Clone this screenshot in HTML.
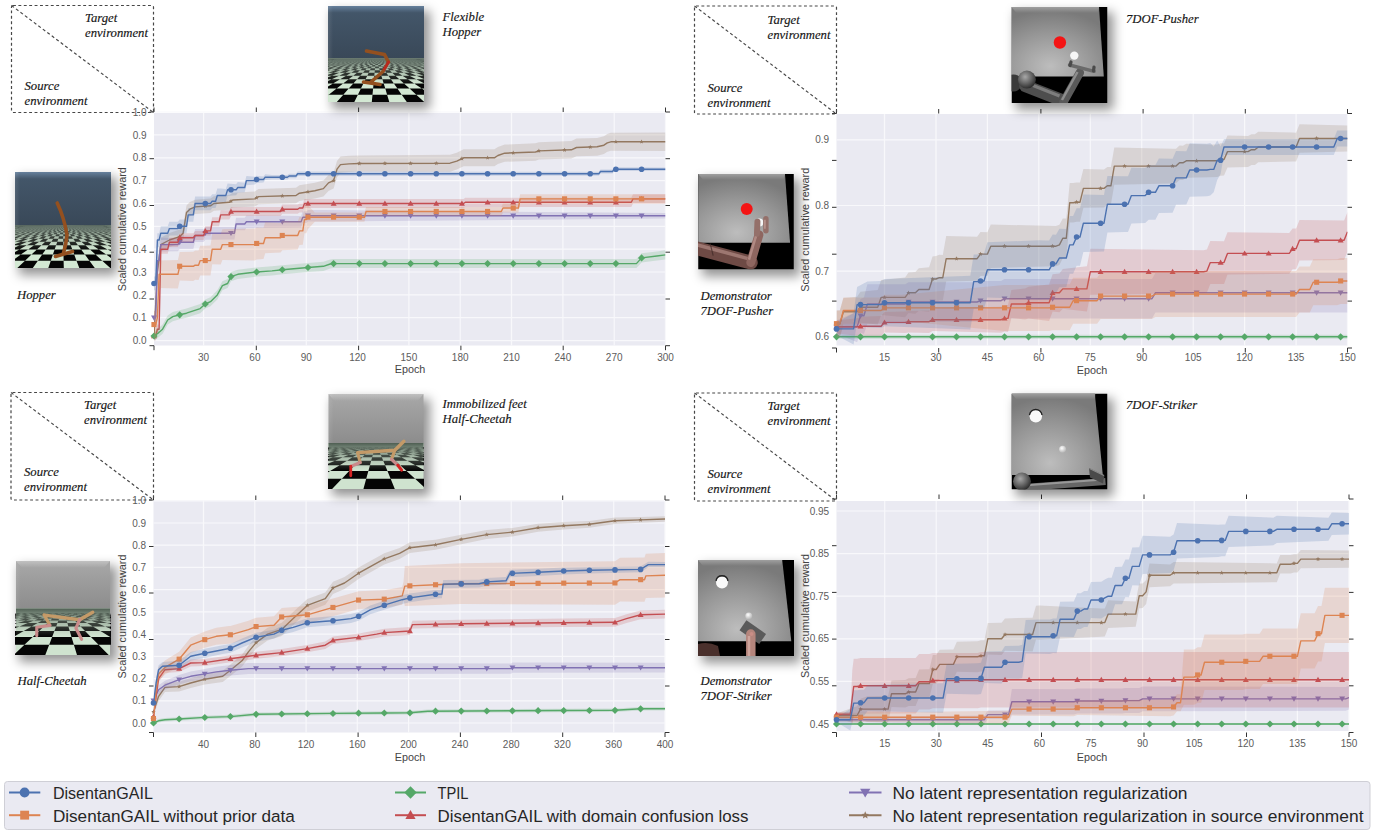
<!DOCTYPE html>
<html><head><meta charset="utf-8"><title>figure</title>
<style>
html,body{margin:0;padding:0;background:#fff;overflow:hidden}
svg{display:block}
.tk{font-family:"Liberation Sans", sans-serif;font-size:10px;fill:#5c5c5c}
.al{font-family:"Liberation Sans", sans-serif;font-size:10.8px;fill:#444}
.it{font-family:"Liberation Serif", serif;font-style:italic;font-size:12.7px;fill:#151515;stroke:#151515;stroke-width:0.15px}
.lg{font-family:"Liberation Sans", sans-serif;font-size:16.3px;fill:#262626}
</style></head><body>
<svg width="1380" height="839" viewBox="0 0 1380 839">
<defs>
<linearGradient id="skyH" x1="0" y1="0" x2="0" y2="1"><stop offset="0" stop-color="#66809c"/><stop offset="0.13" stop-color="#435669"/><stop offset="1" stop-color="#394858"/></linearGradient>
<linearGradient id="hazeH" x1="0" y1="0" x2="0" y2="1"><stop offset="0" stop-color="#5f6f66" stop-opacity="0.95"/><stop offset="0.3" stop-color="#6f7f74" stop-opacity="0.6"/><stop offset="1" stop-color="#8a9a8a" stop-opacity="0"/></linearGradient>
<linearGradient id="bevL" x1="0" y1="0" x2="1" y2="0"><stop offset="0" stop-color="#fff" stop-opacity="0.10"/><stop offset="1" stop-color="#fff" stop-opacity="0"/></linearGradient>
<linearGradient id="skyC" x1="0" y1="0" x2="0" y2="1"><stop offset="0" stop-color="#a8a8a8"/><stop offset="1" stop-color="#8c8c8c"/></linearGradient>
<linearGradient id="hazeC" x1="0" y1="0" x2="0" y2="1"><stop offset="0" stop-color="#4e5e52" stop-opacity="1"/><stop offset="0.3" stop-color="#6d7d70" stop-opacity="0.7"/><stop offset="1" stop-color="#9aaa9a" stop-opacity="0"/></linearGradient>
<linearGradient id="bevT" x1="0" y1="0" x2="0" y2="1"><stop offset="0" stop-color="#fff" stop-opacity="0.28"/><stop offset="1" stop-color="#fff" stop-opacity="0"/></linearGradient>
<radialGradient id="sphG" cx="0.4" cy="0.35" r="0.65"><stop offset="0" stop-color="#a8a8a8"/><stop offset="0.6" stop-color="#606060"/><stop offset="1" stop-color="#2e2e2e"/></radialGradient>
<radialGradient id="ballG" cx="0.4" cy="0.35" r="0.7"><stop offset="0" stop-color="#ffffff"/><stop offset="1" stop-color="#b0b0b0"/></radialGradient>
<radialGradient id="tableG" cx="0.42" cy="0.85" r="0.8"><stop offset="0" stop-color="#bdbdbd"/><stop offset="0.6" stop-color="#969696"/><stop offset="1" stop-color="#7a7a7a"/></radialGradient>
<filter id="shd" x="-30%" y="-30%" width="170%" height="170%"><feGaussianBlur stdDeviation="5.5"/></filter>
<symbol id="hop1" viewBox="0 0 96 96">
<rect width="96" height="52.5" fill="url(#skyH)"/>
<rect y="52" width="96" height="44" fill="#d3e8d3"/>
<path d="M-26.2 96.0L-8.7 96.0L0.7 88.7L-13.9 88.7ZM8.8 96.0L26.3 96.0L29.9 88.7L15.3 88.7ZM43.8 96.0L61.3 96.0L59.1 88.7L44.5 88.7ZM78.8 96.0L96.3 96.0L88.3 88.7L73.7 88.7ZM0.7 88.7L15.3 88.7L20.7 82.6L8.6 82.6ZM29.9 88.7L44.5 88.7L45.1 82.6L32.9 82.6ZM59.1 88.7L73.7 88.7L69.4 82.6L57.3 82.6ZM88.3 88.7L102.9 88.7L93.8 82.6L81.6 82.6ZM-3.6 82.6L8.6 82.6L15.1 77.5L5.0 77.5ZM20.7 82.6L32.9 82.6L35.4 77.5L25.3 77.5ZM45.1 82.6L57.3 82.6L55.7 77.5L45.6 77.5ZM69.4 82.6L81.6 82.6L76.0 77.5L65.9 77.5ZM93.8 82.6L105.9 82.6L96.3 77.5L86.2 77.5ZM-5.2 77.5L5.0 77.5L12.1 73.3L3.7 73.3ZM15.1 77.5L25.3 77.5L29.1 73.3L20.6 73.3ZM35.4 77.5L45.6 77.5L46.0 73.3L37.5 73.3ZM55.7 77.5L65.9 77.5L62.9 73.3L54.4 73.3ZM76.0 77.5L86.2 77.5L79.8 73.3L71.3 73.3ZM96.3 77.5L106.5 77.5L96.7 73.3L88.3 73.3ZM-4.8 73.3L3.7 73.3L11.1 69.7L4.0 69.7ZM12.1 73.3L20.6 73.3L25.2 69.7L18.1 69.7ZM29.1 73.3L37.5 73.3L39.3 69.7L32.2 69.7ZM46.0 73.3L54.4 73.3L53.4 69.7L46.3 69.7ZM62.9 73.3L71.3 73.3L67.4 69.7L60.4 69.7ZM79.8 73.3L88.3 73.3L81.5 69.7L74.5 69.7ZM96.7 73.3L105.2 73.3L95.6 69.7L88.6 69.7ZM-3.0 69.7L4.0 69.7L11.4 66.8L5.5 66.8ZM11.1 69.7L18.1 69.7L23.1 66.8L17.3 66.8ZM25.2 69.7L32.2 69.7L34.9 66.8L29.0 66.8ZM39.3 69.7L46.3 69.7L46.6 66.8L40.7 66.8ZM53.4 69.7L60.4 69.7L58.3 66.8L52.5 66.8ZM67.4 69.7L74.5 69.7L70.1 66.8L64.2 66.8ZM81.5 69.7L88.6 69.7L81.8 66.8L75.9 66.8ZM95.6 69.7L102.7 69.7L93.5 66.8L87.7 66.8ZM-12.1 66.8L-6.2 66.8L2.9 64.3L-2.0 64.3ZM-0.3 66.8L5.5 66.8L12.6 64.3L7.8 64.3ZM11.4 66.8L17.3 66.8L22.4 64.3L17.5 64.3ZM23.1 66.8L29.0 66.8L32.2 64.3L27.3 64.3ZM34.9 66.8L40.7 66.8L41.9 64.3L37.1 64.3ZM46.6 66.8L52.5 66.8L51.7 64.3L46.8 64.3ZM58.3 66.8L64.2 66.8L61.5 64.3L56.6 64.3ZM70.1 66.8L75.9 66.8L71.2 64.3L66.4 64.3ZM81.8 66.8L87.7 66.8L81.0 64.3L76.1 64.3ZM93.5 66.8L99.4 66.8L90.8 64.3L85.9 64.3ZM105.3 66.8L111.1 66.8L100.5 64.3L95.7 64.3ZM-6.9 64.3L-2.0 64.3L6.4 62.2L2.3 62.2ZM2.9 64.3L7.8 64.3L14.5 62.2L10.5 62.2ZM12.6 64.3L17.5 64.3L22.7 62.2L18.6 62.2ZM22.4 64.3L27.3 64.3L30.8 62.2L26.7 62.2ZM32.2 64.3L37.1 64.3L38.9 62.2L34.8 62.2ZM41.9 64.3L46.8 64.3L47.0 62.2L43.0 62.2ZM51.7 64.3L56.6 64.3L55.1 62.2L51.1 62.2ZM61.5 64.3L66.4 64.3L63.3 62.2L59.2 62.2ZM71.2 64.3L76.1 64.3L71.4 62.2L67.3 62.2ZM81.0 64.3L85.9 64.3L79.5 62.2L75.5 62.2ZM90.8 64.3L95.7 64.3L87.6 62.2L83.6 62.2ZM100.5 64.3L105.4 64.3L95.8 62.2L91.7 62.2ZM-9.8 62.2L-5.8 62.2L3.3 60.5L-0.1 60.5ZM-1.7 62.2L2.3 62.2L10.1 60.5L6.7 60.5ZM6.4 62.2L10.5 62.2L16.8 60.5L13.4 60.5ZM14.5 62.2L18.6 62.2L23.6 60.5L20.2 60.5ZM22.7 62.2L26.7 62.2L30.3 60.5L26.9 60.5ZM30.8 62.2L34.8 62.2L37.1 60.5L33.7 60.5ZM38.9 62.2L43.0 62.2L43.8 60.5L40.4 60.5ZM47.0 62.2L51.1 62.2L50.6 60.5L47.2 60.5ZM55.1 62.2L59.2 62.2L57.3 60.5L53.9 60.5ZM63.3 62.2L67.3 62.2L64.1 60.5L60.7 60.5ZM71.4 62.2L75.5 62.2L70.8 60.5L67.4 60.5ZM79.5 62.2L83.6 62.2L77.6 60.5L74.2 60.5ZM87.6 62.2L91.7 62.2L84.3 60.5L80.9 60.5ZM95.8 62.2L99.8 62.2L91.1 60.5L87.7 60.5ZM103.9 62.2L108.0 62.2L97.8 60.5L94.5 60.5ZM-10.2 60.5L-6.8 60.5L2.5 59.0L-0.3 59.0ZM-3.4 60.5L-0.1 60.5L8.1 59.0L5.3 59.0ZM3.3 60.5L6.7 60.5L13.7 59.0L10.9 59.0ZM10.1 60.5L13.4 60.5L19.3 59.0L16.5 59.0ZM16.8 60.5L20.2 60.5L24.9 59.0L22.1 59.0ZM23.6 60.5L26.9 60.5L30.5 59.0L27.7 59.0ZM30.3 60.5L33.7 60.5L36.1 59.0L33.3 59.0ZM37.1 60.5L40.4 60.5L41.7 59.0L38.9 59.0ZM43.8 60.5L47.2 60.5L47.3 59.0L44.5 59.0ZM50.6 60.5L53.9 60.5L52.9 59.0L50.1 59.0ZM57.3 60.5L60.7 60.5L58.5 59.0L55.7 59.0ZM64.1 60.5L67.4 60.5L64.1 59.0L61.3 59.0ZM70.8 60.5L74.2 60.5L69.8 59.0L66.9 59.0ZM77.6 60.5L80.9 60.5L75.4 59.0L72.6 59.0ZM84.3 60.5L87.7 60.5L81.0 59.0L78.2 59.0ZM91.1 60.5L94.5 60.5L86.6 59.0L83.8 59.0ZM97.8 60.5L101.2 60.5L92.2 59.0L89.4 59.0ZM104.6 60.5L108.0 60.5L97.8 59.0L95.0 59.0ZM-8.7 59.0L-5.9 59.0L3.3 57.8L1.0 57.8ZM-3.1 59.0L-0.3 59.0L7.9 57.8L5.6 57.8ZM2.5 59.0L5.3 59.0L12.6 57.8L10.3 57.8ZM8.1 59.0L10.9 59.0L17.2 57.8L14.9 57.8ZM13.7 59.0L16.5 59.0L21.9 57.8L19.5 57.8ZM19.3 59.0L22.1 59.0L26.5 57.8L24.2 57.8ZM24.9 59.0L27.7 59.0L31.2 57.8L28.8 57.8ZM30.5 59.0L33.3 59.0L35.8 57.8L33.5 57.8ZM36.1 59.0L38.9 59.0L40.5 57.8L38.1 57.8ZM41.7 59.0L44.5 59.0L45.1 57.8L42.8 57.8ZM47.3 59.0L50.1 59.0L49.8 57.8L47.4 57.8ZM52.9 59.0L55.7 59.0L54.4 57.8L52.1 57.8ZM58.5 59.0L61.3 59.0L59.1 57.8L56.7 57.8ZM64.1 59.0L66.9 59.0L63.7 57.8L61.4 57.8ZM69.8 59.0L72.6 59.0L68.4 57.8L66.0 57.8ZM75.4 59.0L78.2 59.0L73.0 57.8L70.7 57.8ZM81.0 59.0L83.8 59.0L77.7 57.8L75.3 57.8ZM86.6 59.0L89.4 59.0L82.3 57.8L80.0 57.8ZM92.2 59.0L95.0 59.0L87.0 57.8L84.6 57.8ZM97.8 59.0L100.6 59.0L91.6 57.8L89.3 57.8ZM103.4 59.0L106.2 59.0L96.3 57.8L93.9 57.8ZM-10.7 57.8L-8.3 57.8L1.3 56.8L-0.6 56.8ZM-6.0 57.8L-3.7 57.8L5.2 56.8L3.3 56.8ZM-1.4 57.8L1.0 57.8L9.0 56.8L7.1 56.8ZM3.3 57.8L5.6 57.8L12.9 56.8L11.0 56.8ZM7.9 57.8L10.3 57.8L16.7 56.8L14.8 56.8ZM12.6 57.8L14.9 57.8L20.6 56.8L18.7 56.8ZM17.2 57.8L19.5 57.8L24.4 56.8L22.5 56.8ZM21.9 57.8L24.2 57.8L28.3 56.8L26.4 56.8ZM26.5 57.8L28.8 57.8L32.1 56.8L30.2 56.8ZM31.2 57.8L33.5 57.8L36.0 56.8L34.1 56.8ZM35.8 57.8L38.1 57.8L39.8 56.8L37.9 56.8ZM40.5 57.8L42.8 57.8L43.7 56.8L41.8 56.8ZM45.1 57.8L47.4 57.8L47.5 56.8L45.6 56.8ZM49.8 57.8L52.1 57.8L51.4 56.8L49.5 56.8ZM54.4 57.8L56.7 57.8L55.2 56.8L53.3 56.8ZM59.1 57.8L61.4 57.8L59.1 56.8L57.2 56.8ZM63.7 57.8L66.0 57.8L62.9 56.8L61.0 56.8ZM68.4 57.8L70.7 57.8L66.8 56.8L64.9 56.8ZM73.0 57.8L75.3 57.8L70.6 56.8L68.7 56.8ZM77.7 57.8L80.0 57.8L74.5 56.8L72.6 56.8ZM82.3 57.8L84.6 57.8L78.3 56.8L76.4 56.8ZM87.0 57.8L89.3 57.8L82.2 56.8L80.3 56.8ZM91.6 57.8L93.9 57.8L86.0 56.8L84.1 56.8ZM96.3 57.8L98.6 57.8L89.9 56.8L88.0 56.8ZM100.9 57.8L103.2 57.8L93.7 56.8L91.8 56.8ZM105.6 57.8L107.9 57.8L97.6 56.8L95.7 56.8ZM-10.2 56.8L-8.3 56.8L1.5 56.0L-0.1 56.0ZM-6.4 56.8L-4.4 56.8L4.6 56.0L3.1 56.0ZM-2.5 56.8L-0.6 56.8L7.8 56.0L6.2 56.0ZM1.3 56.8L3.3 56.8L11.0 56.0L9.4 56.0ZM5.2 56.8L7.1 56.8L14.2 56.0L12.6 56.0ZM9.0 56.8L11.0 56.8L17.4 56.0L15.8 56.0ZM12.9 56.8L14.8 56.8L20.6 56.0L19.0 56.0ZM16.7 56.8L18.7 56.8L23.7 56.0L22.2 56.0ZM20.6 56.8L22.5 56.8L26.9 56.0L25.3 56.0ZM24.4 56.8L26.4 56.8L30.1 56.0L28.5 56.0ZM28.3 56.8L30.2 56.8L33.3 56.0L31.7 56.0ZM32.1 56.8L34.1 56.8L36.5 56.0L34.9 56.0ZM36.0 56.8L37.9 56.8L39.7 56.0L38.1 56.0ZM39.8 56.8L41.8 56.8L42.8 56.0L41.3 56.0ZM43.7 56.8L45.6 56.8L46.0 56.0L44.4 56.0ZM47.5 56.8L49.5 56.8L49.2 56.0L47.6 56.0ZM51.4 56.8L53.3 56.8L52.4 56.0L50.8 56.0ZM55.2 56.8L57.2 56.8L55.6 56.0L54.0 56.0ZM59.1 56.8L61.0 56.8L58.8 56.0L57.2 56.0ZM62.9 56.8L64.9 56.8L61.9 56.0L60.3 56.0ZM66.8 56.8L68.7 56.8L65.1 56.0L63.5 56.0ZM70.6 56.8L72.6 56.8L68.3 56.0L66.7 56.0ZM74.5 56.8L76.4 56.8L71.5 56.0L69.9 56.0ZM78.3 56.8L80.3 56.8L74.7 56.0L73.1 56.0ZM82.2 56.8L84.1 56.8L77.9 56.0L76.3 56.0ZM86.0 56.8L88.0 56.8L81.0 56.0L79.4 56.0ZM89.9 56.8L91.8 56.8L84.2 56.0L82.6 56.0ZM93.7 56.8L95.7 56.8L87.4 56.0L85.8 56.0ZM97.6 56.8L99.5 56.8L90.6 56.0L89.0 56.0ZM101.4 56.8L103.4 56.8L93.8 56.0L92.2 56.0ZM105.3 56.8L107.2 56.8L97.0 56.0L95.4 56.0ZM-11.3 56.0L-9.7 56.0L0.4 55.3L-0.9 55.3ZM-8.1 56.0L-6.5 56.0L3.0 55.3L1.7 55.3ZM-4.9 56.0L-3.3 56.0L5.7 55.3L4.4 55.3ZM-1.7 56.0L-0.1 56.0L8.3 55.3L7.0 55.3ZM1.5 56.0L3.1 56.0L10.9 55.3L9.6 55.3ZM4.6 56.0L6.2 56.0L13.5 55.3L12.2 55.3ZM7.8 56.0L9.4 56.0L16.2 55.3L14.9 55.3ZM11.0 56.0L12.6 56.0L18.8 55.3L17.5 55.3ZM14.2 56.0L15.8 56.0L21.4 55.3L20.1 55.3ZM17.4 56.0L19.0 56.0L24.1 55.3L22.7 55.3ZM20.6 56.0L22.2 56.0L26.7 55.3L25.4 55.3ZM23.7 56.0L25.3 56.0L29.3 55.3L28.0 55.3ZM26.9 56.0L28.5 56.0L31.9 55.3L30.6 55.3ZM30.1 56.0L31.7 56.0L34.6 55.3L33.2 55.3ZM33.3 56.0L34.9 56.0L37.2 55.3L35.9 55.3ZM36.5 56.0L38.1 56.0L39.8 55.3L38.5 55.3ZM39.7 56.0L41.3 56.0L42.4 55.3L41.1 55.3ZM42.8 56.0L44.4 56.0L45.1 55.3L43.7 55.3ZM46.0 56.0L47.6 56.0L47.7 55.3L46.4 55.3ZM49.2 56.0L50.8 56.0L50.3 55.3L49.0 55.3ZM52.4 56.0L54.0 56.0L52.9 55.3L51.6 55.3ZM55.6 56.0L57.2 56.0L55.6 55.3L54.2 55.3ZM58.8 56.0L60.3 56.0L58.2 55.3L56.9 55.3ZM61.9 56.0L63.5 56.0L60.8 55.3L59.5 55.3ZM65.1 56.0L66.7 56.0L63.4 55.3L62.1 55.3ZM68.3 56.0L69.9 56.0L66.1 55.3L64.8 55.3ZM71.5 56.0L73.1 56.0L68.7 55.3L67.4 55.3ZM74.7 56.0L76.3 56.0L71.3 55.3L70.0 55.3ZM77.9 56.0L79.4 56.0L73.9 55.3L72.6 55.3ZM81.0 56.0L82.6 56.0L76.6 55.3L75.3 55.3ZM84.2 56.0L85.8 56.0L79.2 55.3L77.9 55.3ZM87.4 56.0L89.0 56.0L81.8 55.3L80.5 55.3ZM90.6 56.0L92.2 56.0L84.4 55.3L83.1 55.3ZM93.8 56.0L95.4 56.0L87.1 55.3L85.8 55.3ZM97.0 56.0L98.5 56.0L89.7 55.3L88.4 55.3ZM100.1 56.0L101.7 56.0L92.3 55.3L91.0 55.3ZM103.3 56.0L104.9 56.0L95.0 55.3L93.6 55.3ZM-10.1 55.3L-8.8 55.3L1.3 54.7L0.2 54.7ZM-7.5 55.3L-6.1 55.3L3.4 54.7L2.4 54.7ZM-4.8 55.3L-3.5 55.3L5.6 54.7L4.5 54.7ZM-2.2 55.3L-0.9 55.3L7.8 54.7L6.7 54.7ZM0.4 55.3L1.7 55.3L9.9 54.7L8.8 54.7ZM3.0 55.3L4.4 55.3L12.1 54.7L11.0 54.7ZM5.7 55.3L7.0 55.3L14.2 54.7L13.2 54.7ZM8.3 55.3L9.6 55.3L16.4 54.7L15.3 54.7ZM10.9 55.3L12.2 55.3L18.6 54.7L17.5 54.7ZM13.5 55.3L14.9 55.3L20.7 54.7L19.6 54.7ZM16.2 55.3L17.5 55.3L22.9 54.7L21.8 54.7ZM18.8 55.3L20.1 55.3L25.1 54.7L24.0 54.7ZM21.4 55.3L22.7 55.3L27.2 54.7L26.1 54.7ZM24.1 55.3L25.4 55.3L29.4 54.7L28.3 54.7ZM26.7 55.3L28.0 55.3L31.5 54.7L30.5 54.7ZM29.3 55.3L30.6 55.3L33.7 54.7L32.6 54.7ZM31.9 55.3L33.2 55.3L35.9 54.7L34.8 54.7ZM34.6 55.3L35.9 55.3L38.0 54.7L36.9 54.7ZM37.2 55.3L38.5 55.3L40.2 54.7L39.1 54.7ZM39.8 55.3L41.1 55.3L42.3 54.7L41.3 54.7ZM42.4 55.3L43.7 55.3L44.5 54.7L43.4 54.7ZM45.1 55.3L46.4 55.3L46.7 54.7L45.6 54.7ZM47.7 55.3L49.0 55.3L48.8 54.7L47.7 54.7ZM50.3 55.3L51.6 55.3L51.0 54.7L49.9 54.7ZM52.9 55.3L54.2 55.3L53.1 54.7L52.1 54.7ZM55.6 55.3L56.9 55.3L55.3 54.7L54.2 54.7ZM58.2 55.3L59.5 55.3L57.5 54.7L56.4 54.7ZM60.8 55.3L62.1 55.3L59.6 54.7L58.5 54.7ZM63.4 55.3L64.8 55.3L61.8 54.7L60.7 54.7ZM66.1 55.3L67.4 55.3L63.9 54.7L62.9 54.7ZM68.7 55.3L70.0 55.3L66.1 54.7L65.0 54.7ZM71.3 55.3L72.6 55.3L68.3 54.7L67.2 54.7ZM73.9 55.3L75.3 55.3L70.4 54.7L69.3 54.7ZM76.6 55.3L77.9 55.3L72.6 54.7L71.5 54.7ZM79.2 55.3L80.5 55.3L74.8 54.7L73.7 54.7ZM81.8 55.3L83.1 55.3L76.9 54.7L75.8 54.7ZM84.4 55.3L85.8 55.3L79.1 54.7L78.0 54.7ZM87.1 55.3L88.4 55.3L81.2 54.7L80.2 54.7ZM89.7 55.3L91.0 55.3L83.4 54.7L82.3 54.7ZM92.3 55.3L93.6 55.3L85.6 54.7L84.5 54.7ZM95.0 55.3L96.3 55.3L87.7 54.7L86.6 54.7ZM97.6 55.3L98.9 55.3L89.9 54.7L88.8 54.7ZM100.2 55.3L101.5 55.3L92.0 54.7L91.0 54.7ZM102.8 55.3L104.1 55.3L94.2 54.7L93.1 54.7ZM105.5 55.3L106.8 55.3L96.4 54.7L95.3 54.7ZM-9.5 54.7L-8.4 54.7L1.7 54.2L0.8 54.2ZM-7.4 54.7L-6.3 54.7L3.5 54.2L2.6 54.2ZM-5.2 54.7L-4.1 54.7L5.2 54.2L4.4 54.2ZM-3.0 54.7L-2.0 54.7L7.0 54.2L6.1 54.2ZM-0.9 54.7L0.2 54.7L8.8 54.2L7.9 54.2ZM1.3 54.7L2.4 54.7L10.6 54.2L9.7 54.2ZM3.4 54.7L4.5 54.7L12.3 54.2L11.5 54.2ZM5.6 54.7L6.7 54.7L14.1 54.2L13.2 54.2ZM7.8 54.7L8.8 54.7L15.9 54.2L15.0 54.2ZM9.9 54.7L11.0 54.7L17.7 54.2L16.8 54.2ZM12.1 54.7L13.2 54.7L19.4 54.2L18.5 54.2ZM14.2 54.7L15.3 54.7L21.2 54.2L20.3 54.2ZM16.4 54.7L17.5 54.7L23.0 54.2L22.1 54.2ZM18.6 54.7L19.6 54.7L24.7 54.2L23.9 54.2ZM20.7 54.7L21.8 54.7L26.5 54.2L25.6 54.2ZM22.9 54.7L24.0 54.7L28.3 54.2L27.4 54.2ZM25.1 54.7L26.1 54.7L30.1 54.2L29.2 54.2ZM27.2 54.7L28.3 54.7L31.8 54.2L30.9 54.2ZM29.4 54.7L30.5 54.7L33.6 54.2L32.7 54.2ZM31.5 54.7L32.6 54.7L35.4 54.2L34.5 54.2ZM33.7 54.7L34.8 54.7L37.2 54.2L36.3 54.2ZM35.9 54.7L36.9 54.7L38.9 54.2L38.0 54.2ZM38.0 54.7L39.1 54.7L40.7 54.2L39.8 54.2ZM40.2 54.7L41.3 54.7L42.5 54.2L41.6 54.2ZM42.3 54.7L43.4 54.7L44.2 54.2L43.4 54.2ZM44.5 54.7L45.6 54.7L46.0 54.2L45.1 54.2ZM46.7 54.7L47.7 54.7L47.8 54.2L46.9 54.2ZM48.8 54.7L49.9 54.7L49.6 54.2L48.7 54.2ZM51.0 54.7L52.1 54.7L51.3 54.2L50.4 54.2ZM53.1 54.7L54.2 54.7L53.1 54.2L52.2 54.2ZM55.3 54.7L56.4 54.7L54.9 54.2L54.0 54.2ZM57.5 54.7L58.5 54.7L56.6 54.2L55.8 54.2ZM59.6 54.7L60.7 54.7L58.4 54.2L57.5 54.2ZM61.8 54.7L62.9 54.7L60.2 54.2L59.3 54.2ZM63.9 54.7L65.0 54.7L62.0 54.2L61.1 54.2ZM66.1 54.7L67.2 54.7L63.7 54.2L62.9 54.2ZM68.3 54.7L69.3 54.7L65.5 54.2L64.6 54.2ZM70.4 54.7L71.5 54.7L67.3 54.2L66.4 54.2ZM72.6 54.7L73.7 54.7L69.1 54.2L68.2 54.2ZM74.8 54.7L75.8 54.7L70.8 54.2L69.9 54.2ZM76.9 54.7L78.0 54.7L72.6 54.2L71.7 54.2ZM79.1 54.7L80.2 54.7L74.4 54.2L73.5 54.2ZM81.2 54.7L82.3 54.7L76.1 54.2L75.3 54.2ZM83.4 54.7L84.5 54.7L77.9 54.2L77.0 54.2ZM85.6 54.7L86.6 54.7L79.7 54.2L78.8 54.2ZM87.7 54.7L88.8 54.7L81.5 54.2L80.6 54.2ZM89.9 54.7L91.0 54.7L83.2 54.2L82.4 54.2ZM92.0 54.7L93.1 54.7L85.0 54.2L84.1 54.2ZM94.2 54.7L95.3 54.7L86.8 54.2L85.9 54.2ZM96.4 54.7L97.4 54.7L88.6 54.2L87.7 54.2ZM98.5 54.7L99.6 54.7L90.3 54.2L89.4 54.2ZM100.7 54.7L101.8 54.7L92.1 54.2L91.2 54.2ZM102.8 54.7L103.9 54.7L93.9 54.2L93.0 54.2ZM105.0 54.7L106.1 54.7L95.6 54.2L94.8 54.2ZM-10.7 54.2L-9.8 54.2L0.8 53.8L0.0 53.8ZM-8.9 54.2L-8.0 54.2L2.2 53.8L1.5 53.8ZM-7.2 54.2L-6.3 54.2L3.7 53.8L2.9 53.8ZM-5.4 54.2L-4.5 54.2L5.1 53.8L4.4 53.8ZM-3.6 54.2L-2.7 54.2L6.6 53.8L5.8 53.8ZM-1.8 54.2L-1.0 54.2L8.0 53.8L7.3 53.8ZM-0.1 54.2L0.8 54.2L9.4 53.8L8.7 53.8ZM1.7 54.2L2.6 54.2L10.9 53.8L10.2 53.8ZM3.5 54.2L4.4 54.2L12.3 53.8L11.6 53.8ZM5.2 54.2L6.1 54.2L13.8 53.8L13.1 53.8ZM7.0 54.2L7.9 54.2L15.2 53.8L14.5 53.8ZM8.8 54.2L9.7 54.2L16.7 53.8L16.0 53.8ZM10.6 54.2L11.5 54.2L18.1 53.8L17.4 53.8ZM12.3 54.2L13.2 54.2L19.6 53.8L18.9 53.8ZM14.1 54.2L15.0 54.2L21.0 53.8L20.3 53.8ZM15.9 54.2L16.8 54.2L22.5 53.8L21.8 53.8ZM17.7 54.2L18.5 54.2L23.9 53.8L23.2 53.8ZM19.4 54.2L20.3 54.2L25.4 53.8L24.7 53.8ZM21.2 54.2L22.1 54.2L26.8 53.8L26.1 53.8ZM23.0 54.2L23.9 54.2L28.3 53.8L27.6 53.8ZM24.7 54.2L25.6 54.2L29.7 53.8L29.0 53.8ZM26.5 54.2L27.4 54.2L31.2 53.8L30.4 53.8ZM28.3 54.2L29.2 54.2L32.6 53.8L31.9 53.8ZM30.1 54.2L30.9 54.2L34.1 53.8L33.3 53.8ZM31.8 54.2L32.7 54.2L35.5 53.8L34.8 53.8ZM33.6 54.2L34.5 54.2L37.0 53.8L36.2 53.8ZM35.4 54.2L36.3 54.2L38.4 53.8L37.7 53.8ZM37.2 54.2L38.0 54.2L39.9 53.8L39.1 53.8ZM38.9 54.2L39.8 54.2L41.3 53.8L40.6 53.8ZM40.7 54.2L41.6 54.2L42.8 53.8L42.0 53.8ZM42.5 54.2L43.4 54.2L44.2 53.8L43.5 53.8ZM44.2 54.2L45.1 54.2L45.7 53.8L44.9 53.8ZM46.0 54.2L46.9 54.2L47.1 53.8L46.4 53.8ZM47.8 54.2L48.7 54.2L48.6 53.8L47.8 53.8ZM49.6 54.2L50.4 54.2L50.0 53.8L49.3 53.8ZM51.3 54.2L52.2 54.2L51.4 53.8L50.7 53.8ZM53.1 54.2L54.0 54.2L52.9 53.8L52.2 53.8ZM54.9 54.2L55.8 54.2L54.3 53.8L53.6 53.8ZM56.6 54.2L57.5 54.2L55.8 53.8L55.1 53.8ZM58.4 54.2L59.3 54.2L57.2 53.8L56.5 53.8ZM60.2 54.2L61.1 54.2L58.7 53.8L58.0 53.8ZM62.0 54.2L62.9 54.2L60.1 53.8L59.4 53.8ZM63.7 54.2L64.6 54.2L61.6 53.8L60.9 53.8ZM65.5 54.2L66.4 54.2L63.0 53.8L62.3 53.8ZM67.3 54.2L68.2 54.2L64.5 53.8L63.8 53.8ZM69.1 54.2L69.9 54.2L65.9 53.8L65.2 53.8ZM70.8 54.2L71.7 54.2L67.4 53.8L66.7 53.8ZM72.6 54.2L73.5 54.2L68.8 53.8L68.1 53.8ZM74.4 54.2L75.3 54.2L70.3 53.8L69.5 53.8ZM76.1 54.2L77.0 54.2L71.7 53.8L71.0 53.8ZM77.9 54.2L78.8 54.2L73.2 53.8L72.4 53.8ZM79.7 54.2L80.6 54.2L74.6 53.8L73.9 53.8ZM81.5 54.2L82.4 54.2L76.1 53.8L75.3 53.8ZM83.2 54.2L84.1 54.2L77.5 53.8L76.8 53.8ZM85.0 54.2L85.9 54.2L79.0 53.8L78.2 53.8ZM86.8 54.2L87.7 54.2L80.4 53.8L79.7 53.8ZM88.6 54.2L89.4 54.2L81.9 53.8L81.1 53.8ZM90.3 54.2L91.2 54.2L83.3 53.8L82.6 53.8ZM92.1 54.2L93.0 54.2L84.8 53.8L84.0 53.8ZM93.9 54.2L94.8 54.2L86.2 53.8L85.5 53.8ZM95.6 54.2L96.5 54.2L87.7 53.8L86.9 53.8ZM97.4 54.2L98.3 54.2L89.1 53.8L88.4 53.8ZM99.2 54.2L100.1 54.2L90.5 53.8L89.8 53.8ZM101.0 54.2L101.8 54.2L92.0 53.8L91.3 53.8ZM102.7 54.2L103.6 54.2L93.4 53.8L92.7 53.8ZM104.5 54.2L105.4 54.2L94.9 53.8L94.2 53.8ZM106.3 54.2L107.2 54.2L96.3 53.8L95.6 53.8ZM-10.8 53.8L-10.1 53.8L0.8 53.5L0.2 53.5ZM-9.4 53.8L-8.7 53.8L1.9 53.5L1.3 53.5ZM-7.9 53.8L-7.2 53.8L3.1 53.5L2.5 53.5ZM-6.5 53.8L-5.8 53.8L4.3 53.5L3.7 53.5ZM-5.0 53.8L-4.3 53.8L5.5 53.5L4.9 53.5ZM-3.6 53.8L-2.9 53.8L6.6 53.5L6.1 53.5ZM-2.1 53.8L-1.4 53.8L7.8 53.5L7.2 53.5ZM-0.7 53.8L0.0 53.8L9.0 53.5L8.4 53.5ZM0.8 53.8L1.5 53.8L10.2 53.5L9.6 53.5ZM2.2 53.8L2.9 53.8L11.4 53.5L10.8 53.5ZM3.7 53.8L4.4 53.8L12.5 53.5L11.9 53.5ZM5.1 53.8L5.8 53.8L13.7 53.5L13.1 53.5ZM6.6 53.8L7.3 53.8L14.9 53.5L14.3 53.5ZM8.0 53.8L8.7 53.8L16.1 53.5L15.5 53.5ZM9.4 53.8L10.2 53.8L17.2 53.5L16.7 53.5ZM10.9 53.8L11.6 53.8L18.4 53.5L17.8 53.5ZM12.3 53.8L13.1 53.8L19.6 53.5L19.0 53.5ZM13.8 53.8L14.5 53.8L20.8 53.5L20.2 53.5ZM15.2 53.8L16.0 53.8L22.0 53.5L21.4 53.5ZM16.7 53.8L17.4 53.8L23.1 53.5L22.5 53.5ZM18.1 53.8L18.9 53.8L24.3 53.5L23.7 53.5ZM19.6 53.8L20.3 53.8L25.5 53.5L24.9 53.5ZM21.0 53.8L21.8 53.8L26.7 53.5L26.1 53.5ZM22.5 53.8L23.2 53.8L27.8 53.5L27.3 53.5ZM23.9 53.8L24.7 53.8L29.0 53.5L28.4 53.5ZM25.4 53.8L26.1 53.8L30.2 53.5L29.6 53.5ZM26.8 53.8L27.6 53.8L31.4 53.5L30.8 53.5ZM28.3 53.8L29.0 53.8L32.6 53.5L32.0 53.5ZM29.7 53.8L30.4 53.8L33.7 53.5L33.1 53.5ZM31.2 53.8L31.9 53.8L34.9 53.5L34.3 53.5ZM32.6 53.8L33.3 53.8L36.1 53.5L35.5 53.5ZM34.1 53.8L34.8 53.8L37.3 53.5L36.7 53.5ZM35.5 53.8L36.2 53.8L38.4 53.5L37.9 53.5ZM37.0 53.8L37.7 53.8L39.6 53.5L39.0 53.5ZM38.4 53.8L39.1 53.8L40.8 53.5L40.2 53.5ZM39.9 53.8L40.6 53.8L42.0 53.5L41.4 53.5ZM41.3 53.8L42.0 53.8L43.1 53.5L42.6 53.5ZM42.8 53.8L43.5 53.8L44.3 53.5L43.7 53.5ZM44.2 53.8L44.9 53.8L45.5 53.5L44.9 53.5ZM45.7 53.8L46.4 53.8L46.7 53.5L46.1 53.5ZM47.1 53.8L47.8 53.8L47.9 53.5L47.3 53.5ZM48.6 53.8L49.3 53.8L49.0 53.5L48.4 53.5ZM50.0 53.8L50.7 53.8L50.2 53.5L49.6 53.5ZM51.4 53.8L52.2 53.8L51.4 53.5L50.8 53.5ZM52.9 53.8L53.6 53.8L52.6 53.5L52.0 53.5ZM54.3 53.8L55.1 53.8L53.7 53.5L53.2 53.5ZM55.8 53.8L56.5 53.8L54.9 53.5L54.3 53.5ZM57.2 53.8L58.0 53.8L56.1 53.5L55.5 53.5ZM58.7 53.8L59.4 53.8L57.3 53.5L56.7 53.5ZM60.1 53.8L60.9 53.8L58.5 53.5L57.9 53.5ZM61.6 53.8L62.3 53.8L59.6 53.5L59.0 53.5ZM63.0 53.8L63.8 53.8L60.8 53.5L60.2 53.5ZM64.5 53.8L65.2 53.8L62.0 53.5L61.4 53.5ZM65.9 53.8L66.7 53.8L63.2 53.5L62.6 53.5ZM67.4 53.8L68.1 53.8L64.3 53.5L63.8 53.5ZM68.8 53.8L69.5 53.8L65.5 53.5L64.9 53.5ZM70.3 53.8L71.0 53.8L66.7 53.5L66.1 53.5ZM71.7 53.8L72.4 53.8L67.9 53.5L67.3 53.5ZM73.2 53.8L73.9 53.8L69.1 53.5L68.5 53.5ZM74.6 53.8L75.3 53.8L70.2 53.5L69.6 53.5ZM76.1 53.8L76.8 53.8L71.4 53.5L70.8 53.5ZM77.5 53.8L78.2 53.8L72.6 53.5L72.0 53.5ZM79.0 53.8L79.7 53.8L73.8 53.5L73.2 53.5ZM80.4 53.8L81.1 53.8L74.9 53.5L74.4 53.5ZM81.9 53.8L82.6 53.8L76.1 53.5L75.5 53.5ZM83.3 53.8L84.0 53.8L77.3 53.5L76.7 53.5ZM84.8 53.8L85.5 53.8L78.5 53.5L77.9 53.5ZM86.2 53.8L86.9 53.8L79.6 53.5L79.1 53.5ZM87.7 53.8L88.4 53.8L80.8 53.5L80.2 53.5ZM89.1 53.8L89.8 53.8L82.0 53.5L81.4 53.5ZM90.5 53.8L91.3 53.8L83.2 53.5L82.6 53.5ZM92.0 53.8L92.7 53.8L84.4 53.5L83.8 53.5ZM93.4 53.8L94.2 53.8L85.5 53.5L84.9 53.5ZM94.9 53.8L95.6 53.8L86.7 53.5L86.1 53.5ZM96.3 53.8L97.1 53.8L87.9 53.5L87.3 53.5ZM97.8 53.8L98.5 53.8L89.1 53.5L88.5 53.5ZM99.2 53.8L100.0 53.8L90.2 53.5L89.7 53.5ZM100.7 53.8L101.4 53.8L91.4 53.5L90.8 53.5ZM102.1 53.8L102.9 53.8L92.6 53.5L92.0 53.5ZM103.6 53.8L104.3 53.8L93.8 53.5L93.2 53.5ZM105.0 53.8L105.8 53.8L95.0 53.5L94.4 53.5ZM106.5 53.8L107.2 53.8L96.1 53.5L95.5 53.5ZM-11.0 53.5L-10.4 53.5L0.8 53.2L0.3 53.2ZM-9.8 53.5L-9.2 53.5L1.7 53.2L1.3 53.2ZM-8.7 53.5L-8.1 53.5L2.7 53.2L2.2 53.2ZM-7.5 53.5L-6.9 53.5L3.6 53.2L3.2 53.2ZM-6.3 53.5L-5.7 53.5L4.6 53.2L4.1 53.2ZM-5.1 53.5L-4.5 53.5L5.6 53.2L5.1 53.2ZM-3.9 53.5L-3.4 53.5L6.5 53.2L6.0 53.2ZM-2.8 53.5L-2.2 53.5L7.5 53.2L7.0 53.2ZM-1.6 53.5L-1.0 53.5L8.4 53.2L7.9 53.2ZM-0.4 53.5L0.2 53.5L9.4 53.2L8.9 53.2ZM0.8 53.5L1.3 53.5L10.3 53.2L9.8 53.2ZM1.9 53.5L2.5 53.5L11.3 53.2L10.8 53.2ZM3.1 53.5L3.7 53.5L12.2 53.2L11.7 53.2ZM4.3 53.5L4.9 53.5L13.2 53.2L12.7 53.2ZM5.5 53.5L6.1 53.5L14.1 53.2L13.6 53.2ZM6.6 53.5L7.2 53.5L15.1 53.2L14.6 53.2ZM7.8 53.5L8.4 53.5L16.0 53.2L15.5 53.2ZM9.0 53.5L9.6 53.5L17.0 53.2L16.5 53.2ZM10.2 53.5L10.8 53.5L17.9 53.2L17.4 53.2ZM11.4 53.5L11.9 53.5L18.9 53.2L18.4 53.2ZM12.5 53.5L13.1 53.5L19.8 53.2L19.3 53.2ZM13.7 53.5L14.3 53.5L20.8 53.2L20.3 53.2ZM14.9 53.5L15.5 53.5L21.7 53.2L21.2 53.2ZM16.1 53.5L16.7 53.5L22.7 53.2L22.2 53.2ZM17.2 53.5L17.8 53.5L23.6 53.2L23.2 53.2ZM18.4 53.5L19.0 53.5L24.6 53.2L24.1 53.2ZM19.6 53.5L20.2 53.5L25.5 53.2L25.1 53.2ZM20.8 53.5L21.4 53.5L26.5 53.2L26.0 53.2ZM22.0 53.5L22.5 53.5L27.4 53.2L27.0 53.2ZM23.1 53.5L23.7 53.5L28.4 53.2L27.9 53.2ZM24.3 53.5L24.9 53.5L29.3 53.2L28.9 53.2ZM25.5 53.5L26.1 53.5L30.3 53.2L29.8 53.2ZM26.7 53.5L27.3 53.5L31.2 53.2L30.8 53.2ZM27.8 53.5L28.4 53.5L32.2 53.2L31.7 53.2ZM29.0 53.5L29.6 53.5L33.1 53.2L32.7 53.2ZM30.2 53.5L30.8 53.5L34.1 53.2L33.6 53.2ZM31.4 53.5L32.0 53.5L35.0 53.2L34.6 53.2ZM32.6 53.5L33.1 53.5L36.0 53.2L35.5 53.2ZM33.7 53.5L34.3 53.5L36.9 53.2L36.5 53.2ZM34.9 53.5L35.5 53.5L37.9 53.2L37.4 53.2ZM36.1 53.5L36.7 53.5L38.8 53.2L38.4 53.2ZM37.3 53.5L37.9 53.5L39.8 53.2L39.3 53.2ZM38.4 53.5L39.0 53.5L40.8 53.2L40.3 53.2ZM39.6 53.5L40.2 53.5L41.7 53.2L41.2 53.2ZM40.8 53.5L41.4 53.5L42.7 53.2L42.2 53.2ZM42.0 53.5L42.6 53.5L43.6 53.2L43.1 53.2ZM43.1 53.5L43.7 53.5L44.6 53.2L44.1 53.2ZM44.3 53.5L44.9 53.5L45.5 53.2L45.0 53.2ZM45.5 53.5L46.1 53.5L46.5 53.2L46.0 53.2ZM46.7 53.5L47.3 53.5L47.4 53.2L46.9 53.2ZM47.9 53.5L48.4 53.5L48.4 53.2L47.9 53.2ZM49.0 53.5L49.6 53.5L49.3 53.2L48.8 53.2ZM50.2 53.5L50.8 53.5L50.3 53.2L49.8 53.2ZM51.4 53.5L52.0 53.5L51.2 53.2L50.7 53.2ZM52.6 53.5L53.2 53.5L52.2 53.2L51.7 53.2ZM53.7 53.5L54.3 53.5L53.1 53.2L52.6 53.2ZM54.9 53.5L55.5 53.5L54.1 53.2L53.6 53.2ZM56.1 53.5L56.7 53.5L55.0 53.2L54.5 53.2ZM57.3 53.5L57.9 53.5L56.0 53.2L55.5 53.2ZM58.5 53.5L59.0 53.5L56.9 53.2L56.4 53.2ZM59.6 53.5L60.2 53.5L57.9 53.2L57.4 53.2ZM60.8 53.5L61.4 53.5L58.8 53.2L58.4 53.2ZM62.0 53.5L62.6 53.5L59.8 53.2L59.3 53.2ZM63.2 53.5L63.8 53.5L60.7 53.2L60.3 53.2ZM64.3 53.5L64.9 53.5L61.7 53.2L61.2 53.2ZM65.5 53.5L66.1 53.5L62.6 53.2L62.2 53.2ZM66.7 53.5L67.3 53.5L63.6 53.2L63.1 53.2ZM67.9 53.5L68.5 53.5L64.5 53.2L64.1 53.2ZM69.1 53.5L69.6 53.5L65.5 53.2L65.0 53.2ZM70.2 53.5L70.8 53.5L66.4 53.2L66.0 53.2ZM71.4 53.5L72.0 53.5L67.4 53.2L66.9 53.2ZM72.6 53.5L73.2 53.5L68.3 53.2L67.9 53.2ZM73.8 53.5L74.4 53.5L69.3 53.2L68.8 53.2ZM74.9 53.5L75.5 53.5L70.2 53.2L69.8 53.2ZM76.1 53.5L76.7 53.5L71.2 53.2L70.7 53.2ZM77.3 53.5L77.9 53.5L72.1 53.2L71.7 53.2ZM78.5 53.5L79.1 53.5L73.1 53.2L72.6 53.2ZM79.6 53.5L80.2 53.5L74.0 53.2L73.6 53.2ZM80.8 53.5L81.4 53.5L75.0 53.2L74.5 53.2ZM82.0 53.5L82.6 53.5L76.0 53.2L75.5 53.2ZM83.2 53.5L83.8 53.5L76.9 53.2L76.4 53.2ZM84.4 53.5L84.9 53.5L77.9 53.2L77.4 53.2ZM85.5 53.5L86.1 53.5L78.8 53.2L78.3 53.2ZM86.7 53.5L87.3 53.5L79.8 53.2L79.3 53.2ZM87.9 53.5L88.5 53.5L80.7 53.2L80.2 53.2ZM89.1 53.5L89.7 53.5L81.7 53.2L81.2 53.2ZM90.2 53.5L90.8 53.5L82.6 53.2L82.1 53.2ZM91.4 53.5L92.0 53.5L83.6 53.2L83.1 53.2ZM92.6 53.5L93.2 53.5L84.5 53.2L84.0 53.2ZM93.8 53.5L94.4 53.5L85.5 53.2L85.0 53.2ZM95.0 53.5L95.5 53.5L86.4 53.2L85.9 53.2ZM96.1 53.5L96.7 53.5L87.4 53.2L86.9 53.2ZM97.3 53.5L97.9 53.5L88.3 53.2L87.8 53.2ZM98.5 53.5L99.1 53.5L89.3 53.2L88.8 53.2ZM99.7 53.5L100.3 53.5L90.2 53.2L89.7 53.2ZM100.8 53.5L101.4 53.5L91.2 53.2L90.7 53.2ZM102.0 53.5L102.6 53.5L92.1 53.2L91.6 53.2ZM103.2 53.5L103.8 53.5L93.1 53.2L92.6 53.2ZM104.4 53.5L105.0 53.5L94.0 53.2L93.6 53.2ZM105.6 53.5L106.1 53.5L95.0 53.2L94.5 53.2ZM106.7 53.5L107.3 53.5L95.9 53.2L95.5 53.2ZM-11.6 53.2L-11.1 53.2L0.6 53.0L0.2 53.0ZM-10.6 53.2L-10.1 53.2L1.4 53.0L1.0 53.0ZM-9.7 53.2L-9.2 53.2L2.2 53.0L1.8 53.0ZM-8.7 53.2L-8.2 53.2L2.9 53.0L2.5 53.0ZM-7.8 53.2L-7.3 53.2L3.7 53.0L3.3 53.0ZM-6.8 53.2L-6.3 53.2L4.4 53.0L4.1 53.0ZM-5.9 53.2L-5.4 53.2L5.2 53.0L4.8 53.0ZM-4.9 53.2L-4.4 53.2L6.0 53.0L5.6 53.0ZM-4.0 53.2L-3.5 53.2L6.7 53.0L6.3 53.0ZM-3.0 53.2L-2.5 53.2L7.5 53.0L7.1 53.0ZM-2.1 53.2L-1.6 53.2L8.3 53.0L7.9 53.0ZM-1.1 53.2L-0.6 53.2L9.0 53.0L8.6 53.0ZM-0.2 53.2L0.3 53.2L9.8 53.0L9.4 53.0ZM0.8 53.2L1.3 53.2L10.5 53.0L10.2 53.0ZM1.7 53.2L2.2 53.2L11.3 53.0L10.9 53.0ZM2.7 53.2L3.2 53.2L12.1 53.0L11.7 53.0ZM3.6 53.2L4.1 53.2L12.8 53.0L12.4 53.0ZM4.6 53.2L5.1 53.2L13.6 53.0L13.2 53.0ZM5.6 53.2L6.0 53.2L14.4 53.0L14.0 53.0ZM6.5 53.2L7.0 53.2L15.1 53.0L14.7 53.0ZM7.5 53.2L7.9 53.2L15.9 53.0L15.5 53.0ZM8.4 53.2L8.9 53.2L16.6 53.0L16.3 53.0ZM9.4 53.2L9.8 53.2L17.4 53.0L17.0 53.0ZM10.3 53.2L10.8 53.2L18.2 53.0L17.8 53.0ZM11.3 53.2L11.7 53.2L18.9 53.0L18.5 53.0ZM12.2 53.2L12.7 53.2L19.7 53.0L19.3 53.0ZM13.2 53.2L13.6 53.2L20.5 53.0L20.1 53.0ZM14.1 53.2L14.6 53.2L21.2 53.0L20.8 53.0ZM15.1 53.2L15.5 53.2L22.0 53.0L21.6 53.0ZM16.0 53.2L16.5 53.2L22.7 53.0L22.4 53.0ZM17.0 53.2L17.4 53.2L23.5 53.0L23.1 53.0ZM17.9 53.2L18.4 53.2L24.3 53.0L23.9 53.0ZM18.9 53.2L19.3 53.2L25.0 53.0L24.7 53.0ZM19.8 53.2L20.3 53.2L25.8 53.0L25.4 53.0ZM20.8 53.2L21.2 53.2L26.6 53.0L26.2 53.0ZM21.7 53.2L22.2 53.2L27.3 53.0L26.9 53.0ZM22.7 53.2L23.2 53.2L28.1 53.0L27.7 53.0ZM23.6 53.2L24.1 53.2L28.8 53.0L28.5 53.0ZM24.6 53.2L25.1 53.2L29.6 53.0L29.2 53.0ZM25.5 53.2L26.0 53.2L30.4 53.0L30.0 53.0ZM26.5 53.2L27.0 53.2L31.1 53.0L30.8 53.0ZM27.4 53.2L27.9 53.2L31.9 53.0L31.5 53.0ZM28.4 53.2L28.9 53.2L32.7 53.0L32.3 53.0ZM29.3 53.2L29.8 53.2L33.4 53.0L33.0 53.0ZM30.3 53.2L30.8 53.2L34.2 53.0L33.8 53.0ZM31.2 53.2L31.7 53.2L34.9 53.0L34.6 53.0ZM32.2 53.2L32.7 53.2L35.7 53.0L35.3 53.0ZM33.1 53.2L33.6 53.2L36.5 53.0L36.1 53.0ZM34.1 53.2L34.6 53.2L37.2 53.0L36.9 53.0ZM35.0 53.2L35.5 53.2L38.0 53.0L37.6 53.0ZM36.0 53.2L36.5 53.2L38.8 53.0L38.4 53.0ZM36.9 53.2L37.4 53.2L39.5 53.0L39.1 53.0ZM37.9 53.2L38.4 53.2L40.3 53.0L39.9 53.0ZM38.8 53.2L39.3 53.2L41.0 53.0L40.7 53.0ZM39.8 53.2L40.3 53.2L41.8 53.0L41.4 53.0ZM40.8 53.2L41.2 53.2L42.6 53.0L42.2 53.0ZM41.7 53.2L42.2 53.2L43.3 53.0L43.0 53.0ZM42.7 53.2L43.1 53.2L44.1 53.0L43.7 53.0ZM43.6 53.2L44.1 53.2L44.9 53.0L44.5 53.0ZM44.6 53.2L45.0 53.2L45.6 53.0L45.2 53.0ZM45.5 53.2L46.0 53.2L46.4 53.0L46.0 53.0ZM46.5 53.2L46.9 53.2L47.1 53.0L46.8 53.0ZM47.4 53.2L47.9 53.2L47.9 53.0L47.5 53.0ZM48.4 53.2L48.8 53.2L48.7 53.0L48.3 53.0ZM49.3 53.2L49.8 53.2L49.4 53.0L49.1 53.0ZM50.3 53.2L50.7 53.2L50.2 53.0L49.8 53.0ZM51.2 53.2L51.7 53.2L51.0 53.0L50.6 53.0ZM52.2 53.2L52.6 53.2L51.7 53.0L51.3 53.0ZM53.1 53.2L53.6 53.2L52.5 53.0L52.1 53.0ZM54.1 53.2L54.5 53.2L53.2 53.0L52.9 53.0ZM55.0 53.2L55.5 53.2L54.0 53.0L53.6 53.0ZM56.0 53.2L56.4 53.2L54.8 53.0L54.4 53.0ZM56.9 53.2L57.4 53.2L55.5 53.0L55.2 53.0ZM57.9 53.2L58.4 53.2L56.3 53.0L55.9 53.0ZM58.8 53.2L59.3 53.2L57.1 53.0L56.7 53.0ZM59.8 53.2L60.3 53.2L57.8 53.0L57.4 53.0ZM60.7 53.2L61.2 53.2L58.6 53.0L58.2 53.0ZM61.7 53.2L62.2 53.2L59.3 53.0L59.0 53.0ZM62.6 53.2L63.1 53.2L60.1 53.0L59.7 53.0ZM63.6 53.2L64.1 53.2L60.9 53.0L60.5 53.0ZM64.5 53.2L65.0 53.2L61.6 53.0L61.3 53.0ZM65.5 53.2L66.0 53.2L62.4 53.0L62.0 53.0ZM66.4 53.2L66.9 53.2L63.2 53.0L62.8 53.0ZM67.4 53.2L67.9 53.2L63.9 53.0L63.5 53.0ZM68.3 53.2L68.8 53.2L64.7 53.0L64.3 53.0ZM69.3 53.2L69.8 53.2L65.4 53.0L65.1 53.0ZM70.2 53.2L70.7 53.2L66.2 53.0L65.8 53.0ZM71.2 53.2L71.7 53.2L67.0 53.0L66.6 53.0ZM72.1 53.2L72.6 53.2L67.7 53.0L67.4 53.0ZM73.1 53.2L73.6 53.2L68.5 53.0L68.1 53.0ZM74.0 53.2L74.5 53.2L69.3 53.0L68.9 53.0ZM75.0 53.2L75.5 53.2L70.0 53.0L69.6 53.0ZM76.0 53.2L76.4 53.2L70.8 53.0L70.4 53.0ZM76.9 53.2L77.4 53.2L71.5 53.0L71.2 53.0ZM77.9 53.2L78.3 53.2L72.3 53.0L71.9 53.0ZM78.8 53.2L79.3 53.2L73.1 53.0L72.7 53.0ZM79.8 53.2L80.2 53.2L73.8 53.0L73.5 53.0ZM80.7 53.2L81.2 53.2L74.6 53.0L74.2 53.0ZM81.7 53.2L82.1 53.2L75.4 53.0L75.0 53.0ZM82.6 53.2L83.1 53.2L76.1 53.0L75.7 53.0ZM83.6 53.2L84.0 53.2L76.9 53.0L76.5 53.0ZM84.5 53.2L85.0 53.2L77.6 53.0L77.3 53.0ZM85.5 53.2L85.9 53.2L78.4 53.0L78.0 53.0ZM86.4 53.2L86.9 53.2L79.2 53.0L78.8 53.0ZM87.4 53.2L87.8 53.2L79.9 53.0L79.6 53.0ZM88.3 53.2L88.8 53.2L80.7 53.0L80.3 53.0ZM89.3 53.2L89.7 53.2L81.5 53.0L81.1 53.0ZM90.2 53.2L90.7 53.2L82.2 53.0L81.8 53.0ZM91.2 53.2L91.6 53.2L83.0 53.0L82.6 53.0ZM92.1 53.2L92.6 53.2L83.7 53.0L83.4 53.0ZM93.1 53.2L93.6 53.2L84.5 53.0L84.1 53.0ZM94.0 53.2L94.5 53.2L85.3 53.0L84.9 53.0ZM95.0 53.2L95.5 53.2L86.0 53.0L85.7 53.0ZM95.9 53.2L96.4 53.2L86.8 53.0L86.4 53.0ZM96.9 53.2L97.4 53.2L87.6 53.0L87.2 53.0ZM97.8 53.2L98.3 53.2L88.3 53.0L87.9 53.0ZM98.8 53.2L99.3 53.2L89.1 53.0L88.7 53.0ZM99.7 53.2L100.2 53.2L89.8 53.0L89.5 53.0ZM100.7 53.2L101.2 53.2L90.6 53.0L90.2 53.0ZM101.6 53.2L102.1 53.2L91.4 53.0L91.0 53.0ZM102.6 53.2L103.1 53.2L92.1 53.0L91.8 53.0ZM103.5 53.2L104.0 53.2L92.9 53.0L92.5 53.0ZM104.5 53.2L105.0 53.2L93.7 53.0L93.3 53.0ZM105.4 53.2L105.9 53.2L94.4 53.0L94.0 53.0ZM106.4 53.2L106.9 53.2L95.2 53.0L94.8 53.0ZM107.3 53.2L107.8 53.2L95.9 53.0L95.6 53.0Z" fill="#050505"/>
<rect y="52" width="96" height="26.4" fill="url(#hazeH)"/>
<polyline points="38.5,45 56.5,48.5 60.5,56" fill="none" stroke="#94501f" stroke-width="3.6" stroke-linecap="round" stroke-linejoin="round"/>
<line x1="60.5" y1="56" x2="55" y2="65.5" stroke="#b82a1e" stroke-width="3" stroke-linecap="round"/>
<line x1="55" y1="65.5" x2="43" y2="76" stroke="#94501f" stroke-width="3.4" stroke-linecap="round"/>
<line x1="35.5" y1="76" x2="52" y2="78.5" stroke="#94501f" stroke-width="3.6" stroke-linecap="round"/>
<rect width="5" height="52" fill="url(#bevL)"/>
</symbol>
<symbol id="hop2" viewBox="0 0 96 96">
<rect width="96" height="53.5" fill="url(#skyH)"/>
<rect y="53" width="96" height="43" fill="#d3e8d3"/>
<path d="M2.3 96.0L17.8 96.0L22.9 88.7L10.0 88.7ZM33.3 96.0L48.8 96.0L48.6 88.7L35.8 88.7ZM64.3 96.0L79.8 96.0L74.4 88.7L61.5 88.7ZM95.3 96.0L110.8 96.0L100.1 88.7L87.2 88.7ZM-2.8 88.7L10.0 88.7L16.5 82.6L5.8 82.6ZM22.9 88.7L35.8 88.7L37.9 82.6L27.2 82.6ZM48.6 88.7L61.5 88.7L59.2 82.6L48.5 82.6ZM74.4 88.7L87.2 88.7L80.5 82.6L69.9 82.6ZM100.1 88.7L113.0 88.7L101.9 82.6L91.2 82.6ZM-4.8 82.6L5.8 82.6L13.1 77.5L4.3 77.5ZM16.5 82.6L27.2 82.6L30.8 77.5L21.9 77.5ZM37.9 82.6L48.5 82.6L48.4 77.5L39.6 77.5ZM59.2 82.6L69.9 82.6L66.1 77.5L57.3 77.5ZM80.5 82.6L91.2 82.6L83.8 77.5L75.0 77.5ZM101.9 82.6L112.6 82.6L101.5 77.5L92.6 77.5ZM-4.6 77.5L4.3 77.5L11.8 73.3L4.5 73.3ZM13.1 77.5L21.9 77.5L26.5 73.3L19.1 73.3ZM30.8 77.5L39.6 77.5L41.1 73.3L33.8 73.3ZM48.4 77.5L57.3 77.5L55.7 73.3L48.4 73.3ZM66.1 77.5L75.0 77.5L70.3 73.3L63.0 73.3ZM83.8 77.5L92.6 77.5L84.9 73.3L77.6 73.3ZM101.5 77.5L110.3 77.5L99.5 73.3L92.2 73.3ZM-17.4 73.3L-10.1 73.3L0.1 69.7L-5.9 69.7ZM-2.8 73.3L4.5 73.3L12.1 69.7L6.1 69.7ZM11.8 73.3L19.1 73.3L24.2 69.7L18.2 69.7ZM26.5 73.3L33.8 73.3L36.3 69.7L30.2 69.7ZM41.1 73.3L48.4 73.3L48.3 69.7L42.3 69.7ZM55.7 73.3L63.0 73.3L60.4 69.7L54.3 69.7ZM70.3 73.3L77.6 73.3L72.4 69.7L66.4 69.7ZM84.9 73.3L92.2 73.3L84.5 69.7L78.4 69.7ZM99.5 73.3L106.8 73.3L96.5 69.7L90.5 69.7ZM-12.0 69.7L-5.9 69.7L3.6 66.8L-1.3 66.8ZM0.1 69.7L6.1 69.7L13.5 66.8L8.6 66.8ZM12.1 69.7L18.2 69.7L23.5 66.8L18.5 66.8ZM24.2 69.7L30.2 69.7L33.4 66.8L28.4 66.8ZM36.3 69.7L42.3 69.7L43.3 66.8L38.3 66.8ZM48.3 69.7L54.3 69.7L53.2 66.8L48.2 66.8ZM60.4 69.7L66.4 69.7L63.1 66.8L58.2 66.8ZM72.4 69.7L78.4 69.7L73.0 66.8L68.1 66.8ZM84.5 69.7L90.5 69.7L83.0 66.8L78.0 66.8ZM96.5 69.7L102.5 69.7L92.9 66.8L87.9 66.8ZM-6.3 66.8L-1.3 66.8L7.5 64.3L3.5 64.3ZM3.6 66.8L8.6 66.8L15.7 64.3L11.6 64.3ZM13.5 66.8L18.5 66.8L23.8 64.3L19.7 64.3ZM23.5 66.8L28.4 66.8L31.9 64.3L27.9 64.3ZM33.4 66.8L38.3 66.8L40.1 64.3L36.0 64.3ZM43.3 66.8L48.2 66.8L48.2 64.3L44.1 64.3ZM53.2 66.8L58.2 66.8L56.3 64.3L52.3 64.3ZM63.1 66.8L68.1 66.8L64.5 64.3L60.4 64.3ZM73.0 66.8L78.0 66.8L72.6 64.3L68.5 64.3ZM83.0 66.8L87.9 66.8L80.7 64.3L76.7 64.3ZM92.9 66.8L97.8 66.8L88.9 64.3L84.8 64.3ZM102.8 66.8L107.7 66.8L97.0 64.3L92.9 64.3ZM-8.7 64.3L-4.6 64.3L5.0 62.2L1.7 62.2ZM-0.6 64.3L3.5 64.3L11.6 62.2L8.3 62.2ZM7.5 64.3L11.6 64.3L18.3 62.2L15.0 62.2ZM15.7 64.3L19.7 64.3L24.9 62.2L21.6 62.2ZM23.8 64.3L27.9 64.3L31.6 62.2L28.2 62.2ZM31.9 64.3L36.0 64.3L38.2 62.2L34.9 62.2ZM40.1 64.3L44.1 64.3L44.8 62.2L41.5 62.2ZM48.2 64.3L52.3 64.3L51.5 62.2L48.2 62.2ZM56.3 64.3L60.4 64.3L58.1 62.2L54.8 62.2ZM64.5 64.3L68.5 64.3L64.8 62.2L61.4 62.2ZM72.6 64.3L76.7 64.3L71.4 62.2L68.1 62.2ZM80.7 64.3L84.8 64.3L78.1 62.2L74.7 62.2ZM88.9 64.3L92.9 64.3L84.7 62.2L81.4 62.2ZM97.0 64.3L101.1 64.3L91.3 62.2L88.0 62.2ZM105.1 64.3L109.2 64.3L98.0 62.2L94.7 62.2ZM-8.3 62.2L-5.0 62.2L5.0 60.5L2.3 60.5ZM-1.6 62.2L1.7 62.2L10.3 60.5L7.6 60.5ZM5.0 62.2L8.3 62.2L15.7 60.5L13.0 60.5ZM11.6 62.2L15.0 62.2L21.1 60.5L18.4 60.5ZM18.3 62.2L21.6 62.2L26.5 60.5L23.8 60.5ZM24.9 62.2L28.2 62.2L31.9 60.5L29.2 60.5ZM31.6 62.2L34.9 62.2L37.3 60.5L34.6 60.5ZM38.2 62.2L41.5 62.2L42.7 60.5L40.0 60.5ZM44.8 62.2L48.2 62.2L48.1 60.5L45.4 60.5ZM51.5 62.2L54.8 62.2L53.5 60.5L50.8 60.5ZM58.1 62.2L61.4 62.2L58.9 60.5L56.2 60.5ZM64.8 62.2L68.1 62.2L64.3 60.5L61.6 60.5ZM71.4 62.2L74.7 62.2L69.7 60.5L67.0 60.5ZM78.1 62.2L81.4 62.2L75.1 60.5L72.4 60.5ZM84.7 62.2L88.0 62.2L80.5 60.5L77.8 60.5ZM91.3 62.2L94.7 62.2L85.9 60.5L83.2 60.5ZM98.0 62.2L101.3 62.2L91.3 60.5L88.6 60.5ZM104.6 62.2L107.9 62.2L96.7 60.5L94.0 60.5ZM-11.2 60.5L-8.5 60.5L2.3 59.0L0.2 59.0ZM-5.8 60.5L-3.1 60.5L6.7 59.0L4.5 59.0ZM-0.4 60.5L2.3 60.5L11.1 59.0L8.9 59.0ZM5.0 60.5L7.6 60.5L15.4 59.0L13.2 59.0ZM10.3 60.5L13.0 60.5L19.8 59.0L17.6 59.0ZM15.7 60.5L18.4 60.5L24.1 59.0L22.0 59.0ZM21.1 60.5L23.8 60.5L28.5 59.0L26.3 59.0ZM26.5 60.5L29.2 60.5L32.9 59.0L30.7 59.0ZM31.9 60.5L34.6 60.5L37.2 59.0L35.0 59.0ZM37.3 60.5L40.0 60.5L41.6 59.0L39.4 59.0ZM42.7 60.5L45.4 60.5L45.9 59.0L43.7 59.0ZM48.1 60.5L50.8 60.5L50.3 59.0L48.1 59.0ZM53.5 60.5L56.2 60.5L54.6 59.0L52.5 59.0ZM58.9 60.5L61.6 60.5L59.0 59.0L56.8 59.0ZM64.3 60.5L67.0 60.5L63.4 59.0L61.2 59.0ZM69.7 60.5L72.4 60.5L67.7 59.0L65.5 59.0ZM75.1 60.5L77.8 60.5L72.1 59.0L69.9 59.0ZM80.5 60.5L83.2 60.5L76.4 59.0L74.3 59.0ZM85.9 60.5L88.6 60.5L80.8 59.0L78.6 59.0ZM91.3 60.5L94.0 60.5L85.2 59.0L83.0 59.0ZM96.7 60.5L99.4 60.5L89.5 59.0L87.3 59.0ZM102.1 60.5L104.8 60.5L93.9 59.0L91.7 59.0ZM-10.7 59.0L-8.6 59.0L2.7 57.8L0.9 57.8ZM-6.4 59.0L-4.2 59.0L6.2 57.8L4.4 57.8ZM-2.0 59.0L0.2 59.0L9.7 57.8L7.9 57.8ZM2.3 59.0L4.5 59.0L13.2 57.8L11.4 57.8ZM6.7 59.0L8.9 59.0L16.7 57.8L14.9 57.8ZM11.1 59.0L13.2 59.0L20.1 57.8L18.4 57.8ZM15.4 59.0L17.6 59.0L23.6 57.8L21.9 57.8ZM19.8 59.0L22.0 59.0L27.1 57.8L25.4 57.8ZM24.1 59.0L26.3 59.0L30.6 57.8L28.9 57.8ZM28.5 59.0L30.7 59.0L34.1 57.8L32.4 57.8ZM32.9 59.0L35.0 59.0L37.6 57.8L35.9 57.8ZM37.2 59.0L39.4 59.0L41.1 57.8L39.4 57.8ZM41.6 59.0L43.7 59.0L44.6 57.8L42.8 57.8ZM45.9 59.0L48.1 59.0L48.1 57.8L46.3 57.8ZM50.3 59.0L52.5 59.0L51.6 57.8L49.8 57.8ZM54.6 59.0L56.8 59.0L55.1 57.8L53.3 57.8ZM59.0 59.0L61.2 59.0L58.6 57.8L56.8 57.8ZM63.4 59.0L65.5 59.0L62.1 57.8L60.3 57.8ZM67.7 59.0L69.9 59.0L65.5 57.8L63.8 57.8ZM72.1 59.0L74.3 59.0L69.0 57.8L67.3 57.8ZM76.4 59.0L78.6 59.0L72.5 57.8L70.8 57.8ZM80.8 59.0L83.0 59.0L76.0 57.8L74.3 57.8ZM85.2 59.0L87.3 59.0L79.5 57.8L77.8 57.8ZM89.5 59.0L91.7 59.0L83.0 57.8L81.3 57.8ZM93.9 59.0L96.1 59.0L86.5 57.8L84.8 57.8ZM98.2 59.0L100.4 59.0L90.0 57.8L88.3 57.8ZM102.6 59.0L104.8 59.0L93.5 57.8L91.7 57.8ZM107.0 59.0L109.1 59.0L97.0 57.8L95.2 57.8ZM-11.3 57.8L-9.5 57.8L2.4 56.8L1.0 56.8ZM-7.8 57.8L-6.0 57.8L5.2 56.8L3.8 56.8ZM-4.3 57.8L-2.6 57.8L7.9 56.8L6.5 56.8ZM-0.8 57.8L0.9 57.8L10.7 56.8L9.3 56.8ZM2.7 57.8L4.4 57.8L13.5 56.8L12.1 56.8ZM6.2 57.8L7.9 57.8L16.2 56.8L14.8 56.8ZM9.7 57.8L11.4 57.8L19.0 56.8L17.6 56.8ZM13.2 57.8L14.9 57.8L21.8 56.8L20.4 56.8ZM16.7 57.8L18.4 57.8L24.5 56.8L23.2 56.8ZM20.1 57.8L21.9 57.8L27.3 56.8L25.9 56.8ZM23.6 57.8L25.4 57.8L30.1 56.8L28.7 56.8ZM27.1 57.8L28.9 57.8L32.8 56.8L31.5 56.8ZM30.6 57.8L32.4 57.8L35.6 56.8L34.2 56.8ZM34.1 57.8L35.9 57.8L38.4 56.8L37.0 56.8ZM37.6 57.8L39.4 57.8L41.1 56.8L39.8 56.8ZM41.1 57.8L42.8 57.8L43.9 56.8L42.5 56.8ZM44.6 57.8L46.3 57.8L46.7 56.8L45.3 56.8ZM48.1 57.8L49.8 57.8L49.5 56.8L48.1 56.8ZM51.6 57.8L53.3 57.8L52.2 56.8L50.8 56.8ZM55.1 57.8L56.8 57.8L55.0 56.8L53.6 56.8ZM58.6 57.8L60.3 57.8L57.8 56.8L56.4 56.8ZM62.1 57.8L63.8 57.8L60.5 56.8L59.1 56.8ZM65.5 57.8L67.3 57.8L63.3 56.8L61.9 56.8ZM69.0 57.8L70.8 57.8L66.1 56.8L64.7 56.8ZM72.5 57.8L74.3 57.8L68.8 56.8L67.4 56.8ZM76.0 57.8L77.8 57.8L71.6 56.8L70.2 56.8ZM79.5 57.8L81.3 57.8L74.4 56.8L73.0 56.8ZM83.0 57.8L84.8 57.8L77.1 56.8L75.8 56.8ZM86.5 57.8L88.3 57.8L79.9 56.8L78.5 56.8ZM90.0 57.8L91.7 57.8L82.7 56.8L81.3 56.8ZM93.5 57.8L95.2 57.8L85.4 56.8L84.1 56.8ZM97.0 57.8L98.7 57.8L88.2 56.8L86.8 56.8ZM100.5 57.8L102.2 57.8L91.0 56.8L89.6 56.8ZM104.0 57.8L105.7 57.8L93.7 56.8L92.4 56.8ZM107.5 57.8L109.2 57.8L96.5 56.8L95.1 56.8ZM-14.2 56.8L-12.8 56.8L0.4 56.0L-0.6 56.0ZM-11.5 56.8L-10.1 56.8L2.6 56.0L1.5 56.0ZM-8.7 56.8L-7.3 56.8L4.8 56.0L3.7 56.0ZM-5.9 56.8L-4.5 56.8L6.9 56.0L5.9 56.0ZM-3.1 56.8L-1.8 56.8L9.1 56.0L8.0 56.0ZM-0.4 56.8L1.0 56.8L11.3 56.0L10.2 56.0ZM2.4 56.8L3.8 56.8L13.4 56.0L12.4 56.0ZM5.2 56.8L6.5 56.8L15.6 56.0L14.5 56.0ZM7.9 56.8L9.3 56.8L17.8 56.0L16.7 56.0ZM10.7 56.8L12.1 56.8L19.9 56.0L18.8 56.0ZM13.5 56.8L14.8 56.8L22.1 56.0L21.0 56.0ZM16.2 56.8L17.6 56.8L24.3 56.0L23.2 56.0ZM19.0 56.8L20.4 56.8L26.4 56.0L25.3 56.0ZM21.8 56.8L23.2 56.8L28.6 56.0L27.5 56.0ZM24.5 56.8L25.9 56.8L30.7 56.0L29.7 56.0ZM27.3 56.8L28.7 56.8L32.9 56.0L31.8 56.0ZM30.1 56.8L31.5 56.8L35.1 56.0L34.0 56.0ZM32.8 56.8L34.2 56.8L37.2 56.0L36.2 56.0ZM35.6 56.8L37.0 56.8L39.4 56.0L38.3 56.0ZM38.4 56.8L39.8 56.8L41.6 56.0L40.5 56.0ZM41.1 56.8L42.5 56.8L43.7 56.0L42.6 56.0ZM43.9 56.8L45.3 56.8L45.9 56.0L44.8 56.0ZM46.7 56.8L48.1 56.8L48.1 56.0L47.0 56.0ZM49.5 56.8L50.8 56.8L50.2 56.0L49.1 56.0ZM52.2 56.8L53.6 56.8L52.4 56.0L51.3 56.0ZM55.0 56.8L56.4 56.8L54.5 56.0L53.5 56.0ZM57.8 56.8L59.1 56.8L56.7 56.0L55.6 56.0ZM60.5 56.8L61.9 56.8L58.9 56.0L57.8 56.0ZM63.3 56.8L64.7 56.8L61.0 56.0L60.0 56.0ZM66.1 56.8L67.4 56.8L63.2 56.0L62.1 56.0ZM68.8 56.8L70.2 56.8L65.4 56.0L64.3 56.0ZM71.6 56.8L73.0 56.8L67.5 56.0L66.4 56.0ZM74.4 56.8L75.8 56.8L69.7 56.0L68.6 56.0ZM77.1 56.8L78.5 56.8L71.9 56.0L70.8 56.0ZM79.9 56.8L81.3 56.8L74.0 56.0L72.9 56.0ZM82.7 56.8L84.1 56.8L76.2 56.0L75.1 56.0ZM85.4 56.8L86.8 56.8L78.3 56.0L77.3 56.0ZM88.2 56.8L89.6 56.8L80.5 56.0L79.4 56.0ZM91.0 56.8L92.4 56.8L82.7 56.0L81.6 56.0ZM93.7 56.8L95.1 56.8L84.8 56.0L83.8 56.0ZM96.5 56.8L97.9 56.8L87.0 56.0L85.9 56.0ZM99.3 56.8L100.7 56.8L89.2 56.0L88.1 56.0ZM102.1 56.8L103.4 56.8L91.3 56.0L90.2 56.0ZM104.8 56.8L106.2 56.8L93.5 56.0L92.4 56.0ZM107.6 56.8L109.0 56.8L95.7 56.0L94.6 56.0ZM-14.7 56.0L-13.6 56.0L0.8 55.3L-0.1 55.3ZM-12.5 56.0L-11.5 56.0L2.4 55.3L1.6 55.3ZM-10.4 56.0L-9.3 56.0L4.1 55.3L3.2 55.3ZM-8.2 56.0L-7.1 56.0L5.7 55.3L4.9 55.3ZM-6.0 56.0L-5.0 56.0L7.4 55.3L6.6 55.3ZM-3.9 56.0L-2.8 56.0L9.1 55.3L8.2 55.3ZM-1.7 56.0L-0.6 56.0L10.7 55.3L9.9 55.3ZM0.4 56.0L1.5 56.0L12.4 55.3L11.5 55.3ZM2.6 56.0L3.7 56.0L14.0 55.3L13.2 55.3ZM4.8 56.0L5.9 56.0L15.7 55.3L14.9 55.3ZM6.9 56.0L8.0 56.0L17.3 55.3L16.5 55.3ZM9.1 56.0L10.2 56.0L19.0 55.3L18.2 55.3ZM11.3 56.0L12.4 56.0L20.7 55.3L19.8 55.3ZM13.4 56.0L14.5 56.0L22.3 55.3L21.5 55.3ZM15.6 56.0L16.7 56.0L24.0 55.3L23.2 55.3ZM17.8 56.0L18.8 56.0L25.6 55.3L24.8 55.3ZM19.9 56.0L21.0 56.0L27.3 55.3L26.5 55.3ZM22.1 56.0L23.2 56.0L29.0 55.3L28.1 55.3ZM24.3 56.0L25.3 56.0L30.6 55.3L29.8 55.3ZM26.4 56.0L27.5 56.0L32.3 55.3L31.5 55.3ZM28.6 56.0L29.7 56.0L33.9 55.3L33.1 55.3ZM30.7 56.0L31.8 56.0L35.6 55.3L34.8 55.3ZM32.9 56.0L34.0 56.0L37.3 55.3L36.4 55.3ZM35.1 56.0L36.2 56.0L38.9 55.3L38.1 55.3ZM37.2 56.0L38.3 56.0L40.6 55.3L39.7 55.3ZM39.4 56.0L40.5 56.0L42.2 55.3L41.4 55.3ZM41.6 56.0L42.6 56.0L43.9 55.3L43.1 55.3ZM43.7 56.0L44.8 56.0L45.6 55.3L44.7 55.3ZM45.9 56.0L47.0 56.0L47.2 55.3L46.4 55.3ZM48.1 56.0L49.1 56.0L48.9 55.3L48.0 55.3ZM50.2 56.0L51.3 56.0L50.5 55.3L49.7 55.3ZM52.4 56.0L53.5 56.0L52.2 55.3L51.4 55.3ZM54.5 56.0L55.6 56.0L53.8 55.3L53.0 55.3ZM56.7 56.0L57.8 56.0L55.5 55.3L54.7 55.3ZM58.9 56.0L60.0 56.0L57.2 55.3L56.3 55.3ZM61.0 56.0L62.1 56.0L58.8 55.3L58.0 55.3ZM63.2 56.0L64.3 56.0L60.5 55.3L59.7 55.3ZM65.4 56.0L66.4 56.0L62.1 55.3L61.3 55.3ZM67.5 56.0L68.6 56.0L63.8 55.3L63.0 55.3ZM69.7 56.0L70.8 56.0L65.5 55.3L64.6 55.3ZM71.9 56.0L72.9 56.0L67.1 55.3L66.3 55.3ZM74.0 56.0L75.1 56.0L68.8 55.3L67.9 55.3ZM76.2 56.0L77.3 56.0L70.4 55.3L69.6 55.3ZM78.3 56.0L79.4 56.0L72.1 55.3L71.3 55.3ZM80.5 56.0L81.6 56.0L73.8 55.3L72.9 55.3ZM82.7 56.0L83.8 56.0L75.4 55.3L74.6 55.3ZM84.8 56.0L85.9 56.0L77.1 55.3L76.2 55.3ZM87.0 56.0L88.1 56.0L78.7 55.3L77.9 55.3ZM89.2 56.0L90.2 56.0L80.4 55.3L79.6 55.3ZM91.3 56.0L92.4 56.0L82.1 55.3L81.2 55.3ZM93.5 56.0L94.6 56.0L83.7 55.3L82.9 55.3ZM95.7 56.0L96.7 56.0L85.4 55.3L84.5 55.3ZM97.8 56.0L98.9 56.0L87.0 55.3L86.2 55.3ZM100.0 56.0L101.1 56.0L88.7 55.3L87.9 55.3ZM102.2 56.0L103.2 56.0L90.3 55.3L89.5 55.3ZM104.3 56.0L105.4 56.0L92.0 55.3L91.2 55.3ZM106.5 56.0L107.6 56.0L93.7 55.3L92.8 55.3ZM108.6 56.0L109.7 56.0L95.3 55.3L94.5 55.3ZM-15.8 55.3L-15.0 55.3L1.0 54.7L0.4 54.7ZM-14.2 55.3L-13.3 55.3L2.2 54.7L1.6 54.7ZM-12.5 55.3L-11.7 55.3L3.5 54.7L2.9 54.7ZM-10.9 55.3L-10.0 55.3L4.7 54.7L4.1 54.7ZM-9.2 55.3L-8.4 55.3L6.0 54.7L5.3 54.7ZM-7.5 55.3L-6.7 55.3L7.2 54.7L6.6 54.7ZM-5.9 55.3L-5.0 55.3L8.4 54.7L7.8 54.7ZM-4.2 55.3L-3.4 55.3L9.7 54.7L9.1 54.7ZM-2.6 55.3L-1.7 55.3L10.9 54.7L10.3 54.7ZM-0.9 55.3L-0.1 55.3L12.1 54.7L11.5 54.7ZM0.8 55.3L1.6 55.3L13.4 54.7L12.8 54.7ZM2.4 55.3L3.2 55.3L14.6 54.7L14.0 54.7ZM4.1 55.3L4.9 55.3L15.9 54.7L15.2 54.7ZM5.7 55.3L6.6 55.3L17.1 54.7L16.5 54.7ZM7.4 55.3L8.2 55.3L18.3 54.7L17.7 54.7ZM9.1 55.3L9.9 55.3L19.6 54.7L18.9 54.7ZM10.7 55.3L11.5 55.3L20.8 54.7L20.2 54.7ZM12.4 55.3L13.2 55.3L22.0 54.7L21.4 54.7ZM14.0 55.3L14.9 55.3L23.3 54.7L22.7 54.7ZM15.7 55.3L16.5 55.3L24.5 54.7L23.9 54.7ZM17.3 55.3L18.2 55.3L25.8 54.7L25.1 54.7ZM19.0 55.3L19.8 55.3L27.0 54.7L26.4 54.7ZM20.7 55.3L21.5 55.3L28.2 54.7L27.6 54.7ZM22.3 55.3L23.2 55.3L29.5 54.7L28.8 54.7ZM24.0 55.3L24.8 55.3L30.7 54.7L30.1 54.7ZM25.6 55.3L26.5 55.3L31.9 54.7L31.3 54.7ZM27.3 55.3L28.1 55.3L33.2 54.7L32.6 54.7ZM29.0 55.3L29.8 55.3L34.4 54.7L33.8 54.7ZM30.6 55.3L31.5 55.3L35.7 54.7L35.0 54.7ZM32.3 55.3L33.1 55.3L36.9 54.7L36.3 54.7ZM33.9 55.3L34.8 55.3L38.1 54.7L37.5 54.7ZM35.6 55.3L36.4 55.3L39.4 54.7L38.7 54.7ZM37.3 55.3L38.1 55.3L40.6 54.7L40.0 54.7ZM38.9 55.3L39.7 55.3L41.8 54.7L41.2 54.7ZM40.6 55.3L41.4 55.3L43.1 54.7L42.5 54.7ZM42.2 55.3L43.1 55.3L44.3 54.7L43.7 54.7ZM43.9 55.3L44.7 55.3L45.6 54.7L44.9 54.7ZM45.6 55.3L46.4 55.3L46.8 54.7L46.2 54.7ZM47.2 55.3L48.0 55.3L48.0 54.7L47.4 54.7ZM48.9 55.3L49.7 55.3L49.3 54.7L48.6 54.7ZM50.5 55.3L51.4 55.3L50.5 54.7L49.9 54.7ZM52.2 55.3L53.0 55.3L51.7 54.7L51.1 54.7ZM53.8 55.3L54.7 55.3L53.0 54.7L52.4 54.7ZM55.5 55.3L56.3 55.3L54.2 54.7L53.6 54.7ZM57.2 55.3L58.0 55.3L55.5 54.7L54.8 54.7ZM58.8 55.3L59.7 55.3L56.7 54.7L56.1 54.7ZM60.5 55.3L61.3 55.3L57.9 54.7L57.3 54.7ZM62.1 55.3L63.0 55.3L59.2 54.7L58.5 54.7ZM63.8 55.3L64.6 55.3L60.4 54.7L59.8 54.7ZM65.5 55.3L66.3 55.3L61.6 54.7L61.0 54.7ZM67.1 55.3L67.9 55.3L62.9 54.7L62.3 54.7ZM68.8 55.3L69.6 55.3L64.1 54.7L63.5 54.7ZM70.4 55.3L71.3 55.3L65.4 54.7L64.7 54.7ZM72.1 55.3L72.9 55.3L66.6 54.7L66.0 54.7ZM73.8 55.3L74.6 55.3L67.8 54.7L67.2 54.7ZM75.4 55.3L76.2 55.3L69.1 54.7L68.4 54.7ZM77.1 55.3L77.9 55.3L70.3 54.7L69.7 54.7ZM78.7 55.3L79.6 55.3L71.5 54.7L70.9 54.7ZM80.4 55.3L81.2 55.3L72.8 54.7L72.2 54.7ZM82.1 55.3L82.9 55.3L74.0 54.7L73.4 54.7ZM83.7 55.3L84.5 55.3L75.3 54.7L74.6 54.7ZM85.4 55.3L86.2 55.3L76.5 54.7L75.9 54.7ZM87.0 55.3L87.9 55.3L77.7 54.7L77.1 54.7ZM88.7 55.3L89.5 55.3L79.0 54.7L78.3 54.7ZM90.3 55.3L91.2 55.3L80.2 54.7L79.6 54.7ZM92.0 55.3L92.8 55.3L81.4 54.7L80.8 54.7ZM93.7 55.3L94.5 55.3L82.7 54.7L82.1 54.7ZM95.3 55.3L96.2 55.3L83.9 54.7L83.3 54.7ZM97.0 55.3L97.8 55.3L85.2 54.7L84.5 54.7ZM98.6 55.3L99.5 55.3L86.4 54.7L85.8 54.7ZM100.3 55.3L101.1 55.3L87.6 54.7L87.0 54.7ZM102.0 55.3L102.8 55.3L88.9 54.7L88.2 54.7ZM103.6 55.3L104.4 55.3L90.1 54.7L89.5 54.7ZM105.3 55.3L106.1 55.3L91.3 54.7L90.7 54.7ZM106.9 55.3L107.8 55.3L92.6 54.7L92.0 54.7ZM108.6 55.3L109.4 55.3L93.8 54.7L93.2 54.7ZM110.3 55.3L111.1 55.3L95.1 54.7L94.4 54.7ZM111.9 55.3L112.7 55.3L96.3 54.7L95.7 54.7ZM-18.8 54.7L-18.2 54.7L0.6 54.2L0.2 54.2ZM-17.6 54.7L-16.9 54.7L1.5 54.2L1.1 54.2ZM-16.3 54.7L-15.7 54.7L2.4 54.2L2.0 54.2ZM-15.1 54.7L-14.5 54.7L3.3 54.2L2.9 54.2ZM-13.8 54.7L-13.2 54.7L4.2 54.2L3.7 54.2ZM-12.6 54.7L-12.0 54.7L5.1 54.2L4.6 54.2ZM-11.4 54.7L-10.7 54.7L6.0 54.2L5.5 54.2ZM-10.1 54.7L-9.5 54.7L6.8 54.2L6.4 54.2ZM-8.9 54.7L-8.3 54.7L7.7 54.2L7.3 54.2ZM-7.7 54.7L-7.0 54.7L8.6 54.2L8.2 54.2ZM-6.4 54.7L-5.8 54.7L9.5 54.2L9.1 54.2ZM-5.2 54.7L-4.6 54.7L10.4 54.2L9.9 54.2ZM-3.9 54.7L-3.3 54.7L11.3 54.2L10.8 54.2ZM-2.7 54.7L-2.1 54.7L12.2 54.2L11.7 54.2ZM-1.5 54.7L-0.8 54.7L13.0 54.2L12.6 54.2ZM-0.2 54.7L0.4 54.7L13.9 54.2L13.5 54.2ZM1.0 54.7L1.6 54.7L14.8 54.2L14.4 54.2ZM2.2 54.7L2.9 54.7L15.7 54.2L15.3 54.2ZM3.5 54.7L4.1 54.7L16.6 54.2L16.1 54.2ZM4.7 54.7L5.3 54.7L17.5 54.2L17.0 54.2ZM6.0 54.7L6.6 54.7L18.4 54.2L17.9 54.2ZM7.2 54.7L7.8 54.7L19.2 54.2L18.8 54.2ZM8.4 54.7L9.1 54.7L20.1 54.2L19.7 54.2ZM9.7 54.7L10.3 54.7L21.0 54.2L20.6 54.2ZM10.9 54.7L11.5 54.7L21.9 54.2L21.5 54.2ZM12.1 54.7L12.8 54.7L22.8 54.2L22.3 54.2ZM13.4 54.7L14.0 54.7L23.7 54.2L23.2 54.2ZM14.6 54.7L15.2 54.7L24.6 54.2L24.1 54.2ZM15.9 54.7L16.5 54.7L25.4 54.2L25.0 54.2ZM17.1 54.7L17.7 54.7L26.3 54.2L25.9 54.2ZM18.3 54.7L18.9 54.7L27.2 54.2L26.8 54.2ZM19.6 54.7L20.2 54.7L28.1 54.2L27.7 54.2ZM20.8 54.7L21.4 54.7L29.0 54.2L28.5 54.2ZM22.0 54.7L22.7 54.7L29.9 54.2L29.4 54.2ZM23.3 54.7L23.9 54.7L30.8 54.2L30.3 54.2ZM24.5 54.7L25.1 54.7L31.6 54.2L31.2 54.2ZM25.8 54.7L26.4 54.7L32.5 54.2L32.1 54.2ZM27.0 54.7L27.6 54.7L33.4 54.2L33.0 54.2ZM28.2 54.7L28.8 54.7L34.3 54.2L33.9 54.2ZM29.5 54.7L30.1 54.7L35.2 54.2L34.7 54.2ZM30.7 54.7L31.3 54.7L36.1 54.2L35.6 54.2ZM31.9 54.7L32.6 54.7L37.0 54.2L36.5 54.2ZM33.2 54.7L33.8 54.7L37.8 54.2L37.4 54.2ZM34.4 54.7L35.0 54.7L38.7 54.2L38.3 54.2ZM35.7 54.7L36.3 54.7L39.6 54.2L39.2 54.2ZM36.9 54.7L37.5 54.7L40.5 54.2L40.1 54.2ZM38.1 54.7L38.7 54.7L41.4 54.2L40.9 54.2ZM39.4 54.7L40.0 54.7L42.3 54.2L41.8 54.2ZM40.6 54.7L41.2 54.7L43.2 54.2L42.7 54.2ZM41.8 54.7L42.5 54.7L44.0 54.2L43.6 54.2ZM43.1 54.7L43.7 54.7L44.9 54.2L44.5 54.2ZM44.3 54.7L44.9 54.7L45.8 54.2L45.4 54.2ZM45.6 54.7L46.2 54.7L46.7 54.2L46.3 54.2ZM46.8 54.7L47.4 54.7L47.6 54.2L47.1 54.2ZM48.0 54.7L48.6 54.7L48.5 54.2L48.0 54.2ZM49.3 54.7L49.9 54.7L49.4 54.2L48.9 54.2ZM50.5 54.7L51.1 54.7L50.2 54.2L49.8 54.2ZM51.7 54.7L52.4 54.7L51.1 54.2L50.7 54.2ZM53.0 54.7L53.6 54.7L52.0 54.2L51.6 54.2ZM54.2 54.7L54.8 54.7L52.9 54.2L52.4 54.2ZM55.5 54.7L56.1 54.7L53.8 54.2L53.3 54.2ZM56.7 54.7L57.3 54.7L54.7 54.2L54.2 54.2ZM57.9 54.7L58.5 54.7L55.5 54.2L55.1 54.2ZM59.2 54.7L59.8 54.7L56.4 54.2L56.0 54.2ZM60.4 54.7L61.0 54.7L57.3 54.2L56.9 54.2ZM61.6 54.7L62.3 54.7L58.2 54.2L57.8 54.2ZM62.9 54.7L63.5 54.7L59.1 54.2L58.6 54.2ZM64.1 54.7L64.7 54.7L60.0 54.2L59.5 54.2ZM65.4 54.7L66.0 54.7L60.9 54.2L60.4 54.2ZM66.6 54.7L67.2 54.7L61.7 54.2L61.3 54.2ZM67.8 54.7L68.4 54.7L62.6 54.2L62.2 54.2ZM69.1 54.7L69.7 54.7L63.5 54.2L63.1 54.2ZM70.3 54.7L70.9 54.7L64.4 54.2L64.0 54.2ZM71.5 54.7L72.2 54.7L65.3 54.2L64.8 54.2ZM72.8 54.7L73.4 54.7L66.2 54.2L65.7 54.2ZM74.0 54.7L74.6 54.7L67.1 54.2L66.6 54.2ZM75.3 54.7L75.9 54.7L67.9 54.2L67.5 54.2ZM76.5 54.7L77.1 54.7L68.8 54.2L68.4 54.2ZM77.7 54.7L78.3 54.7L69.7 54.2L69.3 54.2ZM79.0 54.7L79.6 54.7L70.6 54.2L70.2 54.2ZM80.2 54.7L80.8 54.7L71.5 54.2L71.0 54.2ZM81.4 54.7L82.1 54.7L72.4 54.2L71.9 54.2ZM82.7 54.7L83.3 54.7L73.3 54.2L72.8 54.2ZM83.9 54.7L84.5 54.7L74.1 54.2L73.7 54.2ZM85.2 54.7L85.8 54.7L75.0 54.2L74.6 54.2ZM86.4 54.7L87.0 54.7L75.9 54.2L75.5 54.2ZM87.6 54.7L88.2 54.7L76.8 54.2L76.4 54.2ZM88.9 54.7L89.5 54.7L77.7 54.2L77.2 54.2ZM90.1 54.7L90.7 54.7L78.6 54.2L78.1 54.2ZM91.3 54.7L92.0 54.7L79.5 54.2L79.0 54.2ZM92.6 54.7L93.2 54.7L80.3 54.2L79.9 54.2ZM93.8 54.7L94.4 54.7L81.2 54.2L80.8 54.2ZM95.1 54.7L95.7 54.7L82.1 54.2L81.7 54.2ZM96.3 54.7L96.9 54.7L83.0 54.2L82.6 54.2ZM97.5 54.7L98.1 54.7L83.9 54.2L83.4 54.2ZM98.8 54.7L99.4 54.7L84.8 54.2L84.3 54.2ZM100.0 54.7L100.6 54.7L85.7 54.2L85.2 54.2ZM101.2 54.7L101.9 54.7L86.5 54.2L86.1 54.2ZM102.5 54.7L103.1 54.7L87.4 54.2L87.0 54.2ZM103.7 54.7L104.3 54.7L88.3 54.2L87.9 54.2ZM105.0 54.7L105.6 54.7L89.2 54.2L88.8 54.2ZM106.2 54.7L106.8 54.7L90.1 54.2L89.6 54.2ZM107.4 54.7L108.0 54.7L91.0 54.2L90.5 54.2ZM108.7 54.7L109.3 54.7L91.9 54.2L91.4 54.2ZM109.9 54.7L110.5 54.7L92.7 54.2L92.3 54.2ZM111.1 54.7L111.8 54.7L93.6 54.2L93.2 54.2ZM112.4 54.7L113.0 54.7L94.5 54.2L94.1 54.2ZM113.6 54.7L114.2 54.7L95.4 54.2L95.0 54.2ZM114.9 54.7L115.5 54.7L96.3 54.2L95.8 54.2ZM-24.1 54.2L-23.7 54.2L0.1 53.8L-0.2 53.8ZM-23.3 54.2L-22.8 54.2L0.7 53.8L0.4 53.8ZM-22.4 54.2L-21.9 54.2L1.3 53.8L1.0 53.8ZM-21.5 54.2L-21.0 54.2L1.9 53.8L1.6 53.8ZM-20.6 54.2L-20.2 54.2L2.5 53.8L2.2 53.8ZM-19.7 54.2L-19.3 54.2L3.1 53.8L2.8 53.8ZM-18.8 54.2L-18.4 54.2L3.6 53.8L3.3 53.8ZM-17.9 54.2L-17.5 54.2L4.2 53.8L3.9 53.8ZM-17.1 54.2L-16.6 54.2L4.8 53.8L4.5 53.8ZM-16.2 54.2L-15.7 54.2L5.4 53.8L5.1 53.8ZM-15.3 54.2L-14.8 54.2L6.0 53.8L5.7 53.8ZM-14.4 54.2L-14.0 54.2L6.6 53.8L6.3 53.8ZM-13.5 54.2L-13.1 54.2L7.2 53.8L6.9 53.8ZM-12.6 54.2L-12.2 54.2L7.8 53.8L7.5 53.8ZM-11.7 54.2L-11.3 54.2L8.4 53.8L8.1 53.8ZM-10.9 54.2L-10.4 54.2L9.0 53.8L8.7 53.8ZM-10.0 54.2L-9.5 54.2L9.6 53.8L9.3 53.8ZM-9.1 54.2L-8.7 54.2L10.2 53.8L9.9 53.8ZM-8.2 54.2L-7.8 54.2L10.7 53.8L10.4 53.8ZM-7.3 54.2L-6.9 54.2L11.3 53.8L11.0 53.8ZM-6.4 54.2L-6.0 54.2L11.9 53.8L11.6 53.8ZM-5.6 54.2L-5.1 54.2L12.5 53.8L12.2 53.8ZM-4.7 54.2L-4.2 54.2L13.1 53.8L12.8 53.8ZM-3.8 54.2L-3.3 54.2L13.7 53.8L13.4 53.8ZM-2.9 54.2L-2.5 54.2L14.3 53.8L14.0 53.8ZM-2.0 54.2L-1.6 54.2L14.9 53.8L14.6 53.8ZM-1.1 54.2L-0.7 54.2L15.5 53.8L15.2 53.8ZM-0.2 54.2L0.2 54.2L16.1 53.8L15.8 53.8ZM0.6 54.2L1.1 54.2L16.7 53.8L16.4 53.8ZM1.5 54.2L2.0 54.2L17.3 53.8L17.0 53.8ZM2.4 54.2L2.9 54.2L17.8 53.8L17.5 53.8ZM3.3 54.2L3.7 54.2L18.4 53.8L18.1 53.8ZM4.2 54.2L4.6 54.2L19.0 53.8L18.7 53.8ZM5.1 54.2L5.5 54.2L19.6 53.8L19.3 53.8ZM6.0 54.2L6.4 54.2L20.2 53.8L19.9 53.8ZM6.8 54.2L7.3 54.2L20.8 53.8L20.5 53.8ZM7.7 54.2L8.2 54.2L21.4 53.8L21.1 53.8ZM8.6 54.2L9.1 54.2L22.0 53.8L21.7 53.8ZM9.5 54.2L9.9 54.2L22.6 53.8L22.3 53.8ZM10.4 54.2L10.8 54.2L23.2 53.8L22.9 53.8ZM11.3 54.2L11.7 54.2L23.8 53.8L23.5 53.8ZM12.2 54.2L12.6 54.2L24.4 53.8L24.1 53.8ZM13.0 54.2L13.5 54.2L24.9 53.8L24.6 53.8ZM13.9 54.2L14.4 54.2L25.5 53.8L25.2 53.8ZM14.8 54.2L15.3 54.2L26.1 53.8L25.8 53.8ZM15.7 54.2L16.1 54.2L26.7 53.8L26.4 53.8ZM16.6 54.2L17.0 54.2L27.3 53.8L27.0 53.8ZM17.5 54.2L17.9 54.2L27.9 53.8L27.6 53.8ZM18.4 54.2L18.8 54.2L28.5 53.8L28.2 53.8ZM19.2 54.2L19.7 54.2L29.1 53.8L28.8 53.8ZM20.1 54.2L20.6 54.2L29.7 53.8L29.4 53.8ZM21.0 54.2L21.5 54.2L30.3 53.8L30.0 53.8ZM21.9 54.2L22.3 54.2L30.9 53.8L30.6 53.8ZM22.8 54.2L23.2 54.2L31.4 53.8L31.2 53.8ZM23.7 54.2L24.1 54.2L32.0 53.8L31.7 53.8ZM24.6 54.2L25.0 54.2L32.6 53.8L32.3 53.8ZM25.4 54.2L25.9 54.2L33.2 53.8L32.9 53.8ZM26.3 54.2L26.8 54.2L33.8 53.8L33.5 53.8ZM27.2 54.2L27.7 54.2L34.4 53.8L34.1 53.8ZM28.1 54.2L28.5 54.2L35.0 53.8L34.7 53.8ZM29.0 54.2L29.4 54.2L35.6 53.8L35.3 53.8ZM29.9 54.2L30.3 54.2L36.2 53.8L35.9 53.8ZM30.8 54.2L31.2 54.2L36.8 53.8L36.5 53.8ZM31.6 54.2L32.1 54.2L37.4 53.8L37.1 53.8ZM32.5 54.2L33.0 54.2L38.0 53.8L37.7 53.8ZM33.4 54.2L33.9 54.2L38.5 53.8L38.3 53.8ZM34.3 54.2L34.7 54.2L39.1 53.8L38.8 53.8ZM35.2 54.2L35.6 54.2L39.7 53.8L39.4 53.8ZM36.1 54.2L36.5 54.2L40.3 53.8L40.0 53.8ZM37.0 54.2L37.4 54.2L40.9 53.8L40.6 53.8ZM37.8 54.2L38.3 54.2L41.5 53.8L41.2 53.8ZM38.7 54.2L39.2 54.2L42.1 53.8L41.8 53.8ZM39.6 54.2L40.1 54.2L42.7 53.8L42.4 53.8ZM40.5 54.2L40.9 54.2L43.3 53.8L43.0 53.8ZM41.4 54.2L41.8 54.2L43.9 53.8L43.6 53.8ZM42.3 54.2L42.7 54.2L44.5 53.8L44.2 53.8ZM43.2 54.2L43.6 54.2L45.1 53.8L44.8 53.8ZM44.0 54.2L44.5 54.2L45.6 53.8L45.4 53.8ZM44.9 54.2L45.4 54.2L46.2 53.8L45.9 53.8ZM45.8 54.2L46.3 54.2L46.8 53.8L46.5 53.8ZM46.7 54.2L47.1 54.2L47.4 53.8L47.1 53.8ZM47.6 54.2L48.0 54.2L48.0 53.8L47.7 53.8ZM48.5 54.2L48.9 54.2L48.6 53.8L48.3 53.8ZM49.4 54.2L49.8 54.2L49.2 53.8L48.9 53.8ZM50.2 54.2L50.7 54.2L49.8 53.8L49.5 53.8ZM51.1 54.2L51.6 54.2L50.4 53.8L50.1 53.8ZM52.0 54.2L52.4 54.2L51.0 53.8L50.7 53.8ZM52.9 54.2L53.3 54.2L51.6 53.8L51.3 53.8ZM53.8 54.2L54.2 54.2L52.2 53.8L51.9 53.8ZM54.7 54.2L55.1 54.2L52.7 53.8L52.5 53.8ZM55.5 54.2L56.0 54.2L53.3 53.8L53.0 53.8ZM56.4 54.2L56.9 54.2L53.9 53.8L53.6 53.8ZM57.3 54.2L57.8 54.2L54.5 53.8L54.2 53.8ZM58.2 54.2L58.6 54.2L55.1 53.8L54.8 53.8ZM59.1 54.2L59.5 54.2L55.7 53.8L55.4 53.8ZM60.0 54.2L60.4 54.2L56.3 53.8L56.0 53.8ZM60.9 54.2L61.3 54.2L56.9 53.8L56.6 53.8ZM61.7 54.2L62.2 54.2L57.5 53.8L57.2 53.8ZM62.6 54.2L63.1 54.2L58.1 53.8L57.8 53.8ZM63.5 54.2L64.0 54.2L58.7 53.8L58.4 53.8ZM64.4 54.2L64.8 54.2L59.3 53.8L59.0 53.8ZM65.3 54.2L65.7 54.2L59.8 53.8L59.6 53.8ZM66.2 54.2L66.6 54.2L60.4 53.8L60.1 53.8ZM67.1 54.2L67.5 54.2L61.0 53.8L60.7 53.8ZM67.9 54.2L68.4 54.2L61.6 53.8L61.3 53.8ZM68.8 54.2L69.3 54.2L62.2 53.8L61.9 53.8ZM69.7 54.2L70.2 54.2L62.8 53.8L62.5 53.8ZM70.6 54.2L71.0 54.2L63.4 53.8L63.1 53.8ZM71.5 54.2L71.9 54.2L64.0 53.8L63.7 53.8ZM72.4 54.2L72.8 54.2L64.6 53.8L64.3 53.8ZM73.3 54.2L73.7 54.2L65.2 53.8L64.9 53.8ZM74.1 54.2L74.6 54.2L65.8 53.8L65.5 53.8ZM75.0 54.2L75.5 54.2L66.4 53.8L66.1 53.8ZM75.9 54.2L76.4 54.2L66.9 53.8L66.7 53.8ZM76.8 54.2L77.2 54.2L67.5 53.8L67.2 53.8ZM77.7 54.2L78.1 54.2L68.1 53.8L67.8 53.8ZM78.6 54.2L79.0 54.2L68.7 53.8L68.4 53.8ZM79.5 54.2L79.9 54.2L69.3 53.8L69.0 53.8ZM80.3 54.2L80.8 54.2L69.9 53.8L69.6 53.8ZM81.2 54.2L81.7 54.2L70.5 53.8L70.2 53.8ZM82.1 54.2L82.6 54.2L71.1 53.8L70.8 53.8ZM83.0 54.2L83.4 54.2L71.7 53.8L71.4 53.8ZM83.9 54.2L84.3 54.2L72.3 53.8L72.0 53.8ZM84.8 54.2L85.2 54.2L72.9 53.8L72.6 53.8ZM85.7 54.2L86.1 54.2L73.5 53.8L73.2 53.8ZM86.5 54.2L87.0 54.2L74.0 53.8L73.7 53.8ZM87.4 54.2L87.9 54.2L74.6 53.8L74.3 53.8ZM88.3 54.2L88.8 54.2L75.2 53.8L74.9 53.8ZM89.2 54.2L89.6 54.2L75.8 53.8L75.5 53.8ZM90.1 54.2L90.5 54.2L76.4 53.8L76.1 53.8ZM91.0 54.2L91.4 54.2L77.0 53.8L76.7 53.8ZM91.9 54.2L92.3 54.2L77.6 53.8L77.3 53.8ZM92.7 54.2L93.2 54.2L78.2 53.8L77.9 53.8ZM93.6 54.2L94.1 54.2L78.8 53.8L78.5 53.8ZM94.5 54.2L95.0 54.2L79.4 53.8L79.1 53.8ZM95.4 54.2L95.8 54.2L80.0 53.8L79.7 53.8ZM96.3 54.2L96.7 54.2L80.6 53.8L80.3 53.8ZM97.2 54.2L97.6 54.2L81.1 53.8L80.8 53.8ZM98.1 54.2L98.5 54.2L81.7 53.8L81.4 53.8ZM98.9 54.2L99.4 54.2L82.3 53.8L82.0 53.8ZM99.8 54.2L100.3 54.2L82.9 53.8L82.6 53.8ZM100.7 54.2L101.2 54.2L83.5 53.8L83.2 53.8ZM101.6 54.2L102.0 54.2L84.1 53.8L83.8 53.8ZM102.5 54.2L102.9 54.2L84.7 53.8L84.4 53.8ZM103.4 54.2L103.8 54.2L85.3 53.8L85.0 53.8ZM104.3 54.2L104.7 54.2L85.9 53.8L85.6 53.8ZM105.1 54.2L105.6 54.2L86.5 53.8L86.2 53.8ZM106.0 54.2L106.5 54.2L87.1 53.8L86.8 53.8ZM106.9 54.2L107.4 54.2L87.7 53.8L87.4 53.8ZM107.8 54.2L108.2 54.2L88.2 53.8L87.9 53.8ZM108.7 54.2L109.1 54.2L88.8 53.8L88.5 53.8ZM109.6 54.2L110.0 54.2L89.4 53.8L89.1 53.8ZM110.5 54.2L110.9 54.2L90.0 53.8L89.7 53.8ZM111.3 54.2L111.8 54.2L90.6 53.8L90.3 53.8ZM112.2 54.2L112.7 54.2L91.2 53.8L90.9 53.8ZM113.1 54.2L113.5 54.2L91.8 53.8L91.5 53.8ZM114.0 54.2L114.4 54.2L92.4 53.8L92.1 53.8ZM114.9 54.2L115.3 54.2L93.0 53.8L92.7 53.8ZM115.8 54.2L116.2 54.2L93.6 53.8L93.3 53.8ZM116.6 54.2L117.1 54.2L94.2 53.8L93.9 53.8ZM117.5 54.2L118.0 54.2L94.8 53.8L94.5 53.8ZM118.4 54.2L118.9 54.2L95.3 53.8L95.0 53.8ZM119.3 54.2L119.7 54.2L95.9 53.8L95.6 53.8ZM-34.2 53.8L-33.9 53.8L0.1 53.5L-0.1 53.5ZM-33.6 53.8L-33.3 53.8L0.4 53.5L0.2 53.5ZM-33.0 53.8L-32.7 53.8L0.8 53.5L0.6 53.5ZM-32.4 53.8L-32.1 53.8L1.1 53.5L0.9 53.5ZM-31.9 53.8L-31.6 53.8L1.4 53.5L1.3 53.5ZM-31.3 53.8L-31.0 53.8L1.8 53.5L1.6 53.5ZM-30.7 53.8L-30.4 53.8L2.1 53.5L2.0 53.5ZM-30.1 53.8L-29.8 53.8L2.5 53.5L2.3 53.5ZM-29.5 53.8L-29.2 53.8L2.8 53.5L2.7 53.5ZM-28.9 53.8L-28.6 53.8L3.2 53.5L3.0 53.5ZM-28.3 53.8L-28.0 53.8L3.5 53.5L3.3 53.5ZM-27.7 53.8L-27.4 53.8L3.9 53.5L3.7 53.5ZM-27.1 53.8L-26.8 53.8L4.2 53.5L4.0 53.5ZM-26.5 53.8L-26.2 53.8L4.6 53.5L4.4 53.5ZM-25.9 53.8L-25.6 53.8L4.9 53.5L4.7 53.5ZM-25.3 53.8L-25.0 53.8L5.3 53.5L5.1 53.5ZM-24.8 53.8L-24.5 53.8L5.6 53.5L5.4 53.5ZM-24.2 53.8L-23.9 53.8L5.9 53.5L5.8 53.5ZM-23.6 53.8L-23.3 53.8L6.3 53.5L6.1 53.5ZM-23.0 53.8L-22.7 53.8L6.6 53.5L6.5 53.5ZM-22.4 53.8L-22.1 53.8L7.0 53.5L6.8 53.5ZM-21.8 53.8L-21.5 53.8L7.3 53.5L7.2 53.5ZM-21.2 53.8L-20.9 53.8L7.7 53.5L7.5 53.5ZM-20.6 53.8L-20.3 53.8L8.0 53.5L7.8 53.5ZM-20.0 53.8L-19.7 53.8L8.4 53.5L8.2 53.5ZM-19.4 53.8L-19.1 53.8L8.7 53.5L8.5 53.5ZM-18.8 53.8L-18.5 53.8L9.1 53.5L8.9 53.5ZM-18.2 53.8L-17.9 53.8L9.4 53.5L9.2 53.5ZM-17.7 53.8L-17.4 53.8L9.8 53.5L9.6 53.5ZM-17.1 53.8L-16.8 53.8L10.1 53.5L9.9 53.5ZM-16.5 53.8L-16.2 53.8L10.4 53.5L10.3 53.5ZM-15.9 53.8L-15.6 53.8L10.8 53.5L10.6 53.5ZM-15.3 53.8L-15.0 53.8L11.1 53.5L11.0 53.5ZM-14.7 53.8L-14.4 53.8L11.5 53.5L11.3 53.5ZM-14.1 53.8L-13.8 53.8L11.8 53.5L11.7 53.5ZM-13.5 53.8L-13.2 53.8L12.2 53.5L12.0 53.5ZM-12.9 53.8L-12.6 53.8L12.5 53.5L12.3 53.5ZM-12.3 53.8L-12.0 53.8L12.9 53.5L12.7 53.5ZM-11.7 53.8L-11.4 53.8L13.2 53.5L13.0 53.5ZM-11.1 53.8L-10.9 53.8L13.6 53.5L13.4 53.5ZM-10.6 53.8L-10.3 53.8L13.9 53.5L13.7 53.5ZM-10.0 53.8L-9.7 53.8L14.3 53.5L14.1 53.5ZM-9.4 53.8L-9.1 53.8L14.6 53.5L14.4 53.5ZM-8.8 53.8L-8.5 53.8L14.9 53.5L14.8 53.5ZM-8.2 53.8L-7.9 53.8L15.3 53.5L15.1 53.5ZM-7.6 53.8L-7.3 53.8L15.6 53.5L15.5 53.5ZM-7.0 53.8L-6.7 53.8L16.0 53.5L15.8 53.5ZM-6.4 53.8L-6.1 53.8L16.3 53.5L16.2 53.5ZM-5.8 53.8L-5.5 53.8L16.7 53.5L16.5 53.5ZM-5.2 53.8L-4.9 53.8L17.0 53.5L16.9 53.5ZM-4.6 53.8L-4.3 53.8L17.4 53.5L17.2 53.5ZM-4.0 53.8L-3.8 53.8L17.7 53.5L17.5 53.5ZM-3.5 53.8L-3.2 53.8L18.1 53.5L17.9 53.5ZM-2.9 53.8L-2.6 53.8L18.4 53.5L18.2 53.5ZM-2.3 53.8L-2.0 53.8L18.8 53.5L18.6 53.5ZM-1.7 53.8L-1.4 53.8L19.1 53.5L18.9 53.5ZM-1.1 53.8L-0.8 53.8L19.4 53.5L19.3 53.5ZM-0.5 53.8L-0.2 53.8L19.8 53.5L19.6 53.5ZM0.1 53.8L0.4 53.8L20.1 53.5L20.0 53.5ZM0.7 53.8L1.0 53.8L20.5 53.5L20.3 53.5ZM1.3 53.8L1.6 53.8L20.8 53.5L20.7 53.5ZM1.9 53.8L2.2 53.8L21.2 53.5L21.0 53.5ZM2.5 53.8L2.8 53.8L21.5 53.5L21.4 53.5ZM3.1 53.8L3.3 53.8L21.9 53.5L21.7 53.5ZM3.6 53.8L3.9 53.8L22.2 53.5L22.0 53.5ZM4.2 53.8L4.5 53.8L22.6 53.5L22.4 53.5ZM4.8 53.8L5.1 53.8L22.9 53.5L22.7 53.5ZM5.4 53.8L5.7 53.8L23.3 53.5L23.1 53.5ZM6.0 53.8L6.3 53.8L23.6 53.5L23.4 53.5ZM6.6 53.8L6.9 53.8L23.9 53.5L23.8 53.5ZM7.2 53.8L7.5 53.8L24.3 53.5L24.1 53.5ZM7.8 53.8L8.1 53.8L24.6 53.5L24.5 53.5ZM8.4 53.8L8.7 53.8L25.0 53.5L24.8 53.5ZM9.0 53.8L9.3 53.8L25.3 53.5L25.2 53.5ZM9.6 53.8L9.9 53.8L25.7 53.5L25.5 53.5ZM10.2 53.8L10.4 53.8L26.0 53.5L25.9 53.5ZM10.7 53.8L11.0 53.8L26.4 53.5L26.2 53.5ZM11.3 53.8L11.6 53.8L26.7 53.5L26.5 53.5ZM11.9 53.8L12.2 53.8L27.1 53.5L26.9 53.5ZM12.5 53.8L12.8 53.8L27.4 53.5L27.2 53.5ZM13.1 53.8L13.4 53.8L27.8 53.5L27.6 53.5ZM13.7 53.8L14.0 53.8L28.1 53.5L27.9 53.5ZM14.3 53.8L14.6 53.8L28.4 53.5L28.3 53.5ZM14.9 53.8L15.2 53.8L28.8 53.5L28.6 53.5ZM15.5 53.8L15.8 53.8L29.1 53.5L29.0 53.5ZM16.1 53.8L16.4 53.8L29.5 53.5L29.3 53.5ZM16.7 53.8L17.0 53.8L29.8 53.5L29.7 53.5ZM17.3 53.8L17.5 53.8L30.2 53.5L30.0 53.5ZM17.8 53.8L18.1 53.8L30.5 53.5L30.4 53.5ZM18.4 53.8L18.7 53.8L30.9 53.5L30.7 53.5ZM19.0 53.8L19.3 53.8L31.2 53.5L31.0 53.5ZM19.6 53.8L19.9 53.8L31.6 53.5L31.4 53.5ZM20.2 53.8L20.5 53.8L31.9 53.5L31.7 53.5ZM20.8 53.8L21.1 53.8L32.3 53.5L32.1 53.5ZM21.4 53.8L21.7 53.8L32.6 53.5L32.4 53.5ZM22.0 53.8L22.3 53.8L32.9 53.5L32.8 53.5ZM22.6 53.8L22.9 53.8L33.3 53.5L33.1 53.5ZM23.2 53.8L23.5 53.8L33.6 53.5L33.5 53.5ZM23.8 53.8L24.1 53.8L34.0 53.5L33.8 53.5ZM24.4 53.8L24.6 53.8L34.3 53.5L34.2 53.5ZM24.9 53.8L25.2 53.8L34.7 53.5L34.5 53.5ZM25.5 53.8L25.8 53.8L35.0 53.5L34.9 53.5ZM26.1 53.8L26.4 53.8L35.4 53.5L35.2 53.5ZM26.7 53.8L27.0 53.8L35.7 53.5L35.5 53.5ZM27.3 53.8L27.6 53.8L36.1 53.5L35.9 53.5ZM27.9 53.8L28.2 53.8L36.4 53.5L36.2 53.5ZM28.5 53.8L28.8 53.8L36.8 53.5L36.6 53.5ZM29.1 53.8L29.4 53.8L37.1 53.5L36.9 53.5ZM29.7 53.8L30.0 53.8L37.4 53.5L37.3 53.5ZM30.3 53.8L30.6 53.8L37.8 53.5L37.6 53.5ZM30.9 53.8L31.2 53.8L38.1 53.5L38.0 53.5ZM31.4 53.8L31.7 53.8L38.5 53.5L38.3 53.5ZM32.0 53.8L32.3 53.8L38.8 53.5L38.7 53.5ZM32.6 53.8L32.9 53.8L39.2 53.5L39.0 53.5ZM33.2 53.8L33.5 53.8L39.5 53.5L39.4 53.5ZM33.8 53.8L34.1 53.8L39.9 53.5L39.7 53.5ZM34.4 53.8L34.7 53.8L40.2 53.5L40.0 53.5ZM35.0 53.8L35.3 53.8L40.6 53.5L40.4 53.5ZM35.6 53.8L35.9 53.8L40.9 53.5L40.7 53.5ZM36.2 53.8L36.5 53.8L41.3 53.5L41.1 53.5ZM36.8 53.8L37.1 53.8L41.6 53.5L41.4 53.5ZM37.4 53.8L37.7 53.8L42.0 53.5L41.8 53.5ZM38.0 53.8L38.3 53.8L42.3 53.5L42.1 53.5ZM38.5 53.8L38.8 53.8L42.6 53.5L42.5 53.5ZM39.1 53.8L39.4 53.8L43.0 53.5L42.8 53.5ZM39.7 53.8L40.0 53.8L43.3 53.5L43.2 53.5ZM40.3 53.8L40.6 53.8L43.7 53.5L43.5 53.5ZM40.9 53.8L41.2 53.8L44.0 53.5L43.9 53.5ZM41.5 53.8L41.8 53.8L44.4 53.5L44.2 53.5ZM42.1 53.8L42.4 53.8L44.7 53.5L44.5 53.5ZM42.7 53.8L43.0 53.8L45.1 53.5L44.9 53.5ZM43.3 53.8L43.6 53.8L45.4 53.5L45.2 53.5ZM43.9 53.8L44.2 53.8L45.8 53.5L45.6 53.5ZM44.5 53.8L44.8 53.8L46.1 53.5L45.9 53.5ZM45.1 53.8L45.4 53.8L46.5 53.5L46.3 53.5ZM45.6 53.8L45.9 53.8L46.8 53.5L46.6 53.5ZM46.2 53.8L46.5 53.8L47.1 53.5L47.0 53.5ZM46.8 53.8L47.1 53.8L47.5 53.5L47.3 53.5ZM47.4 53.8L47.7 53.8L47.8 53.5L47.7 53.5ZM48.0 53.8L48.3 53.8L48.2 53.5L48.0 53.5ZM48.6 53.8L48.9 53.8L48.5 53.5L48.4 53.5ZM49.2 53.8L49.5 53.8L48.9 53.5L48.7 53.5ZM49.8 53.8L50.1 53.8L49.2 53.5L49.0 53.5ZM50.4 53.8L50.7 53.8L49.6 53.5L49.4 53.5ZM51.0 53.8L51.3 53.8L49.9 53.5L49.7 53.5ZM51.6 53.8L51.9 53.8L50.3 53.5L50.1 53.5ZM52.2 53.8L52.5 53.8L50.6 53.5L50.4 53.5ZM52.7 53.8L53.0 53.8L51.0 53.5L50.8 53.5ZM53.3 53.8L53.6 53.8L51.3 53.5L51.1 53.5ZM53.9 53.8L54.2 53.8L51.6 53.5L51.5 53.5ZM54.5 53.8L54.8 53.8L52.0 53.5L51.8 53.5ZM55.1 53.8L55.4 53.8L52.3 53.5L52.2 53.5ZM55.7 53.8L56.0 53.8L52.7 53.5L52.5 53.5ZM56.3 53.8L56.6 53.8L53.0 53.5L52.9 53.5ZM56.9 53.8L57.2 53.8L53.4 53.5L53.2 53.5ZM57.5 53.8L57.8 53.8L53.7 53.5L53.5 53.5ZM58.1 53.8L58.4 53.8L54.1 53.5L53.9 53.5ZM58.7 53.8L59.0 53.8L54.4 53.5L54.2 53.5ZM59.3 53.8L59.6 53.8L54.8 53.5L54.6 53.5ZM59.8 53.8L60.1 53.8L55.1 53.5L54.9 53.5ZM60.4 53.8L60.7 53.8L55.5 53.5L55.3 53.5ZM61.0 53.8L61.3 53.8L55.8 53.5L55.6 53.5ZM61.6 53.8L61.9 53.8L56.1 53.5L56.0 53.5ZM62.2 53.8L62.5 53.8L56.5 53.5L56.3 53.5ZM62.8 53.8L63.1 53.8L56.8 53.5L56.7 53.5ZM63.4 53.8L63.7 53.8L57.2 53.5L57.0 53.5ZM64.0 53.8L64.3 53.8L57.5 53.5L57.4 53.5ZM64.6 53.8L64.9 53.8L57.9 53.5L57.7 53.5ZM65.2 53.8L65.5 53.8L58.2 53.5L58.0 53.5ZM65.8 53.8L66.1 53.8L58.6 53.5L58.4 53.5ZM66.4 53.8L66.7 53.8L58.9 53.5L58.7 53.5ZM66.9 53.8L67.2 53.8L59.3 53.5L59.1 53.5ZM67.5 53.8L67.8 53.8L59.6 53.5L59.4 53.5ZM68.1 53.8L68.4 53.8L60.0 53.5L59.8 53.5ZM68.7 53.8L69.0 53.8L60.3 53.5L60.1 53.5ZM69.3 53.8L69.6 53.8L60.6 53.5L60.5 53.5ZM69.9 53.8L70.2 53.8L61.0 53.5L60.8 53.5ZM70.5 53.8L70.8 53.8L61.3 53.5L61.2 53.5ZM71.1 53.8L71.4 53.8L61.7 53.5L61.5 53.5ZM71.7 53.8L72.0 53.8L62.0 53.5L61.9 53.5ZM72.3 53.8L72.6 53.8L62.4 53.5L62.2 53.5ZM72.9 53.8L73.2 53.8L62.7 53.5L62.5 53.5ZM73.5 53.8L73.7 53.8L63.1 53.5L62.9 53.5ZM74.0 53.8L74.3 53.8L63.4 53.5L63.2 53.5ZM74.6 53.8L74.9 53.8L63.8 53.5L63.6 53.5ZM75.2 53.8L75.5 53.8L64.1 53.5L63.9 53.5ZM75.8 53.8L76.1 53.8L64.5 53.5L64.3 53.5ZM76.4 53.8L76.7 53.8L64.8 53.5L64.6 53.5ZM77.0 53.8L77.3 53.8L65.1 53.5L65.0 53.5ZM77.6 53.8L77.9 53.8L65.5 53.5L65.3 53.5ZM78.2 53.8L78.5 53.8L65.8 53.5L65.7 53.5ZM78.8 53.8L79.1 53.8L66.2 53.5L66.0 53.5ZM79.4 53.8L79.7 53.8L66.5 53.5L66.4 53.5ZM80.0 53.8L80.3 53.8L66.9 53.5L66.7 53.5ZM80.6 53.8L80.8 53.8L67.2 53.5L67.0 53.5ZM81.1 53.8L81.4 53.8L67.6 53.5L67.4 53.5ZM81.7 53.8L82.0 53.8L67.9 53.5L67.7 53.5ZM82.3 53.8L82.6 53.8L68.3 53.5L68.1 53.5ZM82.9 53.8L83.2 53.8L68.6 53.5L68.4 53.5ZM83.5 53.8L83.8 53.8L69.0 53.5L68.8 53.5ZM84.1 53.8L84.4 53.8L69.3 53.5L69.1 53.5ZM84.7 53.8L85.0 53.8L69.6 53.5L69.5 53.5ZM85.3 53.8L85.6 53.8L70.0 53.5L69.8 53.5ZM85.9 53.8L86.2 53.8L70.3 53.5L70.2 53.5ZM86.5 53.8L86.8 53.8L70.7 53.5L70.5 53.5ZM87.1 53.8L87.4 53.8L71.0 53.5L70.9 53.5ZM87.7 53.8L87.9 53.8L71.4 53.5L71.2 53.5ZM88.2 53.8L88.5 53.8L71.7 53.5L71.6 53.5ZM88.8 53.8L89.1 53.8L72.1 53.5L71.9 53.5ZM89.4 53.8L89.7 53.8L72.4 53.5L72.2 53.5ZM90.0 53.8L90.3 53.8L72.8 53.5L72.6 53.5ZM90.6 53.8L90.9 53.8L73.1 53.5L72.9 53.5ZM91.2 53.8L91.5 53.8L73.5 53.5L73.3 53.5ZM91.8 53.8L92.1 53.8L73.8 53.5L73.6 53.5ZM92.4 53.8L92.7 53.8L74.1 53.5L74.0 53.5ZM93.0 53.8L93.3 53.8L74.5 53.5L74.3 53.5ZM93.6 53.8L93.9 53.8L74.8 53.5L74.7 53.5ZM94.2 53.8L94.5 53.8L75.2 53.5L75.0 53.5ZM94.8 53.8L95.0 53.8L75.5 53.5L75.4 53.5ZM95.3 53.8L95.6 53.8L75.9 53.5L75.7 53.5ZM95.9 53.8L96.2 53.8L76.2 53.5L76.1 53.5ZM96.5 53.8L96.8 53.8L76.6 53.5L76.4 53.5ZM97.1 53.8L97.4 53.8L76.9 53.5L76.7 53.5ZM97.7 53.8L98.0 53.8L77.3 53.5L77.1 53.5ZM98.3 53.8L98.6 53.8L77.6 53.5L77.4 53.5ZM98.9 53.8L99.2 53.8L78.0 53.5L77.8 53.5ZM99.5 53.8L99.8 53.8L78.3 53.5L78.1 53.5ZM100.1 53.8L100.4 53.8L78.6 53.5L78.5 53.5ZM100.7 53.8L101.0 53.8L79.0 53.5L78.8 53.5ZM101.3 53.8L101.6 53.8L79.3 53.5L79.2 53.5ZM101.9 53.8L102.1 53.8L79.7 53.5L79.5 53.5ZM102.4 53.8L102.7 53.8L80.0 53.5L79.9 53.5ZM103.0 53.8L103.3 53.8L80.4 53.5L80.2 53.5ZM103.6 53.8L103.9 53.8L80.7 53.5L80.6 53.5ZM104.2 53.8L104.5 53.8L81.1 53.5L80.9 53.5ZM104.8 53.8L105.1 53.8L81.4 53.5L81.2 53.5ZM105.4 53.8L105.7 53.8L81.8 53.5L81.6 53.5ZM106.0 53.8L106.3 53.8L82.1 53.5L81.9 53.5ZM106.6 53.8L106.9 53.8L82.5 53.5L82.3 53.5ZM107.2 53.8L107.5 53.8L82.8 53.5L82.6 53.5ZM107.8 53.8L108.1 53.8L83.1 53.5L83.0 53.5ZM108.4 53.8L108.7 53.8L83.5 53.5L83.3 53.5ZM109.0 53.8L109.2 53.8L83.8 53.5L83.7 53.5ZM109.5 53.8L109.8 53.8L84.2 53.5L84.0 53.5ZM110.1 53.8L110.4 53.8L84.5 53.5L84.4 53.5ZM110.7 53.8L111.0 53.8L84.9 53.5L84.7 53.5ZM111.3 53.8L111.6 53.8L85.2 53.5L85.1 53.5ZM111.9 53.8L112.2 53.8L85.6 53.5L85.4 53.5ZM112.5 53.8L112.8 53.8L85.9 53.5L85.7 53.5ZM113.1 53.8L113.4 53.8L86.3 53.5L86.1 53.5ZM113.7 53.8L114.0 53.8L86.6 53.5L86.4 53.5ZM114.3 53.8L114.6 53.8L87.0 53.5L86.8 53.5ZM114.9 53.8L115.2 53.8L87.3 53.5L87.1 53.5ZM115.5 53.8L115.8 53.8L87.6 53.5L87.5 53.5ZM116.1 53.8L116.3 53.8L88.0 53.5L87.8 53.5ZM116.6 53.8L116.9 53.8L88.3 53.5L88.2 53.5ZM117.2 53.8L117.5 53.8L88.7 53.5L88.5 53.5ZM117.8 53.8L118.1 53.8L89.0 53.5L88.9 53.5ZM118.4 53.8L118.7 53.8L89.4 53.5L89.2 53.5ZM119.0 53.8L119.3 53.8L89.7 53.5L89.6 53.5ZM119.6 53.8L119.9 53.8L90.1 53.5L89.9 53.5ZM120.2 53.8L120.5 53.8L90.4 53.5L90.2 53.5ZM120.8 53.8L121.1 53.8L90.8 53.5L90.6 53.5ZM121.4 53.8L121.7 53.8L91.1 53.5L90.9 53.5ZM122.0 53.8L122.3 53.8L91.5 53.5L91.3 53.5ZM122.6 53.8L122.9 53.8L91.8 53.5L91.6 53.5ZM123.1 53.8L123.4 53.8L92.1 53.5L92.0 53.5ZM123.7 53.8L124.0 53.8L92.5 53.5L92.3 53.5ZM124.3 53.8L124.6 53.8L92.8 53.5L92.7 53.5ZM124.9 53.8L125.2 53.8L93.2 53.5L93.0 53.5ZM125.5 53.8L125.8 53.8L93.5 53.5L93.4 53.5ZM126.1 53.8L126.4 53.8L93.9 53.5L93.7 53.5ZM126.7 53.8L127.0 53.8L94.2 53.5L94.1 53.5ZM127.3 53.8L127.6 53.8L94.6 53.5L94.4 53.5ZM127.9 53.8L128.2 53.8L94.9 53.5L94.7 53.5ZM128.5 53.8L128.8 53.8L95.3 53.5L95.1 53.5ZM129.1 53.8L129.4 53.8L95.6 53.5L95.4 53.5ZM129.7 53.8L130.0 53.8L96.0 53.5L95.8 53.5ZM-69.5 53.5L-69.4 53.5L0.1 53.2L0.0 53.2ZM-69.2 53.5L-69.0 53.5L0.2 53.2L0.2 53.2ZM-68.8 53.5L-68.7 53.5L0.4 53.2L0.3 53.2ZM-68.5 53.5L-68.3 53.5L0.5 53.2L0.5 53.2ZM-68.1 53.5L-68.0 53.5L0.7 53.2L0.6 53.2ZM-67.8 53.5L-67.6 53.5L0.8 53.2L0.7 53.2ZM-67.5 53.5L-67.3 53.5L1.0 53.2L0.9 53.2ZM-67.1 53.5L-66.9 53.5L1.1 53.2L1.0 53.2ZM-66.8 53.5L-66.6 53.5L1.2 53.2L1.2 53.2ZM-66.4 53.5L-66.2 53.5L1.4 53.2L1.3 53.2ZM-66.1 53.5L-65.9 53.5L1.5 53.2L1.4 53.2ZM-65.7 53.5L-65.5 53.5L1.7 53.2L1.6 53.2ZM-65.4 53.5L-65.2 53.5L1.8 53.2L1.7 53.2ZM-65.0 53.5L-64.9 53.5L1.9 53.2L1.9 53.2ZM-64.7 53.5L-64.5 53.5L2.1 53.2L2.0 53.2ZM-64.3 53.5L-64.2 53.5L2.2 53.2L2.2 53.2ZM-64.0 53.5L-63.8 53.5L2.4 53.2L2.3 53.2ZM-63.6 53.5L-63.5 53.5L2.5 53.2L2.4 53.2ZM-63.3 53.5L-63.1 53.5L2.6 53.2L2.6 53.2ZM-62.9 53.5L-62.8 53.5L2.8 53.2L2.7 53.2ZM-62.6 53.5L-62.4 53.5L2.9 53.2L2.9 53.2ZM-62.3 53.5L-62.1 53.5L3.1 53.2L3.0 53.2ZM-61.9 53.5L-61.7 53.5L3.2 53.2L3.1 53.2ZM-61.6 53.5L-61.4 53.5L3.4 53.2L3.3 53.2ZM-61.2 53.5L-61.0 53.5L3.5 53.2L3.4 53.2ZM-60.9 53.5L-60.7 53.5L3.6 53.2L3.6 53.2ZM-60.5 53.5L-60.4 53.5L3.8 53.2L3.7 53.2ZM-60.2 53.5L-60.0 53.5L3.9 53.2L3.9 53.2ZM-59.8 53.5L-59.7 53.5L4.1 53.2L4.0 53.2ZM-59.5 53.5L-59.3 53.5L4.2 53.2L4.1 53.2ZM-59.1 53.5L-59.0 53.5L4.3 53.2L4.3 53.2ZM-58.8 53.5L-58.6 53.5L4.5 53.2L4.4 53.2ZM-58.4 53.5L-58.3 53.5L4.6 53.2L4.6 53.2ZM-58.1 53.5L-57.9 53.5L4.8 53.2L4.7 53.2ZM-57.8 53.5L-57.6 53.5L4.9 53.2L4.8 53.2ZM-57.4 53.5L-57.2 53.5L5.1 53.2L5.0 53.2ZM-57.1 53.5L-56.9 53.5L5.2 53.2L5.1 53.2ZM-56.7 53.5L-56.5 53.5L5.3 53.2L5.3 53.2ZM-56.4 53.5L-56.2 53.5L5.5 53.2L5.4 53.2ZM-56.0 53.5L-55.9 53.5L5.6 53.2L5.5 53.2ZM-55.7 53.5L-55.5 53.5L5.8 53.2L5.7 53.2ZM-55.3 53.5L-55.2 53.5L5.9 53.2L5.8 53.2ZM-55.0 53.5L-54.8 53.5L6.0 53.2L6.0 53.2ZM-54.6 53.5L-54.5 53.5L6.2 53.2L6.1 53.2ZM-54.3 53.5L-54.1 53.5L6.3 53.2L6.3 53.2ZM-53.9 53.5L-53.8 53.5L6.5 53.2L6.4 53.2ZM-53.6 53.5L-53.4 53.5L6.6 53.2L6.5 53.2ZM-53.3 53.5L-53.1 53.5L6.7 53.2L6.7 53.2ZM-52.9 53.5L-52.7 53.5L6.9 53.2L6.8 53.2ZM-52.6 53.5L-52.4 53.5L7.0 53.2L7.0 53.2ZM-52.2 53.5L-52.0 53.5L7.2 53.2L7.1 53.2ZM-51.9 53.5L-51.7 53.5L7.3 53.2L7.2 53.2ZM-51.5 53.5L-51.4 53.5L7.5 53.2L7.4 53.2ZM-51.2 53.5L-51.0 53.5L7.6 53.2L7.5 53.2ZM-50.8 53.5L-50.7 53.5L7.7 53.2L7.7 53.2ZM-50.5 53.5L-50.3 53.5L7.9 53.2L7.8 53.2ZM-50.1 53.5L-50.0 53.5L8.0 53.2L7.9 53.2ZM-49.8 53.5L-49.6 53.5L8.2 53.2L8.1 53.2ZM-49.4 53.5L-49.3 53.5L8.3 53.2L8.2 53.2ZM-49.1 53.5L-48.9 53.5L8.4 53.2L8.4 53.2ZM-48.8 53.5L-48.6 53.5L8.6 53.2L8.5 53.2ZM-48.4 53.5L-48.2 53.5L8.7 53.2L8.7 53.2ZM-48.1 53.5L-47.9 53.5L8.9 53.2L8.8 53.2ZM-47.7 53.5L-47.5 53.5L9.0 53.2L8.9 53.2ZM-47.4 53.5L-47.2 53.5L9.1 53.2L9.1 53.2ZM-47.0 53.5L-46.9 53.5L9.3 53.2L9.2 53.2ZM-46.7 53.5L-46.5 53.5L9.4 53.2L9.4 53.2ZM-46.3 53.5L-46.2 53.5L9.6 53.2L9.5 53.2ZM-46.0 53.5L-45.8 53.5L9.7 53.2L9.6 53.2ZM-45.6 53.5L-45.5 53.5L9.9 53.2L9.8 53.2ZM-45.3 53.5L-45.1 53.5L10.0 53.2L9.9 53.2ZM-44.9 53.5L-44.8 53.5L10.1 53.2L10.1 53.2ZM-44.6 53.5L-44.4 53.5L10.3 53.2L10.2 53.2ZM-44.3 53.5L-44.1 53.5L10.4 53.2L10.3 53.2ZM-43.9 53.5L-43.7 53.5L10.6 53.2L10.5 53.2ZM-43.6 53.5L-43.4 53.5L10.7 53.2L10.6 53.2ZM-43.2 53.5L-43.0 53.5L10.8 53.2L10.8 53.2ZM-42.9 53.5L-42.7 53.5L11.0 53.2L10.9 53.2ZM-42.5 53.5L-42.4 53.5L11.1 53.2L11.1 53.2ZM-42.2 53.5L-42.0 53.5L11.3 53.2L11.2 53.2ZM-41.8 53.5L-41.7 53.5L11.4 53.2L11.3 53.2ZM-41.5 53.5L-41.3 53.5L11.6 53.2L11.5 53.2ZM-41.1 53.5L-41.0 53.5L11.7 53.2L11.6 53.2ZM-40.8 53.5L-40.6 53.5L11.8 53.2L11.8 53.2ZM-40.4 53.5L-40.3 53.5L12.0 53.2L11.9 53.2ZM-40.1 53.5L-39.9 53.5L12.1 53.2L12.0 53.2ZM-39.8 53.5L-39.6 53.5L12.3 53.2L12.2 53.2ZM-39.4 53.5L-39.2 53.5L12.4 53.2L12.3 53.2ZM-39.1 53.5L-38.9 53.5L12.5 53.2L12.5 53.2ZM-38.7 53.5L-38.5 53.5L12.7 53.2L12.6 53.2ZM-38.4 53.5L-38.2 53.5L12.8 53.2L12.8 53.2ZM-38.0 53.5L-37.9 53.5L13.0 53.2L12.9 53.2ZM-37.7 53.5L-37.5 53.5L13.1 53.2L13.0 53.2ZM-37.3 53.5L-37.2 53.5L13.2 53.2L13.2 53.2ZM-37.0 53.5L-36.8 53.5L13.4 53.2L13.3 53.2ZM-36.6 53.5L-36.5 53.5L13.5 53.2L13.5 53.2ZM-36.3 53.5L-36.1 53.5L13.7 53.2L13.6 53.2ZM-35.9 53.5L-35.8 53.5L13.8 53.2L13.7 53.2ZM-35.6 53.5L-35.4 53.5L14.0 53.2L13.9 53.2ZM-35.3 53.5L-35.1 53.5L14.1 53.2L14.0 53.2ZM-34.9 53.5L-34.7 53.5L14.2 53.2L14.2 53.2ZM-34.6 53.5L-34.4 53.5L14.4 53.2L14.3 53.2ZM-34.2 53.5L-34.0 53.5L14.5 53.2L14.4 53.2ZM-33.9 53.5L-33.7 53.5L14.7 53.2L14.6 53.2ZM-33.5 53.5L-33.3 53.5L14.8 53.2L14.7 53.2ZM-33.2 53.5L-33.0 53.5L14.9 53.2L14.9 53.2ZM-32.8 53.5L-32.7 53.5L15.1 53.2L15.0 53.2ZM-32.5 53.5L-32.3 53.5L15.2 53.2L15.2 53.2ZM-32.1 53.5L-32.0 53.5L15.4 53.2L15.3 53.2ZM-31.8 53.5L-31.6 53.5L15.5 53.2L15.4 53.2ZM-31.4 53.5L-31.3 53.5L15.6 53.2L15.6 53.2ZM-31.1 53.5L-30.9 53.5L15.8 53.2L15.7 53.2ZM-30.8 53.5L-30.6 53.5L15.9 53.2L15.9 53.2ZM-30.4 53.5L-30.2 53.5L16.1 53.2L16.0 53.2ZM-30.1 53.5L-29.9 53.5L16.2 53.2L16.1 53.2ZM-29.7 53.5L-29.5 53.5L16.4 53.2L16.3 53.2ZM-29.4 53.5L-29.2 53.5L16.5 53.2L16.4 53.2ZM-29.0 53.5L-28.8 53.5L16.6 53.2L16.6 53.2ZM-28.7 53.5L-28.5 53.5L16.8 53.2L16.7 53.2ZM-28.3 53.5L-28.2 53.5L16.9 53.2L16.8 53.2ZM-28.0 53.5L-27.8 53.5L17.1 53.2L17.0 53.2ZM-27.6 53.5L-27.5 53.5L17.2 53.2L17.1 53.2ZM-27.3 53.5L-27.1 53.5L17.3 53.2L17.3 53.2ZM-26.9 53.5L-26.8 53.5L17.5 53.2L17.4 53.2ZM-26.6 53.5L-26.4 53.5L17.6 53.2L17.6 53.2ZM-26.3 53.5L-26.1 53.5L17.8 53.2L17.7 53.2ZM-25.9 53.5L-25.7 53.5L17.9 53.2L17.8 53.2ZM-25.6 53.5L-25.4 53.5L18.0 53.2L18.0 53.2ZM-25.2 53.5L-25.0 53.5L18.2 53.2L18.1 53.2ZM-24.9 53.5L-24.7 53.5L18.3 53.2L18.3 53.2ZM-24.5 53.5L-24.3 53.5L18.5 53.2L18.4 53.2ZM-24.2 53.5L-24.0 53.5L18.6 53.2L18.5 53.2ZM-23.8 53.5L-23.7 53.5L18.8 53.2L18.7 53.2ZM-23.5 53.5L-23.3 53.5L18.9 53.2L18.8 53.2ZM-23.1 53.5L-23.0 53.5L19.0 53.2L19.0 53.2ZM-22.8 53.5L-22.6 53.5L19.2 53.2L19.1 53.2ZM-22.4 53.5L-22.3 53.5L19.3 53.2L19.3 53.2ZM-22.1 53.5L-21.9 53.5L19.5 53.2L19.4 53.2ZM-21.8 53.5L-21.6 53.5L19.6 53.2L19.5 53.2ZM-21.4 53.5L-21.2 53.5L19.7 53.2L19.7 53.2ZM-21.1 53.5L-20.9 53.5L19.9 53.2L19.8 53.2ZM-20.7 53.5L-20.5 53.5L20.0 53.2L20.0 53.2ZM-20.4 53.5L-20.2 53.5L20.2 53.2L20.1 53.2ZM-20.0 53.5L-19.8 53.5L20.3 53.2L20.2 53.2ZM-19.7 53.5L-19.5 53.5L20.5 53.2L20.4 53.2ZM-19.3 53.5L-19.2 53.5L20.6 53.2L20.5 53.2ZM-19.0 53.5L-18.8 53.5L20.7 53.2L20.7 53.2ZM-18.6 53.5L-18.5 53.5L20.9 53.2L20.8 53.2ZM-18.3 53.5L-18.1 53.5L21.0 53.2L20.9 53.2ZM-17.9 53.5L-17.8 53.5L21.2 53.2L21.1 53.2ZM-17.6 53.5L-17.4 53.5L21.3 53.2L21.2 53.2ZM-17.3 53.5L-17.1 53.5L21.4 53.2L21.4 53.2ZM-16.9 53.5L-16.7 53.5L21.6 53.2L21.5 53.2ZM-16.6 53.5L-16.4 53.5L21.7 53.2L21.7 53.2ZM-16.2 53.5L-16.0 53.5L21.9 53.2L21.8 53.2ZM-15.9 53.5L-15.7 53.5L22.0 53.2L21.9 53.2ZM-15.5 53.5L-15.3 53.5L22.1 53.2L22.1 53.2ZM-15.2 53.5L-15.0 53.5L22.3 53.2L22.2 53.2ZM-14.8 53.5L-14.7 53.5L22.4 53.2L22.4 53.2ZM-14.5 53.5L-14.3 53.5L22.6 53.2L22.5 53.2ZM-14.1 53.5L-14.0 53.5L22.7 53.2L22.6 53.2ZM-13.8 53.5L-13.6 53.5L22.9 53.2L22.8 53.2ZM-13.4 53.5L-13.3 53.5L23.0 53.2L22.9 53.2ZM-13.1 53.5L-12.9 53.5L23.1 53.2L23.1 53.2ZM-12.8 53.5L-12.6 53.5L23.3 53.2L23.2 53.2ZM-12.4 53.5L-12.2 53.5L23.4 53.2L23.3 53.2ZM-12.1 53.5L-11.9 53.5L23.6 53.2L23.5 53.2ZM-11.7 53.5L-11.5 53.5L23.7 53.2L23.6 53.2ZM-11.4 53.5L-11.2 53.5L23.8 53.2L23.8 53.2ZM-11.0 53.5L-10.8 53.5L24.0 53.2L23.9 53.2ZM-10.7 53.5L-10.5 53.5L24.1 53.2L24.1 53.2ZM-10.3 53.5L-10.2 53.5L24.3 53.2L24.2 53.2ZM-10.0 53.5L-9.8 53.5L24.4 53.2L24.3 53.2ZM-9.6 53.5L-9.5 53.5L24.5 53.2L24.5 53.2ZM-9.3 53.5L-9.1 53.5L24.7 53.2L24.6 53.2ZM-8.9 53.5L-8.8 53.5L24.8 53.2L24.8 53.2ZM-8.6 53.5L-8.4 53.5L25.0 53.2L24.9 53.2ZM-8.2 53.5L-8.1 53.5L25.1 53.2L25.0 53.2ZM-7.9 53.5L-7.7 53.5L25.3 53.2L25.2 53.2ZM-7.6 53.5L-7.4 53.5L25.4 53.2L25.3 53.2ZM-7.2 53.5L-7.0 53.5L25.5 53.2L25.5 53.2ZM-6.9 53.5L-6.7 53.5L25.7 53.2L25.6 53.2ZM-6.5 53.5L-6.3 53.5L25.8 53.2L25.8 53.2ZM-6.2 53.5L-6.0 53.5L26.0 53.2L25.9 53.2ZM-5.8 53.5L-5.7 53.5L26.1 53.2L26.0 53.2ZM-5.5 53.5L-5.3 53.5L26.2 53.2L26.2 53.2ZM-5.1 53.5L-5.0 53.5L26.4 53.2L26.3 53.2ZM-4.8 53.5L-4.6 53.5L26.5 53.2L26.5 53.2ZM-4.4 53.5L-4.3 53.5L26.7 53.2L26.6 53.2ZM-4.1 53.5L-3.9 53.5L26.8 53.2L26.7 53.2ZM-3.7 53.5L-3.6 53.5L27.0 53.2L26.9 53.2ZM-3.4 53.5L-3.2 53.5L27.1 53.2L27.0 53.2ZM-3.1 53.5L-2.9 53.5L27.2 53.2L27.2 53.2ZM-2.7 53.5L-2.5 53.5L27.4 53.2L27.3 53.2ZM-2.4 53.5L-2.2 53.5L27.5 53.2L27.4 53.2ZM-2.0 53.5L-1.8 53.5L27.7 53.2L27.6 53.2ZM-1.7 53.5L-1.5 53.5L27.8 53.2L27.7 53.2ZM-1.3 53.5L-1.2 53.5L27.9 53.2L27.9 53.2ZM-1.0 53.5L-0.8 53.5L28.1 53.2L28.0 53.2ZM-0.6 53.5L-0.5 53.5L28.2 53.2L28.2 53.2ZM-0.3 53.5L-0.1 53.5L28.4 53.2L28.3 53.2ZM0.1 53.5L0.2 53.5L28.5 53.2L28.4 53.2ZM0.4 53.5L0.6 53.5L28.6 53.2L28.6 53.2ZM0.8 53.5L0.9 53.5L28.8 53.2L28.7 53.2ZM1.1 53.5L1.3 53.5L28.9 53.2L28.9 53.2ZM1.4 53.5L1.6 53.5L29.1 53.2L29.0 53.2ZM1.8 53.5L2.0 53.5L29.2 53.2L29.1 53.2ZM2.1 53.5L2.3 53.5L29.4 53.2L29.3 53.2ZM2.5 53.5L2.7 53.5L29.5 53.2L29.4 53.2ZM2.8 53.5L3.0 53.5L29.6 53.2L29.6 53.2ZM3.2 53.5L3.3 53.5L29.8 53.2L29.7 53.2ZM3.5 53.5L3.7 53.5L29.9 53.2L29.8 53.2ZM3.9 53.5L4.0 53.5L30.1 53.2L30.0 53.2ZM4.2 53.5L4.4 53.5L30.2 53.2L30.1 53.2ZM4.6 53.5L4.7 53.5L30.3 53.2L30.3 53.2ZM4.9 53.5L5.1 53.5L30.5 53.2L30.4 53.2ZM5.3 53.5L5.4 53.5L30.6 53.2L30.6 53.2ZM5.6 53.5L5.8 53.5L30.8 53.2L30.7 53.2ZM5.9 53.5L6.1 53.5L30.9 53.2L30.8 53.2ZM6.3 53.5L6.5 53.5L31.0 53.2L31.0 53.2ZM6.6 53.5L6.8 53.5L31.2 53.2L31.1 53.2ZM7.0 53.5L7.2 53.5L31.3 53.2L31.3 53.2ZM7.3 53.5L7.5 53.5L31.5 53.2L31.4 53.2ZM7.7 53.5L7.8 53.5L31.6 53.2L31.5 53.2ZM8.0 53.5L8.2 53.5L31.8 53.2L31.7 53.2ZM8.4 53.5L8.5 53.5L31.9 53.2L31.8 53.2ZM8.7 53.5L8.9 53.5L32.0 53.2L32.0 53.2ZM9.1 53.5L9.2 53.5L32.2 53.2L32.1 53.2ZM9.4 53.5L9.6 53.5L32.3 53.2L32.2 53.2ZM9.8 53.5L9.9 53.5L32.5 53.2L32.4 53.2ZM10.1 53.5L10.3 53.5L32.6 53.2L32.5 53.2ZM10.4 53.5L10.6 53.5L32.7 53.2L32.7 53.2ZM10.8 53.5L11.0 53.5L32.9 53.2L32.8 53.2ZM11.1 53.5L11.3 53.5L33.0 53.2L33.0 53.2ZM11.5 53.5L11.7 53.5L33.2 53.2L33.1 53.2ZM11.8 53.5L12.0 53.5L33.3 53.2L33.2 53.2ZM12.2 53.5L12.3 53.5L33.5 53.2L33.4 53.2ZM12.5 53.5L12.7 53.5L33.6 53.2L33.5 53.2ZM12.9 53.5L13.0 53.5L33.7 53.2L33.7 53.2ZM13.2 53.5L13.4 53.5L33.9 53.2L33.8 53.2ZM13.6 53.5L13.7 53.5L34.0 53.2L33.9 53.2ZM13.9 53.5L14.1 53.5L34.2 53.2L34.1 53.2ZM14.3 53.5L14.4 53.5L34.3 53.2L34.2 53.2ZM14.6 53.5L14.8 53.5L34.4 53.2L34.4 53.2ZM14.9 53.5L15.1 53.5L34.6 53.2L34.5 53.2ZM15.3 53.5L15.5 53.5L34.7 53.2L34.7 53.2ZM15.6 53.5L15.8 53.5L34.9 53.2L34.8 53.2ZM16.0 53.5L16.2 53.5L35.0 53.2L34.9 53.2ZM16.3 53.5L16.5 53.5L35.1 53.2L35.1 53.2ZM16.7 53.5L16.9 53.5L35.3 53.2L35.2 53.2ZM17.0 53.5L17.2 53.5L35.4 53.2L35.4 53.2ZM17.4 53.5L17.5 53.5L35.6 53.2L35.5 53.2ZM17.7 53.5L17.9 53.5L35.7 53.2L35.6 53.2ZM18.1 53.5L18.2 53.5L35.9 53.2L35.8 53.2ZM18.4 53.5L18.6 53.5L36.0 53.2L35.9 53.2ZM18.8 53.5L18.9 53.5L36.1 53.2L36.1 53.2ZM19.1 53.5L19.3 53.5L36.3 53.2L36.2 53.2ZM19.4 53.5L19.6 53.5L36.4 53.2L36.3 53.2ZM19.8 53.5L20.0 53.5L36.6 53.2L36.5 53.2ZM20.1 53.5L20.3 53.5L36.7 53.2L36.6 53.2ZM20.5 53.5L20.7 53.5L36.8 53.2L36.8 53.2ZM20.8 53.5L21.0 53.5L37.0 53.2L36.9 53.2ZM21.2 53.5L21.4 53.5L37.1 53.2L37.1 53.2ZM21.5 53.5L21.7 53.5L37.3 53.2L37.2 53.2ZM21.9 53.5L22.0 53.5L37.4 53.2L37.3 53.2ZM22.2 53.5L22.4 53.5L37.5 53.2L37.5 53.2ZM22.6 53.5L22.7 53.5L37.7 53.2L37.6 53.2ZM22.9 53.5L23.1 53.5L37.8 53.2L37.8 53.2ZM23.3 53.5L23.4 53.5L38.0 53.2L37.9 53.2ZM23.6 53.5L23.8 53.5L38.1 53.2L38.0 53.2ZM23.9 53.5L24.1 53.5L38.3 53.2L38.2 53.2ZM24.3 53.5L24.5 53.5L38.4 53.2L38.3 53.2ZM24.6 53.5L24.8 53.5L38.5 53.2L38.5 53.2ZM25.0 53.5L25.2 53.5L38.7 53.2L38.6 53.2ZM25.3 53.5L25.5 53.5L38.8 53.2L38.7 53.2ZM25.7 53.5L25.9 53.5L39.0 53.2L38.9 53.2ZM26.0 53.5L26.2 53.5L39.1 53.2L39.0 53.2ZM26.4 53.5L26.5 53.5L39.2 53.2L39.2 53.2ZM26.7 53.5L26.9 53.5L39.4 53.2L39.3 53.2ZM27.1 53.5L27.2 53.5L39.5 53.2L39.5 53.2ZM27.4 53.5L27.6 53.5L39.7 53.2L39.6 53.2ZM27.8 53.5L27.9 53.5L39.8 53.2L39.7 53.2ZM28.1 53.5L28.3 53.5L39.9 53.2L39.9 53.2ZM28.4 53.5L28.6 53.5L40.1 53.2L40.0 53.2ZM28.8 53.5L29.0 53.5L40.2 53.2L40.2 53.2ZM29.1 53.5L29.3 53.5L40.4 53.2L40.3 53.2ZM29.5 53.5L29.7 53.5L40.5 53.2L40.4 53.2ZM29.8 53.5L30.0 53.5L40.7 53.2L40.6 53.2ZM30.2 53.5L30.4 53.5L40.8 53.2L40.7 53.2ZM30.5 53.5L30.7 53.5L40.9 53.2L40.9 53.2ZM30.9 53.5L31.0 53.5L41.1 53.2L41.0 53.2ZM31.2 53.5L31.4 53.5L41.2 53.2L41.2 53.2ZM31.6 53.5L31.7 53.5L41.4 53.2L41.3 53.2ZM31.9 53.5L32.1 53.5L41.5 53.2L41.4 53.2ZM32.3 53.5L32.4 53.5L41.6 53.2L41.6 53.2ZM32.6 53.5L32.8 53.5L41.8 53.2L41.7 53.2ZM32.9 53.5L33.1 53.5L41.9 53.2L41.9 53.2ZM33.3 53.5L33.5 53.5L42.1 53.2L42.0 53.2ZM33.6 53.5L33.8 53.5L42.2 53.2L42.1 53.2ZM34.0 53.5L34.2 53.5L42.4 53.2L42.3 53.2ZM34.3 53.5L34.5 53.5L42.5 53.2L42.4 53.2ZM34.7 53.5L34.9 53.5L42.6 53.2L42.6 53.2ZM35.0 53.5L35.2 53.5L42.8 53.2L42.7 53.2ZM35.4 53.5L35.5 53.5L42.9 53.2L42.8 53.2ZM35.7 53.5L35.9 53.5L43.1 53.2L43.0 53.2ZM36.1 53.5L36.2 53.5L43.2 53.2L43.1 53.2ZM36.4 53.5L36.6 53.5L43.3 53.2L43.3 53.2ZM36.8 53.5L36.9 53.5L43.5 53.2L43.4 53.2ZM37.1 53.5L37.3 53.5L43.6 53.2L43.6 53.2ZM37.4 53.5L37.6 53.5L43.8 53.2L43.7 53.2ZM37.8 53.5L38.0 53.5L43.9 53.2L43.8 53.2ZM38.1 53.5L38.3 53.5L44.0 53.2L44.0 53.2ZM38.5 53.5L38.7 53.5L44.2 53.2L44.1 53.2ZM38.8 53.5L39.0 53.5L44.3 53.2L44.3 53.2ZM39.2 53.5L39.4 53.5L44.5 53.2L44.4 53.2ZM39.5 53.5L39.7 53.5L44.6 53.2L44.5 53.2ZM39.9 53.5L40.0 53.5L44.8 53.2L44.7 53.2ZM40.2 53.5L40.4 53.5L44.9 53.2L44.8 53.2ZM40.6 53.5L40.7 53.5L45.0 53.2L45.0 53.2ZM40.9 53.5L41.1 53.5L45.2 53.2L45.1 53.2ZM41.3 53.5L41.4 53.5L45.3 53.2L45.2 53.2ZM41.6 53.5L41.8 53.5L45.5 53.2L45.4 53.2ZM42.0 53.5L42.1 53.5L45.6 53.2L45.5 53.2ZM42.3 53.5L42.5 53.5L45.7 53.2L45.7 53.2ZM42.6 53.5L42.8 53.5L45.9 53.2L45.8 53.2ZM43.0 53.5L43.2 53.5L46.0 53.2L46.0 53.2ZM43.3 53.5L43.5 53.5L46.2 53.2L46.1 53.2ZM43.7 53.5L43.9 53.5L46.3 53.2L46.2 53.2ZM44.0 53.5L44.2 53.5L46.4 53.2L46.4 53.2ZM44.4 53.5L44.5 53.5L46.6 53.2L46.5 53.2ZM44.7 53.5L44.9 53.5L46.7 53.2L46.7 53.2ZM45.1 53.5L45.2 53.5L46.9 53.2L46.8 53.2ZM45.4 53.5L45.6 53.5L47.0 53.2L46.9 53.2ZM45.8 53.5L45.9 53.5L47.2 53.2L47.1 53.2ZM46.1 53.5L46.3 53.5L47.3 53.2L47.2 53.2ZM46.5 53.5L46.6 53.5L47.4 53.2L47.4 53.2ZM46.8 53.5L47.0 53.5L47.6 53.2L47.5 53.2ZM47.1 53.5L47.3 53.5L47.7 53.2L47.7 53.2ZM47.5 53.5L47.7 53.5L47.9 53.2L47.8 53.2ZM47.8 53.5L48.0 53.5L48.0 53.2L47.9 53.2ZM48.2 53.5L48.4 53.5L48.1 53.2L48.1 53.2ZM48.5 53.5L48.7 53.5L48.3 53.2L48.2 53.2ZM48.9 53.5L49.0 53.5L48.4 53.2L48.4 53.2ZM49.2 53.5L49.4 53.5L48.6 53.2L48.5 53.2ZM49.6 53.5L49.7 53.5L48.7 53.2L48.6 53.2ZM49.9 53.5L50.1 53.5L48.9 53.2L48.8 53.2ZM50.3 53.5L50.4 53.5L49.0 53.2L48.9 53.2ZM50.6 53.5L50.8 53.5L49.1 53.2L49.1 53.2ZM51.0 53.5L51.1 53.5L49.3 53.2L49.2 53.2ZM51.3 53.5L51.5 53.5L49.4 53.2L49.3 53.2ZM51.6 53.5L51.8 53.5L49.6 53.2L49.5 53.2ZM52.0 53.5L52.2 53.5L49.7 53.2L49.6 53.2ZM52.3 53.5L52.5 53.5L49.8 53.2L49.8 53.2ZM52.7 53.5L52.9 53.5L50.0 53.2L49.9 53.2ZM53.0 53.5L53.2 53.5L50.1 53.2L50.1 53.2ZM53.4 53.5L53.5 53.5L50.3 53.2L50.2 53.2ZM53.7 53.5L53.9 53.5L50.4 53.2L50.3 53.2ZM54.1 53.5L54.2 53.5L50.5 53.2L50.5 53.2ZM54.4 53.5L54.6 53.5L50.7 53.2L50.6 53.2ZM54.8 53.5L54.9 53.5L50.8 53.2L50.8 53.2ZM55.1 53.5L55.3 53.5L51.0 53.2L50.9 53.2ZM55.5 53.5L55.6 53.5L51.1 53.2L51.0 53.2ZM55.8 53.5L56.0 53.5L51.3 53.2L51.2 53.2ZM56.1 53.5L56.3 53.5L51.4 53.2L51.3 53.2ZM56.5 53.5L56.7 53.5L51.5 53.2L51.5 53.2ZM56.8 53.5L57.0 53.5L51.7 53.2L51.6 53.2ZM57.2 53.5L57.4 53.5L51.8 53.2L51.7 53.2ZM57.5 53.5L57.7 53.5L52.0 53.2L51.9 53.2ZM57.9 53.5L58.0 53.5L52.1 53.2L52.0 53.2ZM58.2 53.5L58.4 53.5L52.2 53.2L52.2 53.2ZM58.6 53.5L58.7 53.5L52.4 53.2L52.3 53.2ZM58.9 53.5L59.1 53.5L52.5 53.2L52.5 53.2ZM59.3 53.5L59.4 53.5L52.7 53.2L52.6 53.2ZM59.6 53.5L59.8 53.5L52.8 53.2L52.7 53.2ZM60.0 53.5L60.1 53.5L52.9 53.2L52.9 53.2ZM60.3 53.5L60.5 53.5L53.1 53.2L53.0 53.2ZM60.6 53.5L60.8 53.5L53.2 53.2L53.2 53.2ZM61.0 53.5L61.2 53.5L53.4 53.2L53.3 53.2ZM61.3 53.5L61.5 53.5L53.5 53.2L53.4 53.2ZM61.7 53.5L61.9 53.5L53.7 53.2L53.6 53.2ZM62.0 53.5L62.2 53.5L53.8 53.2L53.7 53.2ZM62.4 53.5L62.5 53.5L53.9 53.2L53.9 53.2ZM62.7 53.5L62.9 53.5L54.1 53.2L54.0 53.2ZM63.1 53.5L63.2 53.5L54.2 53.2L54.1 53.2ZM63.4 53.5L63.6 53.5L54.4 53.2L54.3 53.2ZM63.8 53.5L63.9 53.5L54.5 53.2L54.4 53.2ZM64.1 53.5L64.3 53.5L54.6 53.2L54.6 53.2ZM64.5 53.5L64.6 53.5L54.8 53.2L54.7 53.2ZM64.8 53.5L65.0 53.5L54.9 53.2L54.9 53.2ZM65.1 53.5L65.3 53.5L55.1 53.2L55.0 53.2ZM65.5 53.5L65.7 53.5L55.2 53.2L55.1 53.2ZM65.8 53.5L66.0 53.5L55.4 53.2L55.3 53.2ZM66.2 53.5L66.4 53.5L55.5 53.2L55.4 53.2ZM66.5 53.5L66.7 53.5L55.6 53.2L55.6 53.2ZM66.9 53.5L67.0 53.5L55.8 53.2L55.7 53.2ZM67.2 53.5L67.4 53.5L55.9 53.2L55.8 53.2ZM67.6 53.5L67.7 53.5L56.1 53.2L56.0 53.2ZM67.9 53.5L68.1 53.5L56.2 53.2L56.1 53.2ZM68.3 53.5L68.4 53.5L56.3 53.2L56.3 53.2ZM68.6 53.5L68.8 53.5L56.5 53.2L56.4 53.2ZM69.0 53.5L69.1 53.5L56.6 53.2L56.6 53.2ZM69.3 53.5L69.5 53.5L56.8 53.2L56.7 53.2ZM69.6 53.5L69.8 53.5L56.9 53.2L56.8 53.2ZM70.0 53.5L70.2 53.5L57.0 53.2L57.0 53.2ZM70.3 53.5L70.5 53.5L57.2 53.2L57.1 53.2ZM70.7 53.5L70.9 53.5L57.3 53.2L57.3 53.2ZM71.0 53.5L71.2 53.5L57.5 53.2L57.4 53.2ZM71.4 53.5L71.6 53.5L57.6 53.2L57.5 53.2ZM71.7 53.5L71.9 53.5L57.8 53.2L57.7 53.2ZM72.1 53.5L72.2 53.5L57.9 53.2L57.8 53.2ZM72.4 53.5L72.6 53.5L58.0 53.2L58.0 53.2ZM72.8 53.5L72.9 53.5L58.2 53.2L58.1 53.2ZM73.1 53.5L73.3 53.5L58.3 53.2L58.2 53.2ZM73.5 53.5L73.6 53.5L58.5 53.2L58.4 53.2ZM73.8 53.5L74.0 53.5L58.6 53.2L58.5 53.2ZM74.1 53.5L74.3 53.5L58.7 53.2L58.7 53.2ZM74.5 53.5L74.7 53.5L58.9 53.2L58.8 53.2ZM74.8 53.5L75.0 53.5L59.0 53.2L59.0 53.2ZM75.2 53.5L75.4 53.5L59.2 53.2L59.1 53.2ZM75.5 53.5L75.7 53.5L59.3 53.2L59.2 53.2ZM75.9 53.5L76.1 53.5L59.4 53.2L59.4 53.2ZM76.2 53.5L76.4 53.5L59.6 53.2L59.5 53.2ZM76.6 53.5L76.7 53.5L59.7 53.2L59.7 53.2ZM76.9 53.5L77.1 53.5L59.9 53.2L59.8 53.2ZM77.3 53.5L77.4 53.5L60.0 53.2L59.9 53.2ZM77.6 53.5L77.8 53.5L60.2 53.2L60.1 53.2ZM78.0 53.5L78.1 53.5L60.3 53.2L60.2 53.2ZM78.3 53.5L78.5 53.5L60.4 53.2L60.4 53.2ZM78.6 53.5L78.8 53.5L60.6 53.2L60.5 53.2ZM79.0 53.5L79.2 53.5L60.7 53.2L60.6 53.2ZM79.3 53.5L79.5 53.5L60.9 53.2L60.8 53.2ZM79.7 53.5L79.9 53.5L61.0 53.2L60.9 53.2ZM80.0 53.5L80.2 53.5L61.1 53.2L61.1 53.2ZM80.4 53.5L80.6 53.5L61.3 53.2L61.2 53.2ZM80.7 53.5L80.9 53.5L61.4 53.2L61.4 53.2ZM81.1 53.5L81.2 53.5L61.6 53.2L61.5 53.2ZM81.4 53.5L81.6 53.5L61.7 53.2L61.6 53.2ZM81.8 53.5L81.9 53.5L61.8 53.2L61.8 53.2ZM82.1 53.5L82.3 53.5L62.0 53.2L61.9 53.2ZM82.5 53.5L82.6 53.5L62.1 53.2L62.1 53.2ZM82.8 53.5L83.0 53.5L62.3 53.2L62.2 53.2ZM83.1 53.5L83.3 53.5L62.4 53.2L62.3 53.2ZM83.5 53.5L83.7 53.5L62.6 53.2L62.5 53.2ZM83.8 53.5L84.0 53.5L62.7 53.2L62.6 53.2ZM84.2 53.5L84.4 53.5L62.8 53.2L62.8 53.2ZM84.5 53.5L84.7 53.5L63.0 53.2L62.9 53.2ZM84.9 53.5L85.1 53.5L63.1 53.2L63.1 53.2ZM85.2 53.5L85.4 53.5L63.3 53.2L63.2 53.2ZM85.6 53.5L85.7 53.5L63.4 53.2L63.3 53.2ZM85.9 53.5L86.1 53.5L63.5 53.2L63.5 53.2ZM86.3 53.5L86.4 53.5L63.7 53.2L63.6 53.2ZM86.6 53.5L86.8 53.5L63.8 53.2L63.8 53.2ZM87.0 53.5L87.1 53.5L64.0 53.2L63.9 53.2ZM87.3 53.5L87.5 53.5L64.1 53.2L64.0 53.2ZM87.6 53.5L87.8 53.5L64.3 53.2L64.2 53.2ZM88.0 53.5L88.2 53.5L64.4 53.2L64.3 53.2ZM88.3 53.5L88.5 53.5L64.5 53.2L64.5 53.2ZM88.7 53.5L88.9 53.5L64.7 53.2L64.6 53.2ZM89.0 53.5L89.2 53.5L64.8 53.2L64.7 53.2ZM89.4 53.5L89.6 53.5L65.0 53.2L64.9 53.2ZM89.7 53.5L89.9 53.5L65.1 53.2L65.0 53.2ZM90.1 53.5L90.2 53.5L65.2 53.2L65.2 53.2ZM90.4 53.5L90.6 53.5L65.4 53.2L65.3 53.2ZM90.8 53.5L90.9 53.5L65.5 53.2L65.5 53.2ZM91.1 53.5L91.3 53.5L65.7 53.2L65.6 53.2ZM91.5 53.5L91.6 53.5L65.8 53.2L65.7 53.2ZM91.8 53.5L92.0 53.5L65.9 53.2L65.9 53.2ZM92.1 53.5L92.3 53.5L66.1 53.2L66.0 53.2ZM92.5 53.5L92.7 53.5L66.2 53.2L66.2 53.2ZM92.8 53.5L93.0 53.5L66.4 53.2L66.3 53.2ZM93.2 53.5L93.4 53.5L66.5 53.2L66.4 53.2ZM93.5 53.5L93.7 53.5L66.7 53.2L66.6 53.2ZM93.9 53.5L94.1 53.5L66.8 53.2L66.7 53.2ZM94.2 53.5L94.4 53.5L66.9 53.2L66.9 53.2ZM94.6 53.5L94.7 53.5L67.1 53.2L67.0 53.2ZM94.9 53.5L95.1 53.5L67.2 53.2L67.1 53.2ZM95.3 53.5L95.4 53.5L67.4 53.2L67.3 53.2ZM95.6 53.5L95.8 53.5L67.5 53.2L67.4 53.2ZM96.0 53.5L96.1 53.5L67.6 53.2L67.6 53.2ZM96.3 53.5L96.5 53.5L67.8 53.2L67.7 53.2ZM96.7 53.5L96.8 53.5L67.9 53.2L67.9 53.2ZM97.0 53.5L97.2 53.5L68.1 53.2L68.0 53.2ZM97.3 53.5L97.5 53.5L68.2 53.2L68.1 53.2ZM97.7 53.5L97.9 53.5L68.3 53.2L68.3 53.2ZM98.0 53.5L98.2 53.5L68.5 53.2L68.4 53.2ZM98.4 53.5L98.6 53.5L68.6 53.2L68.6 53.2ZM98.7 53.5L98.9 53.5L68.8 53.2L68.7 53.2ZM99.1 53.5L99.2 53.5L68.9 53.2L68.8 53.2ZM99.4 53.5L99.6 53.5L69.1 53.2L69.0 53.2ZM99.8 53.5L99.9 53.5L69.2 53.2L69.1 53.2ZM100.1 53.5L100.3 53.5L69.3 53.2L69.3 53.2ZM100.5 53.5L100.6 53.5L69.5 53.2L69.4 53.2ZM100.8 53.5L101.0 53.5L69.6 53.2L69.6 53.2ZM101.2 53.5L101.3 53.5L69.8 53.2L69.7 53.2ZM101.5 53.5L101.7 53.5L69.9 53.2L69.8 53.2ZM101.8 53.5L102.0 53.5L70.0 53.2L70.0 53.2ZM102.2 53.5L102.4 53.5L70.2 53.2L70.1 53.2ZM102.5 53.5L102.7 53.5L70.3 53.2L70.3 53.2ZM102.9 53.5L103.1 53.5L70.5 53.2L70.4 53.2ZM103.2 53.5L103.4 53.5L70.6 53.2L70.5 53.2ZM103.6 53.5L103.7 53.5L70.8 53.2L70.7 53.2ZM103.9 53.5L104.1 53.5L70.9 53.2L70.8 53.2ZM104.3 53.5L104.4 53.5L71.0 53.2L71.0 53.2ZM104.6 53.5L104.8 53.5L71.2 53.2L71.1 53.2ZM105.0 53.5L105.1 53.5L71.3 53.2L71.2 53.2ZM105.3 53.5L105.5 53.5L71.5 53.2L71.4 53.2ZM105.7 53.5L105.8 53.5L71.6 53.2L71.5 53.2ZM106.0 53.5L106.2 53.5L71.7 53.2L71.7 53.2ZM106.3 53.5L106.5 53.5L71.9 53.2L71.8 53.2ZM106.7 53.5L106.9 53.5L72.0 53.2L72.0 53.2ZM107.0 53.5L107.2 53.5L72.2 53.2L72.1 53.2ZM107.4 53.5L107.6 53.5L72.3 53.2L72.2 53.2ZM107.7 53.5L107.9 53.5L72.4 53.2L72.4 53.2ZM108.1 53.5L108.2 53.5L72.6 53.2L72.5 53.2ZM108.4 53.5L108.6 53.5L72.7 53.2L72.7 53.2ZM108.8 53.5L108.9 53.5L72.9 53.2L72.8 53.2ZM109.1 53.5L109.3 53.5L73.0 53.2L72.9 53.2ZM109.5 53.5L109.6 53.5L73.2 53.2L73.1 53.2ZM109.8 53.5L110.0 53.5L73.3 53.2L73.2 53.2ZM110.2 53.5L110.3 53.5L73.4 53.2L73.4 53.2ZM110.5 53.5L110.7 53.5L73.6 53.2L73.5 53.2ZM110.8 53.5L111.0 53.5L73.7 53.2L73.6 53.2ZM111.2 53.5L111.4 53.5L73.9 53.2L73.8 53.2ZM111.5 53.5L111.7 53.5L74.0 53.2L73.9 53.2ZM111.9 53.5L112.1 53.5L74.1 53.2L74.1 53.2ZM112.2 53.5L112.4 53.5L74.3 53.2L74.2 53.2ZM112.6 53.5L112.7 53.5L74.4 53.2L74.4 53.2ZM112.9 53.5L113.1 53.5L74.6 53.2L74.5 53.2ZM113.3 53.5L113.4 53.5L74.7 53.2L74.6 53.2ZM113.6 53.5L113.8 53.5L74.8 53.2L74.8 53.2ZM114.0 53.5L114.1 53.5L75.0 53.2L74.9 53.2ZM114.3 53.5L114.5 53.5L75.1 53.2L75.1 53.2ZM114.7 53.5L114.8 53.5L75.3 53.2L75.2 53.2ZM115.0 53.5L115.2 53.5L75.4 53.2L75.3 53.2ZM115.3 53.5L115.5 53.5L75.6 53.2L75.5 53.2ZM115.7 53.5L115.9 53.5L75.7 53.2L75.6 53.2ZM116.0 53.5L116.2 53.5L75.8 53.2L75.8 53.2ZM116.4 53.5L116.6 53.5L76.0 53.2L75.9 53.2ZM116.7 53.5L116.9 53.5L76.1 53.2L76.0 53.2ZM117.1 53.5L117.2 53.5L76.3 53.2L76.2 53.2ZM117.4 53.5L117.6 53.5L76.4 53.2L76.3 53.2ZM117.8 53.5L117.9 53.5L76.5 53.2L76.5 53.2ZM118.1 53.5L118.3 53.5L76.7 53.2L76.6 53.2ZM118.5 53.5L118.6 53.5L76.8 53.2L76.8 53.2ZM118.8 53.5L119.0 53.5L77.0 53.2L76.9 53.2ZM119.2 53.5L119.3 53.5L77.1 53.2L77.0 53.2ZM119.5 53.5L119.7 53.5L77.3 53.2L77.2 53.2ZM119.8 53.5L120.0 53.5L77.4 53.2L77.3 53.2ZM120.2 53.5L120.4 53.5L77.5 53.2L77.5 53.2ZM120.5 53.5L120.7 53.5L77.7 53.2L77.6 53.2ZM120.9 53.5L121.1 53.5L77.8 53.2L77.7 53.2ZM121.2 53.5L121.4 53.5L78.0 53.2L77.9 53.2ZM121.6 53.5L121.8 53.5L78.1 53.2L78.0 53.2ZM121.9 53.5L122.1 53.5L78.2 53.2L78.2 53.2ZM122.3 53.5L122.4 53.5L78.4 53.2L78.3 53.2ZM122.6 53.5L122.8 53.5L78.5 53.2L78.5 53.2ZM123.0 53.5L123.1 53.5L78.7 53.2L78.6 53.2ZM123.3 53.5L123.5 53.5L78.8 53.2L78.7 53.2ZM123.7 53.5L123.8 53.5L78.9 53.2L78.9 53.2ZM124.0 53.5L124.2 53.5L79.1 53.2L79.0 53.2ZM124.3 53.5L124.5 53.5L79.2 53.2L79.2 53.2ZM124.7 53.5L124.9 53.5L79.4 53.2L79.3 53.2ZM125.0 53.5L125.2 53.5L79.5 53.2L79.4 53.2ZM125.4 53.5L125.6 53.5L79.7 53.2L79.6 53.2ZM125.7 53.5L125.9 53.5L79.8 53.2L79.7 53.2ZM126.1 53.5L126.3 53.5L79.9 53.2L79.9 53.2ZM126.4 53.5L126.6 53.5L80.1 53.2L80.0 53.2ZM126.8 53.5L126.9 53.5L80.2 53.2L80.1 53.2ZM127.1 53.5L127.3 53.5L80.4 53.2L80.3 53.2ZM127.5 53.5L127.6 53.5L80.5 53.2L80.4 53.2ZM127.8 53.5L128.0 53.5L80.6 53.2L80.6 53.2ZM128.2 53.5L128.3 53.5L80.8 53.2L80.7 53.2ZM128.5 53.5L128.7 53.5L80.9 53.2L80.9 53.2ZM128.8 53.5L129.0 53.5L81.1 53.2L81.0 53.2ZM129.2 53.5L129.4 53.5L81.2 53.2L81.1 53.2ZM129.5 53.5L129.7 53.5L81.3 53.2L81.3 53.2ZM129.9 53.5L130.1 53.5L81.5 53.2L81.4 53.2ZM130.2 53.5L130.4 53.5L81.6 53.2L81.6 53.2ZM130.6 53.5L130.8 53.5L81.8 53.2L81.7 53.2ZM130.9 53.5L131.1 53.5L81.9 53.2L81.8 53.2ZM131.3 53.5L131.4 53.5L82.1 53.2L82.0 53.2ZM131.6 53.5L131.8 53.5L82.2 53.2L82.1 53.2ZM132.0 53.5L132.1 53.5L82.3 53.2L82.3 53.2ZM132.3 53.5L132.5 53.5L82.5 53.2L82.4 53.2ZM132.7 53.5L132.8 53.5L82.6 53.2L82.5 53.2ZM133.0 53.5L133.2 53.5L82.8 53.2L82.7 53.2ZM133.3 53.5L133.5 53.5L82.9 53.2L82.8 53.2ZM133.7 53.5L133.9 53.5L83.0 53.2L83.0 53.2ZM134.0 53.5L134.2 53.5L83.2 53.2L83.1 53.2ZM134.4 53.5L134.6 53.5L83.3 53.2L83.3 53.2ZM134.7 53.5L134.9 53.5L83.5 53.2L83.4 53.2ZM135.1 53.5L135.3 53.5L83.6 53.2L83.5 53.2ZM135.4 53.5L135.6 53.5L83.7 53.2L83.7 53.2ZM135.8 53.5L135.9 53.5L83.9 53.2L83.8 53.2ZM136.1 53.5L136.3 53.5L84.0 53.2L84.0 53.2ZM136.5 53.5L136.6 53.5L84.2 53.2L84.1 53.2ZM136.8 53.5L137.0 53.5L84.3 53.2L84.2 53.2ZM137.2 53.5L137.3 53.5L84.5 53.2L84.4 53.2ZM137.5 53.5L137.7 53.5L84.6 53.2L84.5 53.2ZM137.8 53.5L138.0 53.5L84.7 53.2L84.7 53.2ZM138.2 53.5L138.4 53.5L84.9 53.2L84.8 53.2ZM138.5 53.5L138.7 53.5L85.0 53.2L85.0 53.2ZM138.9 53.5L139.1 53.5L85.2 53.2L85.1 53.2ZM139.2 53.5L139.4 53.5L85.3 53.2L85.2 53.2ZM139.6 53.5L139.8 53.5L85.4 53.2L85.4 53.2ZM139.9 53.5L140.1 53.5L85.6 53.2L85.5 53.2ZM140.3 53.5L140.4 53.5L85.7 53.2L85.7 53.2ZM140.6 53.5L140.8 53.5L85.9 53.2L85.8 53.2ZM141.0 53.5L141.1 53.5L86.0 53.2L85.9 53.2ZM141.3 53.5L141.5 53.5L86.2 53.2L86.1 53.2ZM141.7 53.5L141.8 53.5L86.3 53.2L86.2 53.2ZM142.0 53.5L142.2 53.5L86.4 53.2L86.4 53.2ZM142.3 53.5L142.5 53.5L86.6 53.2L86.5 53.2ZM142.7 53.5L142.9 53.5L86.7 53.2L86.6 53.2ZM143.0 53.5L143.2 53.5L86.9 53.2L86.8 53.2ZM143.4 53.5L143.6 53.5L87.0 53.2L86.9 53.2ZM143.7 53.5L143.9 53.5L87.1 53.2L87.1 53.2ZM144.1 53.5L144.3 53.5L87.3 53.2L87.2 53.2ZM144.4 53.5L144.6 53.5L87.4 53.2L87.4 53.2ZM144.8 53.5L144.9 53.5L87.6 53.2L87.5 53.2ZM145.1 53.5L145.3 53.5L87.7 53.2L87.6 53.2ZM145.5 53.5L145.6 53.5L87.8 53.2L87.8 53.2ZM145.8 53.5L146.0 53.5L88.0 53.2L87.9 53.2ZM146.2 53.5L146.3 53.5L88.1 53.2L88.1 53.2ZM146.5 53.5L146.7 53.5L88.3 53.2L88.2 53.2ZM146.9 53.5L147.0 53.5L88.4 53.2L88.3 53.2ZM147.2 53.5L147.4 53.5L88.6 53.2L88.5 53.2ZM147.5 53.5L147.7 53.5L88.7 53.2L88.6 53.2ZM147.9 53.5L148.1 53.5L88.8 53.2L88.8 53.2ZM148.2 53.5L148.4 53.5L89.0 53.2L88.9 53.2ZM148.6 53.5L148.8 53.5L89.1 53.2L89.0 53.2ZM148.9 53.5L149.1 53.5L89.3 53.2L89.2 53.2ZM149.3 53.5L149.4 53.5L89.4 53.2L89.3 53.2ZM149.6 53.5L149.8 53.5L89.5 53.2L89.5 53.2ZM150.0 53.5L150.1 53.5L89.7 53.2L89.6 53.2ZM150.3 53.5L150.5 53.5L89.8 53.2L89.8 53.2ZM150.7 53.5L150.8 53.5L90.0 53.2L89.9 53.2ZM151.0 53.5L151.2 53.5L90.1 53.2L90.0 53.2ZM151.4 53.5L151.5 53.5L90.2 53.2L90.2 53.2ZM151.7 53.5L151.9 53.5L90.4 53.2L90.3 53.2ZM152.0 53.5L152.2 53.5L90.5 53.2L90.5 53.2ZM152.4 53.5L152.6 53.5L90.7 53.2L90.6 53.2ZM152.7 53.5L152.9 53.5L90.8 53.2L90.7 53.2ZM153.1 53.5L153.3 53.5L91.0 53.2L90.9 53.2ZM153.4 53.5L153.6 53.5L91.1 53.2L91.0 53.2ZM153.8 53.5L153.9 53.5L91.2 53.2L91.2 53.2ZM154.1 53.5L154.3 53.5L91.4 53.2L91.3 53.2ZM154.5 53.5L154.6 53.5L91.5 53.2L91.5 53.2ZM154.8 53.5L155.0 53.5L91.7 53.2L91.6 53.2ZM155.2 53.5L155.3 53.5L91.8 53.2L91.7 53.2ZM155.5 53.5L155.7 53.5L91.9 53.2L91.9 53.2ZM155.9 53.5L156.0 53.5L92.1 53.2L92.0 53.2ZM156.2 53.5L156.4 53.5L92.2 53.2L92.2 53.2ZM156.5 53.5L156.7 53.5L92.4 53.2L92.3 53.2ZM156.9 53.5L157.1 53.5L92.5 53.2L92.4 53.2ZM157.2 53.5L157.4 53.5L92.7 53.2L92.6 53.2ZM157.6 53.5L157.8 53.5L92.8 53.2L92.7 53.2ZM157.9 53.5L158.1 53.5L92.9 53.2L92.9 53.2ZM158.3 53.5L158.4 53.5L93.1 53.2L93.0 53.2ZM158.6 53.5L158.8 53.5L93.2 53.2L93.1 53.2ZM159.0 53.5L159.1 53.5L93.4 53.2L93.3 53.2ZM159.3 53.5L159.5 53.5L93.5 53.2L93.4 53.2ZM159.7 53.5L159.8 53.5L93.6 53.2L93.6 53.2ZM160.0 53.5L160.2 53.5L93.8 53.2L93.7 53.2ZM160.4 53.5L160.5 53.5L93.9 53.2L93.9 53.2ZM160.7 53.5L160.9 53.5L94.1 53.2L94.0 53.2ZM161.0 53.5L161.2 53.5L94.2 53.2L94.1 53.2ZM161.4 53.5L161.6 53.5L94.3 53.2L94.3 53.2ZM161.7 53.5L161.9 53.5L94.5 53.2L94.4 53.2ZM162.1 53.5L162.3 53.5L94.6 53.2L94.6 53.2ZM162.4 53.5L162.6 53.5L94.8 53.2L94.7 53.2ZM162.8 53.5L162.9 53.5L94.9 53.2L94.8 53.2ZM163.1 53.5L163.3 53.5L95.1 53.2L95.0 53.2ZM163.5 53.5L163.6 53.5L95.2 53.2L95.1 53.2ZM163.8 53.5L164.0 53.5L95.3 53.2L95.3 53.2ZM164.2 53.5L164.3 53.5L95.5 53.2L95.4 53.2ZM164.5 53.5L164.7 53.5L95.6 53.2L95.5 53.2ZM164.9 53.5L165.0 53.5L95.8 53.2L95.7 53.2ZM165.2 53.5L165.4 53.5L95.9 53.2L95.8 53.2ZM165.5 53.5L165.7 53.5L96.0 53.2L96.0 53.2Z" fill="#050505"/>
<rect y="53" width="96" height="25.8" fill="url(#hazeH)"/>
<path d="M42.2 31 Q49 45 52 63 Q51 73 48.5 81" fill="none" stroke="#94501f" stroke-width="3.6" stroke-linecap="round"/>
<line x1="40.5" y1="84.5" x2="57.5" y2="79.5" stroke="#94501f" stroke-width="3.6" stroke-linecap="round"/>
<rect width="5" height="53" fill="url(#bevL)"/>
</symbol>
<symbol id="ch1" viewBox="0 0 96 96">
<rect width="96" height="50.0" fill="url(#skyC)"/>
<rect y="49.5" width="96" height="46.5" fill="#cfe3cf"/>
<path d="M-28.1 96.0L3.6 96.0L13.5 85.7L-11.2 85.7ZM35.3 96.0L67.0 96.0L62.8 85.7L38.1 85.7ZM98.7 96.0L130.4 96.0L112.2 85.7L87.5 85.7ZM-35.9 85.7L-11.2 85.7L1.6 77.9L-17.8 77.9ZM13.5 85.7L38.1 85.7L40.3 77.9L20.9 77.9ZM62.8 85.7L87.5 85.7L78.9 77.9L59.6 77.9ZM1.6 77.9L20.9 77.9L26.6 71.9L11.3 71.9ZM40.3 77.9L59.6 77.9L57.2 71.9L41.9 71.9ZM78.9 77.9L98.3 77.9L87.7 71.9L72.5 71.9ZM-4.0 71.9L11.3 71.9L18.7 67.4L6.5 67.4ZM26.6 71.9L41.9 71.9L43.1 67.4L30.9 67.4ZM57.2 71.9L72.5 71.9L67.5 67.4L55.3 67.4ZM87.7 71.9L103.0 71.9L91.9 67.4L79.7 67.4ZM-5.7 67.4L6.5 67.4L14.5 64.0L4.6 64.0ZM18.7 67.4L30.9 67.4L34.2 64.0L24.3 64.0ZM43.1 67.4L55.3 67.4L53.9 64.0L44.1 64.0ZM67.5 67.4L79.7 67.4L73.6 64.0L63.8 64.0ZM91.9 67.4L104.1 67.4L93.4 64.0L83.5 64.0ZM-5.2 64.0L4.6 64.0L12.4 61.4L4.4 61.4ZM14.5 64.0L24.3 64.0L28.6 61.4L20.5 61.4ZM34.2 64.0L44.1 64.0L44.8 61.4L36.7 61.4ZM53.9 64.0L63.8 64.0L60.9 61.4L52.8 61.4ZM73.6 64.0L83.5 64.0L77.1 61.4L69.0 61.4ZM93.4 64.0L103.2 64.0L93.3 61.4L85.2 61.4ZM-3.7 61.4L4.4 61.4L11.7 59.4L4.9 59.4ZM12.4 61.4L20.5 61.4L25.1 59.4L18.4 59.4ZM28.6 61.4L36.7 61.4L38.6 59.4L31.9 59.4ZM44.8 61.4L52.8 61.4L52.0 59.4L45.3 59.4ZM60.9 61.4L69.0 61.4L65.5 59.4L58.8 59.4ZM77.1 61.4L85.2 61.4L78.9 59.4L72.2 59.4ZM93.3 61.4L101.3 61.4L92.4 59.4L85.7 59.4ZM-15.2 59.4L-8.5 59.4L0.1 57.9L-5.6 57.9ZM-1.8 59.4L4.9 59.4L11.5 57.9L5.8 57.9ZM11.7 59.4L18.4 59.4L22.9 57.9L17.2 57.9ZM25.1 59.4L31.9 59.4L34.3 57.9L28.6 57.9ZM38.6 59.4L45.3 59.4L45.7 57.9L40.0 57.9ZM52.0 59.4L58.8 59.4L57.1 57.9L51.4 57.9ZM65.5 59.4L72.2 59.4L68.5 57.9L62.8 57.9ZM78.9 59.4L85.7 59.4L79.9 57.9L74.2 57.9ZM92.4 59.4L99.1 59.4L91.3 57.9L85.6 57.9ZM-11.3 57.9L-5.6 57.9L1.8 56.7L-3.1 56.7ZM0.1 57.9L5.8 57.9L11.6 56.7L6.7 56.7ZM11.5 57.9L17.2 57.9L21.4 56.7L16.5 56.7ZM22.9 57.9L28.6 57.9L31.3 56.7L26.4 56.7ZM34.3 57.9L40.0 57.9L41.1 56.7L36.2 56.7ZM45.7 57.9L51.4 57.9L51.0 56.7L46.0 56.7ZM57.1 57.9L62.8 57.9L60.8 56.7L55.9 56.7ZM68.5 57.9L74.2 57.9L70.6 56.7L65.7 56.7ZM79.9 57.9L85.6 57.9L80.5 56.7L75.5 56.7ZM91.3 57.9L97.0 57.9L90.3 56.7L85.4 56.7ZM102.7 57.9L108.4 57.9L100.1 56.7L95.2 56.7ZM-8.1 56.7L-3.1 56.7L3.0 55.8L-1.3 55.8ZM1.8 56.7L6.7 56.7L11.7 55.8L7.4 55.8ZM11.6 56.7L16.5 56.7L20.3 55.8L16.0 55.8ZM21.4 56.7L26.4 56.7L29.0 55.8L24.7 55.8ZM31.3 56.7L36.2 56.7L37.6 55.8L33.3 55.8ZM41.1 56.7L46.0 56.7L46.3 55.8L41.9 55.8ZM51.0 56.7L55.9 56.7L54.9 55.8L50.6 55.8ZM60.8 56.7L65.7 56.7L63.6 55.8L59.2 55.8ZM70.6 56.7L75.5 56.7L72.2 55.8L67.9 55.8ZM80.5 56.7L85.4 56.7L80.9 55.8L76.5 55.8ZM90.3 56.7L95.2 56.7L89.5 55.8L85.2 55.8ZM100.1 56.7L105.0 56.7L98.2 55.8L93.8 55.8ZM-5.6 55.8L-1.3 55.8L3.9 55.2L-0.0 55.2ZM3.0 55.8L7.4 55.8L11.6 55.2L7.7 55.2ZM11.7 55.8L16.0 55.8L19.3 55.2L15.5 55.2ZM20.3 55.8L24.7 55.8L27.1 55.2L23.2 55.2ZM29.0 55.8L33.3 55.8L34.8 55.2L31.0 55.2ZM37.6 55.8L41.9 55.8L42.6 55.2L38.7 55.2ZM46.3 55.8L50.6 55.8L50.3 55.2L46.5 55.2ZM54.9 55.8L59.2 55.8L58.1 55.2L54.2 55.2ZM63.6 55.8L67.9 55.8L65.8 55.2L61.9 55.2ZM72.2 55.8L76.5 55.8L73.6 55.2L69.7 55.2ZM80.9 55.8L85.2 55.8L81.3 55.2L77.4 55.2ZM89.5 55.8L93.8 55.8L89.0 55.2L85.2 55.2ZM98.2 55.8L102.5 55.8L96.8 55.2L92.9 55.2ZM-3.9 55.2L-0.0 55.2L4.2 54.7L0.7 54.7ZM3.9 55.2L7.7 55.2L11.3 54.7L7.8 54.7ZM11.6 55.2L15.5 55.2L18.4 54.7L14.8 54.7ZM19.3 55.2L23.2 55.2L25.4 54.7L21.9 54.7ZM27.1 55.2L31.0 55.2L32.5 54.7L28.9 54.7ZM34.8 55.2L38.7 55.2L39.5 54.7L36.0 54.7ZM42.6 55.2L46.5 55.2L46.6 54.7L43.1 54.7ZM50.3 55.2L54.2 55.2L53.6 54.7L50.1 54.7ZM58.1 55.2L61.9 55.2L60.7 54.7L57.2 54.7ZM65.8 55.2L69.7 55.2L67.8 54.7L64.2 54.7ZM73.6 55.2L77.4 55.2L74.8 54.7L71.3 54.7ZM81.3 55.2L85.2 55.2L81.9 54.7L78.4 54.7ZM89.0 55.2L92.9 55.2L88.9 54.7L85.4 54.7ZM96.8 55.2L100.7 55.2L96.0 54.7L92.5 54.7ZM-2.8 54.7L0.7 54.7L4.2 54.3L0.9 54.3ZM4.2 54.7L7.8 54.7L10.7 54.3L7.5 54.3ZM11.3 54.7L14.8 54.7L17.3 54.3L14.0 54.3ZM18.4 54.7L21.9 54.7L23.8 54.3L20.5 54.3ZM25.4 54.7L28.9 54.7L30.4 54.3L27.1 54.3ZM32.5 54.7L36.0 54.7L36.9 54.3L33.6 54.3ZM39.5 54.7L43.1 54.7L43.4 54.3L40.2 54.3ZM46.6 54.7L50.1 54.7L50.0 54.3L46.7 54.3ZM53.6 54.7L57.2 54.7L56.5 54.3L53.2 54.3ZM60.7 54.7L64.2 54.7L63.0 54.3L59.8 54.3ZM67.8 54.7L71.3 54.7L69.6 54.3L66.3 54.3ZM74.8 54.7L78.4 54.7L76.1 54.3L72.8 54.3ZM81.9 54.7L85.4 54.7L82.6 54.3L79.4 54.3ZM88.9 54.7L92.5 54.7L89.2 54.3L85.9 54.3ZM96.0 54.7L99.5 54.7L95.7 54.3L92.5 54.3ZM-2.3 54.3L0.9 54.3L3.8 54.0L0.7 54.0ZM4.2 54.3L7.5 54.3L9.9 54.0L6.9 54.0ZM10.7 54.3L14.0 54.3L16.1 54.0L13.0 54.0ZM17.3 54.3L20.5 54.3L22.2 54.0L19.1 54.0ZM23.8 54.3L27.1 54.3L28.3 54.0L25.3 54.0ZM30.4 54.3L33.6 54.3L34.5 54.0L31.4 54.0ZM36.9 54.3L40.2 54.3L40.6 54.0L37.6 54.0ZM43.4 54.3L46.7 54.3L46.8 54.0L43.7 54.0ZM50.0 54.3L53.2 54.3L52.9 54.0L49.8 54.0ZM56.5 54.3L59.8 54.3L59.1 54.0L56.0 54.0ZM63.0 54.3L66.3 54.3L65.2 54.0L62.1 54.0ZM69.6 54.3L72.8 54.3L71.3 54.0L68.3 54.0ZM76.1 54.3L79.4 54.3L77.5 54.0L74.4 54.0ZM82.6 54.3L85.9 54.3L83.6 54.0L80.5 54.0ZM89.2 54.3L92.5 54.3L89.8 54.0L86.7 54.0ZM95.7 54.3L99.0 54.3L95.9 54.0L92.8 54.0ZM-2.4 54.0L0.7 54.0L3.0 53.8L0.1 53.8ZM3.8 54.0L6.9 54.0L8.9 53.8L6.0 53.8ZM9.9 54.0L13.0 54.0L14.7 53.8L11.8 53.8ZM16.1 54.0L19.1 54.0L20.6 53.8L17.6 53.8ZM22.2 54.0L25.3 54.0L26.4 53.8L23.5 53.8ZM28.3 54.0L31.4 54.0L32.2 53.8L29.3 53.8ZM34.5 54.0L37.6 54.0L38.1 53.8L35.2 53.8ZM40.6 54.0L43.7 54.0L43.9 53.8L41.0 53.8ZM46.8 54.0L49.8 54.0L49.8 53.8L46.8 53.8ZM52.9 54.0L56.0 54.0L55.6 53.8L52.7 53.8ZM59.1 54.0L62.1 54.0L61.4 53.8L58.5 53.8ZM65.2 54.0L68.3 54.0L67.3 53.8L64.4 53.8ZM71.3 54.0L74.4 54.0L73.1 53.8L70.2 53.8ZM77.5 54.0L80.5 54.0L78.9 53.8L76.0 53.8ZM83.6 54.0L86.7 54.0L84.8 53.8L81.9 53.8ZM89.8 54.0L92.8 54.0L90.6 53.8L87.7 53.8ZM95.9 54.0L99.0 54.0L96.5 53.8L93.5 53.8Z" fill="#050505"/>
<rect y="49.5" width="96" height="27.9" fill="url(#hazeC)"/>
<polyline points="29.5,59.3 67,56.8 76.2,47.7" fill="none" stroke="#c49a68" stroke-width="3.4" stroke-linecap="round" stroke-linejoin="round"/>
<polyline points="29.5,59.3 32,69.3" fill="none" stroke="#c49a68" stroke-width="3.2" stroke-linecap="round"/>
<polyline points="32,69.3 23.7,72.7" fill="none" stroke="#c98a8a" stroke-width="3.2" stroke-linecap="round"/>
<line x1="22.5" y1="73" x2="22.5" y2="82.7" stroke="#d42323" stroke-width="2.8" stroke-linecap="round"/>
<polyline points="67,56.8 63.7,66" fill="none" stroke="#c49a68" stroke-width="3.2" stroke-linecap="round"/>
<polyline points="63.7,66 70,72" fill="none" stroke="#c98a8a" stroke-width="3.2" stroke-linecap="round"/>
<line x1="70" y1="72" x2="74" y2="77" stroke="#d42323" stroke-width="3" stroke-linecap="round"/>
<path d="M0 0H96L90 7H6Z" fill="url(#bevT)"/>
<rect width="5" height="49.5" fill="url(#bevL)"/>
</symbol>
<symbol id="ch2" viewBox="0 0 96 96">
<rect width="96" height="49.0" fill="url(#skyC)"/>
<rect y="48.5" width="96" height="47.5" fill="#cfe3cf"/>
<path d="M-2.5 96.0L29.9 96.0L33.9 85.5L8.6 85.5ZM62.3 96.0L94.7 96.0L84.3 85.5L59.1 85.5ZM-16.6 85.5L8.6 85.5L17.1 77.5L-2.7 77.5ZM33.9 85.5L59.1 85.5L56.7 77.5L36.9 77.5ZM84.3 85.5L109.6 85.5L96.3 77.5L76.5 77.5ZM-22.5 77.5L-2.7 77.5L7.9 71.5L-7.7 71.5ZM17.1 77.5L36.9 77.5L39.2 71.5L23.6 71.5ZM56.7 77.5L76.5 77.5L70.5 71.5L54.9 71.5ZM96.3 77.5L116.1 77.5L101.9 71.5L86.2 71.5ZM-23.4 71.5L-7.7 71.5L3.5 66.8L-9.1 66.8ZM7.9 71.5L23.6 71.5L28.5 66.8L16.0 66.8ZM39.2 71.5L54.9 71.5L53.5 66.8L41.0 66.8ZM70.5 71.5L86.2 71.5L78.5 66.8L66.0 66.8ZM101.9 71.5L117.5 71.5L103.6 66.8L91.0 66.8ZM-21.6 66.8L-9.1 66.8L1.8 63.3L-8.3 63.3ZM3.5 66.8L16.0 66.8L22.1 63.3L12.0 63.3ZM28.5 66.8L41.0 66.8L42.3 63.3L32.2 63.3ZM53.5 66.8L66.0 66.8L62.6 63.3L52.5 63.3ZM78.5 66.8L91.0 66.8L82.8 63.3L72.7 63.3ZM103.6 66.8L116.1 66.8L103.1 63.3L93.0 63.3ZM-18.4 63.3L-8.3 63.3L1.8 60.7L-6.5 60.7ZM1.8 63.3L12.0 63.3L18.4 60.7L10.1 60.7ZM22.1 63.3L32.2 63.3L35.0 60.7L26.7 60.7ZM42.3 63.3L52.5 63.3L51.7 60.7L43.3 60.7ZM62.6 63.3L72.7 63.3L68.3 60.7L60.0 60.7ZM82.8 63.3L93.0 63.3L84.9 60.7L76.6 60.7ZM103.1 63.3L113.2 63.3L101.5 60.7L93.2 60.7ZM-14.8 60.7L-6.5 60.7L2.6 58.7L-4.4 58.7ZM1.8 60.7L10.1 60.7L16.4 58.7L9.5 58.7ZM18.4 60.7L26.7 60.7L30.3 58.7L23.3 58.7ZM35.0 60.7L43.3 60.7L44.1 58.7L37.2 58.7ZM51.7 60.7L60.0 60.7L58.0 58.7L51.0 58.7ZM68.3 60.7L76.6 60.7L71.8 58.7L64.9 58.7ZM84.9 60.7L93.2 60.7L85.7 58.7L78.8 58.7ZM101.5 60.7L109.8 60.7L99.5 58.7L92.6 58.7ZM-11.3 58.7L-4.4 58.7L3.6 57.1L-2.3 57.1ZM2.6 58.7L9.5 58.7L15.3 57.1L9.4 57.1ZM16.4 58.7L23.3 58.7L27.1 57.1L21.2 57.1ZM30.3 58.7L37.2 58.7L38.8 57.1L32.9 57.1ZM44.1 58.7L51.0 58.7L50.6 57.1L44.7 57.1ZM58.0 58.7L64.9 58.7L62.3 57.1L56.5 57.1ZM71.8 58.7L78.8 58.7L74.1 57.1L68.2 57.1ZM85.7 58.7L92.6 58.7L85.9 57.1L80.0 57.1ZM99.5 58.7L106.5 58.7L97.6 57.1L91.7 57.1ZM-8.2 57.1L-2.3 57.1L4.5 56.0L-0.6 56.0ZM3.6 57.1L9.4 57.1L14.7 56.0L9.6 56.0ZM15.3 57.1L21.2 57.1L24.8 56.0L19.7 56.0ZM27.1 57.1L32.9 57.1L35.0 56.0L29.9 56.0ZM38.8 57.1L44.7 57.1L45.2 56.0L40.1 56.0ZM50.6 57.1L56.5 57.1L55.3 56.0L50.2 56.0ZM62.3 57.1L68.2 57.1L65.5 56.0L60.4 56.0ZM74.1 57.1L80.0 57.1L75.6 56.0L70.6 56.0ZM85.9 57.1L91.7 57.1L85.8 56.0L80.7 56.0ZM97.6 57.1L103.5 57.1L96.0 56.0L90.9 56.0ZM-5.7 56.0L-0.6 56.0L5.2 55.1L0.7 55.1ZM4.5 56.0L9.6 56.0L14.2 55.1L9.7 55.1ZM14.7 56.0L19.7 56.0L23.1 55.1L18.6 55.1ZM24.8 56.0L29.9 56.0L32.1 55.1L27.6 55.1ZM35.0 56.0L40.1 56.0L41.0 55.1L36.5 55.1ZM45.2 56.0L50.2 56.0L50.0 55.1L45.5 55.1ZM55.3 56.0L60.4 56.0L58.9 55.1L54.4 55.1ZM65.5 56.0L70.6 56.0L67.9 55.1L63.4 55.1ZM75.6 56.0L80.7 56.0L76.8 55.1L72.4 55.1ZM85.8 56.0L90.9 56.0L85.8 55.1L81.3 55.1ZM96.0 56.0L101.1 56.0L94.7 55.1L90.3 55.1ZM-3.7 55.1L0.7 55.1L5.6 54.4L1.6 54.4ZM5.2 55.1L9.7 55.1L13.6 54.4L9.6 54.4ZM14.2 55.1L18.6 55.1L21.7 54.4L17.6 54.4ZM23.1 55.1L27.6 55.1L29.7 54.4L25.7 54.4ZM32.1 55.1L36.5 55.1L37.7 54.4L33.7 54.4ZM41.0 55.1L45.5 55.1L45.8 54.4L41.7 54.4ZM50.0 55.1L54.4 55.1L53.8 54.4L49.8 54.4ZM58.9 55.1L63.4 55.1L61.8 54.4L57.8 54.4ZM67.9 55.1L72.4 55.1L69.8 54.4L65.8 54.4ZM76.8 55.1L81.3 55.1L77.9 54.4L73.9 54.4ZM85.8 55.1L90.3 55.1L85.9 54.4L81.9 54.4ZM94.7 55.1L99.2 55.1L93.9 54.4L89.9 54.4ZM-2.4 54.4L1.6 54.4L5.6 53.9L2.0 53.9ZM5.6 54.4L9.6 54.4L13.0 53.9L9.3 53.9ZM13.6 54.4L17.6 54.4L20.3 53.9L16.6 53.9ZM21.7 54.4L25.7 54.4L27.6 53.9L24.0 53.9ZM29.7 54.4L33.7 54.4L34.9 53.9L31.3 53.9ZM37.7 54.4L41.7 54.4L42.3 53.9L38.6 53.9ZM45.8 54.4L49.8 54.4L49.6 53.9L45.9 53.9ZM53.8 54.4L57.8 54.4L56.9 53.9L53.3 53.9ZM61.8 54.4L65.8 54.4L64.3 53.9L60.6 53.9ZM69.8 54.4L73.9 54.4L71.6 53.9L67.9 53.9ZM77.9 54.4L81.9 54.4L78.9 53.9L75.3 53.9ZM85.9 54.4L89.9 54.4L86.3 53.9L82.6 53.9ZM93.9 54.4L98.0 54.4L93.6 53.9L89.9 53.9ZM-1.7 53.9L2.0 53.9L5.3 53.5L1.9 53.5ZM5.6 53.9L9.3 53.9L12.1 53.5L8.7 53.5ZM13.0 53.9L16.6 53.9L18.9 53.5L15.5 53.5ZM20.3 53.9L24.0 53.9L25.7 53.5L22.3 53.5ZM27.6 53.9L31.3 53.9L32.5 53.5L29.1 53.5ZM34.9 53.9L38.6 53.9L39.3 53.5L35.9 53.5ZM42.3 53.9L45.9 53.9L46.1 53.5L42.7 53.5ZM49.6 53.9L53.3 53.9L52.9 53.5L49.5 53.5ZM56.9 53.9L60.6 53.9L59.7 53.5L56.3 53.5ZM64.3 53.9L67.9 53.9L66.5 53.5L63.1 53.5ZM71.6 53.9L75.3 53.9L73.3 53.5L69.9 53.5ZM78.9 53.9L82.6 53.9L80.1 53.5L76.7 53.5ZM86.3 53.9L89.9 53.9L86.9 53.5L83.5 53.5ZM93.6 53.9L97.3 53.9L93.7 53.5L90.3 53.5ZM-1.5 53.5L1.9 53.5L4.6 53.2L1.4 53.2ZM5.3 53.5L8.7 53.5L11.0 53.2L7.8 53.2ZM12.1 53.5L15.5 53.5L17.4 53.2L14.2 53.2ZM18.9 53.5L22.3 53.5L23.8 53.2L20.6 53.2ZM25.7 53.5L29.1 53.5L30.2 53.2L27.0 53.2ZM32.5 53.5L35.9 53.5L36.6 53.2L33.4 53.2ZM39.3 53.5L42.7 53.5L43.0 53.2L39.8 53.2ZM46.1 53.5L49.5 53.5L49.4 53.2L46.2 53.2ZM52.9 53.5L56.3 53.5L55.8 53.2L52.6 53.2ZM59.7 53.5L63.1 53.5L62.2 53.2L59.0 53.2ZM66.5 53.5L69.9 53.5L68.6 53.2L65.4 53.2ZM73.3 53.5L76.7 53.5L75.0 53.2L71.8 53.2ZM80.1 53.5L83.5 53.5L81.4 53.2L78.2 53.2ZM86.9 53.5L90.3 53.5L87.8 53.2L84.6 53.2ZM93.7 53.5L97.1 53.5L94.2 53.2L91.0 53.2ZM-1.8 53.2L1.4 53.2L3.7 53.0L0.6 53.0ZM4.6 53.2L7.8 53.2L9.8 53.0L6.7 53.0ZM11.0 53.2L14.2 53.2L15.9 53.0L12.8 53.0ZM17.4 53.2L20.6 53.2L21.9 53.0L18.9 53.0ZM23.8 53.2L27.0 53.2L28.0 53.0L25.0 53.0ZM30.2 53.2L33.4 53.2L34.1 53.0L31.1 53.0ZM36.6 53.2L39.8 53.2L40.2 53.0L37.2 53.0ZM43.0 53.2L46.2 53.2L46.3 53.0L43.3 53.0ZM49.4 53.2L52.6 53.2L52.4 53.0L49.3 53.0ZM55.8 53.2L59.0 53.2L58.5 53.0L55.4 53.0ZM62.2 53.2L65.4 53.2L64.6 53.0L61.5 53.0ZM68.6 53.2L71.8 53.2L70.6 53.0L67.6 53.0ZM75.0 53.2L78.2 53.2L76.7 53.0L73.7 53.0ZM81.4 53.2L84.6 53.2L82.8 53.0L79.8 53.0ZM87.8 53.2L91.0 53.2L88.9 53.0L85.9 53.0ZM94.2 53.2L97.4 53.2L95.0 53.0L92.0 53.0Z" fill="#050505"/>
<rect y="48.5" width="96" height="28.5" fill="url(#hazeC)"/>
<polyline points="28.8,55.2 65,60 78.4,52.4" fill="none" stroke="#c49a68" stroke-width="3.4" stroke-linecap="round" stroke-linejoin="round"/>
<polyline points="28.8,55.2 34.6,65.7" fill="none" stroke="#c49a68" stroke-width="3.2" stroke-linecap="round"/>
<polyline points="34.6,65.7 21.2,67.6 21.2,76.2" fill="none" stroke="#c98a8a" stroke-width="3.2" stroke-linecap="round" stroke-linejoin="round"/>
<polyline points="65,60 61.2,68.6 67,80" fill="none" stroke="#c98a8a" stroke-width="3.2" stroke-linecap="round" stroke-linejoin="round"/>
<path d="M0 0H96L90 7H6Z" fill="url(#bevT)"/>
<rect width="5" height="48.5" fill="url(#bevL)"/>
</symbol>
<symbol id="push1" viewBox="0 0 96 96">
<rect width="96" height="96" fill="#000"/>
<path d="M0 0H87.5L92.3 69.5H0Z" fill="url(#tableG)"/>
<path d="M0 0H87.5L86.5 6H5Z" fill="url(#bevT)"/>
<circle cx="48.4" cy="35.5" r="6.2" fill="#f41414"/>
<circle cx="62.8" cy="48.6" r="4.2" fill="#f6f6f6"/>
<circle cx="2" cy="76" r="8.5" fill="#3a3a3a"/>
<line x1="14" y1="79" x2="50" y2="93" stroke="#4e4e4e" stroke-width="12.5" stroke-linecap="round"/>
<line x1="14" y1="75.5" x2="48" y2="89" stroke="#8a8a8a" stroke-width="3" stroke-opacity="0.8"/>
<circle cx="15.4" cy="72.6" r="9" fill="url(#sphG)"/>
<line x1="52" y1="95" x2="68.3" y2="65.7" stroke="#5a5a5a" stroke-width="8.5" stroke-linecap="round"/>
<line x1="50.5" y1="93" x2="66" y2="65" stroke="#9a9a9a" stroke-width="2.5" stroke-opacity="0.8"/>
<line x1="58" y1="58" x2="82.7" y2="64.3" stroke="#6a6a6a" stroke-width="3.4" stroke-linecap="round"/>
<line x1="58.5" y1="58.5" x2="59.5" y2="55" stroke="#4a4a4a" stroke-width="3.2" stroke-linecap="round"/>
<line x1="82" y1="64" x2="82.5" y2="60" stroke="#4a4a4a" stroke-width="3.2" stroke-linecap="round"/>
</symbol>
<symbol id="push2" viewBox="0 0 96 96">
<rect width="96" height="96" fill="#000"/>
<path d="M0 0H87.2L92.3 69H0Z" fill="url(#tableG)"/>
<path d="M0 0H87.2L86 6H5Z" fill="url(#bevT)"/>
<circle cx="48.7" cy="35.2" r="6" fill="#f41414"/>
<circle cx="61.5" cy="48.8" r="4" fill="#f6f6f6"/>
<line x1="-4" y1="74" x2="52.8" y2="89" stroke="#6e4a45" stroke-width="14" stroke-linecap="round"/>
<line x1="-4" y1="70.5" x2="50" y2="85" stroke="#b08a84" stroke-width="3.5" stroke-opacity="0.7"/>
<line x1="12" y1="70" x2="15" y2="82" stroke="#3e2a27" stroke-width="1.2" stroke-opacity="0.7"/>
<line x1="52.8" y1="89" x2="61" y2="61" stroke="#8e6660" stroke-width="9" stroke-linecap="round"/>
<line x1="51" y1="86" x2="58.5" y2="61" stroke="#c09a94" stroke-width="2.5" stroke-opacity="0.7"/>
<line x1="59" y1="60" x2="59.5" y2="48" stroke="#94706a" stroke-width="6" stroke-linecap="round"/>
<line x1="68" y1="57" x2="68" y2="45" stroke="#94706a" stroke-width="5.5" stroke-linecap="round"/>
<line x1="67" y1="55" x2="67" y2="46" stroke="#c8a29c" stroke-width="1.6" stroke-opacity="0.7"/>
</symbol>
<symbol id="strk1" viewBox="0 0 96 96">
<rect width="96" height="96" fill="#000"/>
<path d="M0 0H83.3L91.3 81.5H0Z" fill="url(#tableG)"/>
<path d="M0 0H84.1L83.5 6H5Z" fill="url(#bevT)"/>
<circle cx="24.3" cy="22.8" r="6.2" fill="#fafafa"/>
<path d="M18 21.5 A6.3 6.3 0 0 1 30.5 21.5" fill="none" stroke="#222" stroke-width="1.4"/>
<circle cx="51.1" cy="55.8" r="3.5" fill="url(#ballG)"/>
<line x1="12" y1="94" x2="94" y2="88" stroke="#666" stroke-width="7"/>
<line x1="12" y1="92" x2="92" y2="86" stroke="#a5a5a5" stroke-width="2.2" stroke-opacity="0.8"/>
<circle cx="10.5" cy="88" r="9" fill="url(#sphG)"/>
<path d="M77.5 74.5 L93 82 L91.5 90 L78.5 84Z" fill="#4a4a4a"/>
<line x1="78" y1="75" x2="92.5" y2="82" stroke="#8a8a8a" stroke-width="1.2"/>
</symbol>
<symbol id="strk2" viewBox="0 0 96 96">
<rect width="96" height="96" fill="#000"/>
<path d="M0 0H84.2L93.3 81.2H0Z" fill="url(#tableG)"/>
<path d="M0 0H84.2L83.5 6H5Z" fill="url(#bevT)"/>
<circle cx="24" cy="22.5" r="6" fill="#fafafa"/>
<path d="M18 20.8 A6.1 6.1 0 0 1 30 20.8" fill="none" stroke="#222" stroke-width="1.4"/>
<circle cx="50.8" cy="55.9" r="3.5" fill="url(#ballG)"/>
<rect x="42.8" y="66.1" width="24" height="12" fill="#5a5a5a" transform="rotate(35 54.8 72.1)"/>
<line x1="52.8" y1="74" x2="52.8" y2="98" stroke="#b4857c" stroke-width="9.5" stroke-linecap="round"/>
<line x1="51" y1="76" x2="51" y2="96" stroke="#e0b8b0" stroke-width="2.5" stroke-opacity="0.6"/>
<circle cx="53.5" cy="74" r="2" fill="#c98e86"/>
<path d="M0 84 Q10 81 20 86 L22 96 H0Z" fill="#4a302c"/>
</symbol>
<clipPath id="c1"><rect x="154" y="113" width="511.5" height="232.5"/></clipPath><clipPath id="c2"><rect x="836.5" y="114" width="511.0" height="231.5"/></clipPath><clipPath id="c3"><rect x="153.5" y="500.5" width="511.5" height="232.0"/></clipPath><clipPath id="c4"><rect x="836.5" y="501" width="512.5" height="230"/></clipPath>
</defs>
<rect width="1380" height="839" fill="#fff"/>
<rect x="154" y="113" width="511.5" height="232.5" fill="#EAEAF2"/>
<line x1="203.6" y1="113" x2="203.6" y2="345.5" stroke="#f8f8fb" stroke-width="1.2"/>
<line x1="254.9" y1="113" x2="254.9" y2="345.5" stroke="#f8f8fb" stroke-width="1.2"/>
<line x1="306.3" y1="113" x2="306.3" y2="345.5" stroke="#f8f8fb" stroke-width="1.2"/>
<line x1="357.6" y1="113" x2="357.6" y2="345.5" stroke="#f8f8fb" stroke-width="1.2"/>
<line x1="408.9" y1="113" x2="408.9" y2="345.5" stroke="#f8f8fb" stroke-width="1.2"/>
<line x1="460.2" y1="113" x2="460.2" y2="345.5" stroke="#f8f8fb" stroke-width="1.2"/>
<line x1="511.5" y1="113" x2="511.5" y2="345.5" stroke="#f8f8fb" stroke-width="1.2"/>
<line x1="562.9" y1="113" x2="562.9" y2="345.5" stroke="#f8f8fb" stroke-width="1.2"/>
<line x1="614.2" y1="113" x2="614.2" y2="345.5" stroke="#f8f8fb" stroke-width="1.2"/>
<line x1="665.5" y1="113" x2="665.5" y2="345.5" stroke="#f8f8fb" stroke-width="1.2"/>
<line x1="154" y1="340.6" x2="665.5" y2="340.6" stroke="#f8f8fb" stroke-width="1.2"/>
<line x1="154" y1="317.7" x2="665.5" y2="317.7" stroke="#f8f8fb" stroke-width="1.2"/>
<line x1="154" y1="294.9" x2="665.5" y2="294.9" stroke="#f8f8fb" stroke-width="1.2"/>
<line x1="154" y1="272.0" x2="665.5" y2="272.0" stroke="#f8f8fb" stroke-width="1.2"/>
<line x1="154" y1="249.2" x2="665.5" y2="249.2" stroke="#f8f8fb" stroke-width="1.2"/>
<line x1="154" y1="226.3" x2="665.5" y2="226.3" stroke="#f8f8fb" stroke-width="1.2"/>
<line x1="154" y1="203.5" x2="665.5" y2="203.5" stroke="#f8f8fb" stroke-width="1.2"/>
<line x1="154" y1="180.6" x2="665.5" y2="180.6" stroke="#f8f8fb" stroke-width="1.2"/>
<line x1="154" y1="157.8" x2="665.5" y2="157.8" stroke="#f8f8fb" stroke-width="1.2"/>
<line x1="154" y1="134.9" x2="665.5" y2="134.9" stroke="#f8f8fb" stroke-width="1.2"/>
<line x1="154" y1="112.0" x2="665.5" y2="112.0" stroke="#f8f8fb" stroke-width="1.2"/>
<text x="203.6" y="361.2" text-anchor="middle" class="tk">30</text>
<text x="254.9" y="361.2" text-anchor="middle" class="tk">60</text>
<text x="306.3" y="361.2" text-anchor="middle" class="tk">90</text>
<text x="357.6" y="361.2" text-anchor="middle" class="tk">120</text>
<text x="408.9" y="361.2" text-anchor="middle" class="tk">150</text>
<text x="460.2" y="361.2" text-anchor="middle" class="tk">180</text>
<text x="511.5" y="361.2" text-anchor="middle" class="tk">210</text>
<text x="562.9" y="361.2" text-anchor="middle" class="tk">240</text>
<text x="614.2" y="361.2" text-anchor="middle" class="tk">270</text>
<text x="665.5" y="361.2" text-anchor="middle" class="tk">300</text>
<text x="146.7" y="344.2" text-anchor="end" class="tk">0.0</text>
<text x="146.7" y="321.3" text-anchor="end" class="tk">0.1</text>
<text x="146.7" y="298.5" text-anchor="end" class="tk">0.2</text>
<text x="146.7" y="275.6" text-anchor="end" class="tk">0.3</text>
<text x="146.7" y="252.8" text-anchor="end" class="tk">0.4</text>
<text x="146.7" y="229.9" text-anchor="end" class="tk">0.5</text>
<text x="146.7" y="207.1" text-anchor="end" class="tk">0.6</text>
<text x="146.7" y="184.2" text-anchor="end" class="tk">0.7</text>
<text x="146.7" y="161.4" text-anchor="end" class="tk">0.8</text>
<text x="146.7" y="138.5" text-anchor="end" class="tk">0.9</text>
<text x="146.7" y="115.6" text-anchor="end" class="tk">1.0</text>
<line x1="154.0" y1="107.5" x2="154.0" y2="112.0" stroke="#333" stroke-width="1"/>
<line x1="154.0" y1="345.7" x2="154.0" y2="350.2" stroke="#333" stroke-width="1"/>
<line x1="665.5" y1="112.0" x2="670.0" y2="112.0" stroke="#333" stroke-width="1"/>
<line x1="149.5" y1="112.0" x2="154.0" y2="112.0" stroke="#333" stroke-width="1"/>
<line x1="256.3" y1="107.5" x2="256.3" y2="112.0" stroke="#333" stroke-width="1"/>
<line x1="256.3" y1="345.7" x2="256.3" y2="350.2" stroke="#333" stroke-width="1"/>
<line x1="665.5" y1="158.7" x2="670.0" y2="158.7" stroke="#333" stroke-width="1"/>
<line x1="149.5" y1="158.7" x2="154.0" y2="158.7" stroke="#333" stroke-width="1"/>
<line x1="358.6" y1="107.5" x2="358.6" y2="112.0" stroke="#333" stroke-width="1"/>
<line x1="358.6" y1="345.7" x2="358.6" y2="350.2" stroke="#333" stroke-width="1"/>
<line x1="665.5" y1="205.5" x2="670.0" y2="205.5" stroke="#333" stroke-width="1"/>
<line x1="149.5" y1="205.5" x2="154.0" y2="205.5" stroke="#333" stroke-width="1"/>
<line x1="460.9" y1="107.5" x2="460.9" y2="112.0" stroke="#333" stroke-width="1"/>
<line x1="460.9" y1="345.7" x2="460.9" y2="350.2" stroke="#333" stroke-width="1"/>
<line x1="665.5" y1="252.2" x2="670.0" y2="252.2" stroke="#333" stroke-width="1"/>
<line x1="149.5" y1="252.2" x2="154.0" y2="252.2" stroke="#333" stroke-width="1"/>
<line x1="563.2" y1="107.5" x2="563.2" y2="112.0" stroke="#333" stroke-width="1"/>
<line x1="563.2" y1="345.7" x2="563.2" y2="350.2" stroke="#333" stroke-width="1"/>
<line x1="665.5" y1="299.0" x2="670.0" y2="299.0" stroke="#333" stroke-width="1"/>
<line x1="149.5" y1="299.0" x2="154.0" y2="299.0" stroke="#333" stroke-width="1"/>
<line x1="665.5" y1="107.5" x2="665.5" y2="112.0" stroke="#333" stroke-width="1"/>
<line x1="665.5" y1="345.7" x2="665.5" y2="350.2" stroke="#333" stroke-width="1"/>
<line x1="665.5" y1="345.7" x2="670.0" y2="345.7" stroke="#333" stroke-width="1"/>
<line x1="149.5" y1="345.7" x2="154.0" y2="345.7" stroke="#333" stroke-width="1"/>
<text transform="translate(126,229.2) rotate(-90)" text-anchor="middle" class="al" textLength="124" lengthAdjust="spacingAndGlyphs">Scaled cumulative reward</text>
<text x="410" y="373" text-anchor="middle" class="al">Epoch</text>
<rect x="836.5" y="114" width="511" height="231.5" fill="#EAEAF2"/>
<line x1="884.5" y1="114" x2="884.5" y2="345.5" stroke="#f8f8fb" stroke-width="1.2"/>
<line x1="936.0" y1="114" x2="936.0" y2="345.5" stroke="#f8f8fb" stroke-width="1.2"/>
<line x1="987.4" y1="114" x2="987.4" y2="345.5" stroke="#f8f8fb" stroke-width="1.2"/>
<line x1="1038.8" y1="114" x2="1038.8" y2="345.5" stroke="#f8f8fb" stroke-width="1.2"/>
<line x1="1090.3" y1="114" x2="1090.3" y2="345.5" stroke="#f8f8fb" stroke-width="1.2"/>
<line x1="1141.7" y1="114" x2="1141.7" y2="345.5" stroke="#f8f8fb" stroke-width="1.2"/>
<line x1="1193.2" y1="114" x2="1193.2" y2="345.5" stroke="#f8f8fb" stroke-width="1.2"/>
<line x1="1244.6" y1="114" x2="1244.6" y2="345.5" stroke="#f8f8fb" stroke-width="1.2"/>
<line x1="1296.1" y1="114" x2="1296.1" y2="345.5" stroke="#f8f8fb" stroke-width="1.2"/>
<line x1="1347.5" y1="114" x2="1347.5" y2="345.5" stroke="#f8f8fb" stroke-width="1.2"/>
<line x1="836.5" y1="336.8" x2="1347.5" y2="336.8" stroke="#f8f8fb" stroke-width="1.2"/>
<line x1="836.5" y1="271.1" x2="1347.5" y2="271.1" stroke="#f8f8fb" stroke-width="1.2"/>
<line x1="836.5" y1="205.5" x2="1347.5" y2="205.5" stroke="#f8f8fb" stroke-width="1.2"/>
<line x1="836.5" y1="139.8" x2="1347.5" y2="139.8" stroke="#f8f8fb" stroke-width="1.2"/>
<text x="884.5" y="361.2" text-anchor="middle" class="tk">15</text>
<text x="936.0" y="361.2" text-anchor="middle" class="tk">30</text>
<text x="987.4" y="361.2" text-anchor="middle" class="tk">45</text>
<text x="1038.8" y="361.2" text-anchor="middle" class="tk">60</text>
<text x="1090.3" y="361.2" text-anchor="middle" class="tk">75</text>
<text x="1141.7" y="361.2" text-anchor="middle" class="tk">90</text>
<text x="1193.2" y="361.2" text-anchor="middle" class="tk">105</text>
<text x="1244.6" y="361.2" text-anchor="middle" class="tk">120</text>
<text x="1296.1" y="361.2" text-anchor="middle" class="tk">135</text>
<text x="1347.5" y="361.2" text-anchor="middle" class="tk">150</text>
<text x="829.2" y="340.4" text-anchor="end" class="tk">0.6</text>
<text x="829.2" y="274.7" text-anchor="end" class="tk">0.7</text>
<text x="829.2" y="209.1" text-anchor="end" class="tk">0.8</text>
<text x="829.2" y="143.4" text-anchor="end" class="tk">0.9</text>
<line x1="836.5" y1="109.0" x2="836.5" y2="113.5" stroke="#333" stroke-width="1"/>
<line x1="836.5" y1="348.0" x2="836.5" y2="352.5" stroke="#333" stroke-width="1"/>
<line x1="1347.5" y1="113.5" x2="1352.0" y2="113.5" stroke="#333" stroke-width="1"/>
<line x1="832.0" y1="113.5" x2="836.5" y2="113.5" stroke="#333" stroke-width="1"/>
<line x1="938.7" y1="109.0" x2="938.7" y2="113.5" stroke="#333" stroke-width="1"/>
<line x1="938.7" y1="348.0" x2="938.7" y2="352.5" stroke="#333" stroke-width="1"/>
<line x1="1347.5" y1="160.4" x2="1352.0" y2="160.4" stroke="#333" stroke-width="1"/>
<line x1="832.0" y1="160.4" x2="836.5" y2="160.4" stroke="#333" stroke-width="1"/>
<line x1="1040.9" y1="109.0" x2="1040.9" y2="113.5" stroke="#333" stroke-width="1"/>
<line x1="1040.9" y1="348.0" x2="1040.9" y2="352.5" stroke="#333" stroke-width="1"/>
<line x1="1347.5" y1="207.3" x2="1352.0" y2="207.3" stroke="#333" stroke-width="1"/>
<line x1="832.0" y1="207.3" x2="836.5" y2="207.3" stroke="#333" stroke-width="1"/>
<line x1="1143.1" y1="109.0" x2="1143.1" y2="113.5" stroke="#333" stroke-width="1"/>
<line x1="1143.1" y1="348.0" x2="1143.1" y2="352.5" stroke="#333" stroke-width="1"/>
<line x1="1347.5" y1="254.2" x2="1352.0" y2="254.2" stroke="#333" stroke-width="1"/>
<line x1="832.0" y1="254.2" x2="836.5" y2="254.2" stroke="#333" stroke-width="1"/>
<line x1="1245.3" y1="109.0" x2="1245.3" y2="113.5" stroke="#333" stroke-width="1"/>
<line x1="1245.3" y1="348.0" x2="1245.3" y2="352.5" stroke="#333" stroke-width="1"/>
<line x1="1347.5" y1="301.1" x2="1352.0" y2="301.1" stroke="#333" stroke-width="1"/>
<line x1="832.0" y1="301.1" x2="836.5" y2="301.1" stroke="#333" stroke-width="1"/>
<line x1="1347.5" y1="109.0" x2="1347.5" y2="113.5" stroke="#333" stroke-width="1"/>
<line x1="1347.5" y1="348.0" x2="1347.5" y2="352.5" stroke="#333" stroke-width="1"/>
<line x1="1347.5" y1="348.0" x2="1352.0" y2="348.0" stroke="#333" stroke-width="1"/>
<line x1="832.0" y1="348.0" x2="836.5" y2="348.0" stroke="#333" stroke-width="1"/>
<text transform="translate(809,229.8) rotate(-90)" text-anchor="middle" class="al" textLength="124" lengthAdjust="spacingAndGlyphs">Scaled cumulative reward</text>
<text x="1092" y="374" text-anchor="middle" class="al">Epoch</text>
<rect x="153.5" y="500.5" width="511.5" height="232" fill="#EAEAF2"/>
<line x1="203.5" y1="500.5" x2="203.5" y2="732.5" stroke="#f8f8fb" stroke-width="1.2"/>
<line x1="254.8" y1="500.5" x2="254.8" y2="732.5" stroke="#f8f8fb" stroke-width="1.2"/>
<line x1="306.1" y1="500.5" x2="306.1" y2="732.5" stroke="#f8f8fb" stroke-width="1.2"/>
<line x1="357.3" y1="500.5" x2="357.3" y2="732.5" stroke="#f8f8fb" stroke-width="1.2"/>
<line x1="408.6" y1="500.5" x2="408.6" y2="732.5" stroke="#f8f8fb" stroke-width="1.2"/>
<line x1="459.9" y1="500.5" x2="459.9" y2="732.5" stroke="#f8f8fb" stroke-width="1.2"/>
<line x1="511.2" y1="500.5" x2="511.2" y2="732.5" stroke="#f8f8fb" stroke-width="1.2"/>
<line x1="562.4" y1="500.5" x2="562.4" y2="732.5" stroke="#f8f8fb" stroke-width="1.2"/>
<line x1="613.7" y1="500.5" x2="613.7" y2="732.5" stroke="#f8f8fb" stroke-width="1.2"/>
<line x1="665.0" y1="500.5" x2="665.0" y2="732.5" stroke="#f8f8fb" stroke-width="1.2"/>
<line x1="153.5" y1="723.0" x2="665" y2="723.0" stroke="#f8f8fb" stroke-width="1.2"/>
<line x1="153.5" y1="700.8" x2="665" y2="700.8" stroke="#f8f8fb" stroke-width="1.2"/>
<line x1="153.5" y1="678.6" x2="665" y2="678.6" stroke="#f8f8fb" stroke-width="1.2"/>
<line x1="153.5" y1="656.3" x2="665" y2="656.3" stroke="#f8f8fb" stroke-width="1.2"/>
<line x1="153.5" y1="634.1" x2="665" y2="634.1" stroke="#f8f8fb" stroke-width="1.2"/>
<line x1="153.5" y1="611.9" x2="665" y2="611.9" stroke="#f8f8fb" stroke-width="1.2"/>
<line x1="153.5" y1="589.7" x2="665" y2="589.7" stroke="#f8f8fb" stroke-width="1.2"/>
<line x1="153.5" y1="567.4" x2="665" y2="567.4" stroke="#f8f8fb" stroke-width="1.2"/>
<line x1="153.5" y1="545.2" x2="665" y2="545.2" stroke="#f8f8fb" stroke-width="1.2"/>
<line x1="153.5" y1="523.0" x2="665" y2="523.0" stroke="#f8f8fb" stroke-width="1.2"/>
<line x1="153.5" y1="500.8" x2="665" y2="500.8" stroke="#f8f8fb" stroke-width="1.2"/>
<text x="203.5" y="748.2" text-anchor="middle" class="tk">40</text>
<text x="254.8" y="748.2" text-anchor="middle" class="tk">80</text>
<text x="306.1" y="748.2" text-anchor="middle" class="tk">120</text>
<text x="357.3" y="748.2" text-anchor="middle" class="tk">160</text>
<text x="408.6" y="748.2" text-anchor="middle" class="tk">200</text>
<text x="459.9" y="748.2" text-anchor="middle" class="tk">240</text>
<text x="511.2" y="748.2" text-anchor="middle" class="tk">280</text>
<text x="562.4" y="748.2" text-anchor="middle" class="tk">320</text>
<text x="613.7" y="748.2" text-anchor="middle" class="tk">360</text>
<text x="665.0" y="748.2" text-anchor="middle" class="tk">400</text>
<text x="146.2" y="726.6" text-anchor="end" class="tk">0.0</text>
<text x="146.2" y="704.4" text-anchor="end" class="tk">0.1</text>
<text x="146.2" y="682.2" text-anchor="end" class="tk">0.2</text>
<text x="146.2" y="659.9" text-anchor="end" class="tk">0.3</text>
<text x="146.2" y="637.7" text-anchor="end" class="tk">0.4</text>
<text x="146.2" y="615.5" text-anchor="end" class="tk">0.5</text>
<text x="146.2" y="593.3" text-anchor="end" class="tk">0.6</text>
<text x="146.2" y="571.0" text-anchor="end" class="tk">0.7</text>
<text x="146.2" y="548.8" text-anchor="end" class="tk">0.8</text>
<text x="146.2" y="526.6" text-anchor="end" class="tk">0.9</text>
<text x="146.2" y="504.4" text-anchor="end" class="tk">1.0</text>
<line x1="153.5" y1="495.5" x2="153.5" y2="500.0" stroke="#333" stroke-width="1"/>
<line x1="153.5" y1="732.5" x2="153.5" y2="737.0" stroke="#333" stroke-width="1"/>
<line x1="665.0" y1="500.0" x2="669.5" y2="500.0" stroke="#333" stroke-width="1"/>
<line x1="149.0" y1="500.0" x2="153.5" y2="500.0" stroke="#333" stroke-width="1"/>
<line x1="255.8" y1="495.5" x2="255.8" y2="500.0" stroke="#333" stroke-width="1"/>
<line x1="255.8" y1="732.5" x2="255.8" y2="737.0" stroke="#333" stroke-width="1"/>
<line x1="665.0" y1="546.5" x2="669.5" y2="546.5" stroke="#333" stroke-width="1"/>
<line x1="149.0" y1="546.5" x2="153.5" y2="546.5" stroke="#333" stroke-width="1"/>
<line x1="358.1" y1="495.5" x2="358.1" y2="500.0" stroke="#333" stroke-width="1"/>
<line x1="358.1" y1="732.5" x2="358.1" y2="737.0" stroke="#333" stroke-width="1"/>
<line x1="665.0" y1="593.0" x2="669.5" y2="593.0" stroke="#333" stroke-width="1"/>
<line x1="149.0" y1="593.0" x2="153.5" y2="593.0" stroke="#333" stroke-width="1"/>
<line x1="460.4" y1="495.5" x2="460.4" y2="500.0" stroke="#333" stroke-width="1"/>
<line x1="460.4" y1="732.5" x2="460.4" y2="737.0" stroke="#333" stroke-width="1"/>
<line x1="665.0" y1="639.5" x2="669.5" y2="639.5" stroke="#333" stroke-width="1"/>
<line x1="149.0" y1="639.5" x2="153.5" y2="639.5" stroke="#333" stroke-width="1"/>
<line x1="562.7" y1="495.5" x2="562.7" y2="500.0" stroke="#333" stroke-width="1"/>
<line x1="562.7" y1="732.5" x2="562.7" y2="737.0" stroke="#333" stroke-width="1"/>
<line x1="665.0" y1="686.0" x2="669.5" y2="686.0" stroke="#333" stroke-width="1"/>
<line x1="149.0" y1="686.0" x2="153.5" y2="686.0" stroke="#333" stroke-width="1"/>
<line x1="665.0" y1="495.5" x2="665.0" y2="500.0" stroke="#333" stroke-width="1"/>
<line x1="665.0" y1="732.5" x2="665.0" y2="737.0" stroke="#333" stroke-width="1"/>
<line x1="665.0" y1="732.5" x2="669.5" y2="732.5" stroke="#333" stroke-width="1"/>
<line x1="149.0" y1="732.5" x2="153.5" y2="732.5" stroke="#333" stroke-width="1"/>
<text transform="translate(126,616.5) rotate(-90)" text-anchor="middle" class="al" textLength="124" lengthAdjust="spacingAndGlyphs">Scaled cumulative reward</text>
<text x="410" y="761" text-anchor="middle" class="al">Epoch</text>
<rect x="836.5" y="501" width="512.5" height="230" fill="#EAEAF2"/>
<line x1="884.7" y1="501" x2="884.7" y2="731" stroke="#f8f8fb" stroke-width="1.2"/>
<line x1="936.2" y1="501" x2="936.2" y2="731" stroke="#f8f8fb" stroke-width="1.2"/>
<line x1="987.8" y1="501" x2="987.8" y2="731" stroke="#f8f8fb" stroke-width="1.2"/>
<line x1="1039.4" y1="501" x2="1039.4" y2="731" stroke="#f8f8fb" stroke-width="1.2"/>
<line x1="1091.0" y1="501" x2="1091.0" y2="731" stroke="#f8f8fb" stroke-width="1.2"/>
<line x1="1142.6" y1="501" x2="1142.6" y2="731" stroke="#f8f8fb" stroke-width="1.2"/>
<line x1="1194.2" y1="501" x2="1194.2" y2="731" stroke="#f8f8fb" stroke-width="1.2"/>
<line x1="1245.8" y1="501" x2="1245.8" y2="731" stroke="#f8f8fb" stroke-width="1.2"/>
<line x1="1297.4" y1="501" x2="1297.4" y2="731" stroke="#f8f8fb" stroke-width="1.2"/>
<line x1="1349.0" y1="501" x2="1349.0" y2="731" stroke="#f8f8fb" stroke-width="1.2"/>
<line x1="836.5" y1="724.0" x2="1349" y2="724.0" stroke="#f8f8fb" stroke-width="1.2"/>
<line x1="836.5" y1="681.4" x2="1349" y2="681.4" stroke="#f8f8fb" stroke-width="1.2"/>
<line x1="836.5" y1="638.8" x2="1349" y2="638.8" stroke="#f8f8fb" stroke-width="1.2"/>
<line x1="836.5" y1="596.2" x2="1349" y2="596.2" stroke="#f8f8fb" stroke-width="1.2"/>
<line x1="836.5" y1="553.6" x2="1349" y2="553.6" stroke="#f8f8fb" stroke-width="1.2"/>
<line x1="836.5" y1="511.0" x2="1349" y2="511.0" stroke="#f8f8fb" stroke-width="1.2"/>
<text x="884.7" y="746.7" text-anchor="middle" class="tk">15</text>
<text x="936.2" y="746.7" text-anchor="middle" class="tk">30</text>
<text x="987.8" y="746.7" text-anchor="middle" class="tk">45</text>
<text x="1039.4" y="746.7" text-anchor="middle" class="tk">60</text>
<text x="1091.0" y="746.7" text-anchor="middle" class="tk">75</text>
<text x="1142.6" y="746.7" text-anchor="middle" class="tk">90</text>
<text x="1194.2" y="746.7" text-anchor="middle" class="tk">105</text>
<text x="1245.8" y="746.7" text-anchor="middle" class="tk">120</text>
<text x="1297.4" y="746.7" text-anchor="middle" class="tk">135</text>
<text x="1349.0" y="746.7" text-anchor="middle" class="tk">150</text>
<text x="829.2" y="727.6" text-anchor="end" class="tk">0.45</text>
<text x="829.2" y="685.0" text-anchor="end" class="tk">0.55</text>
<text x="829.2" y="642.4" text-anchor="end" class="tk">0.65</text>
<text x="829.2" y="599.8" text-anchor="end" class="tk">0.75</text>
<text x="829.2" y="557.2" text-anchor="end" class="tk">0.85</text>
<text x="829.2" y="514.6" text-anchor="end" class="tk">0.95</text>
<line x1="836.5" y1="494.5" x2="836.5" y2="499.0" stroke="#333" stroke-width="1"/>
<line x1="836.5" y1="732.5" x2="836.5" y2="737.0" stroke="#333" stroke-width="1"/>
<line x1="1349.0" y1="499.0" x2="1353.5" y2="499.0" stroke="#333" stroke-width="1"/>
<line x1="832.0" y1="499.0" x2="836.5" y2="499.0" stroke="#333" stroke-width="1"/>
<line x1="939.0" y1="494.5" x2="939.0" y2="499.0" stroke="#333" stroke-width="1"/>
<line x1="939.0" y1="732.5" x2="939.0" y2="737.0" stroke="#333" stroke-width="1"/>
<line x1="1349.0" y1="545.7" x2="1353.5" y2="545.7" stroke="#333" stroke-width="1"/>
<line x1="832.0" y1="545.7" x2="836.5" y2="545.7" stroke="#333" stroke-width="1"/>
<line x1="1041.5" y1="494.5" x2="1041.5" y2="499.0" stroke="#333" stroke-width="1"/>
<line x1="1041.5" y1="732.5" x2="1041.5" y2="737.0" stroke="#333" stroke-width="1"/>
<line x1="1349.0" y1="592.4" x2="1353.5" y2="592.4" stroke="#333" stroke-width="1"/>
<line x1="832.0" y1="592.4" x2="836.5" y2="592.4" stroke="#333" stroke-width="1"/>
<line x1="1144.0" y1="494.5" x2="1144.0" y2="499.0" stroke="#333" stroke-width="1"/>
<line x1="1144.0" y1="732.5" x2="1144.0" y2="737.0" stroke="#333" stroke-width="1"/>
<line x1="1349.0" y1="639.1" x2="1353.5" y2="639.1" stroke="#333" stroke-width="1"/>
<line x1="832.0" y1="639.1" x2="836.5" y2="639.1" stroke="#333" stroke-width="1"/>
<line x1="1246.5" y1="494.5" x2="1246.5" y2="499.0" stroke="#333" stroke-width="1"/>
<line x1="1246.5" y1="732.5" x2="1246.5" y2="737.0" stroke="#333" stroke-width="1"/>
<line x1="1349.0" y1="685.8" x2="1353.5" y2="685.8" stroke="#333" stroke-width="1"/>
<line x1="832.0" y1="685.8" x2="836.5" y2="685.8" stroke="#333" stroke-width="1"/>
<line x1="1349.0" y1="494.5" x2="1349.0" y2="499.0" stroke="#333" stroke-width="1"/>
<line x1="1349.0" y1="732.5" x2="1349.0" y2="737.0" stroke="#333" stroke-width="1"/>
<line x1="1349.0" y1="732.5" x2="1353.5" y2="732.5" stroke="#333" stroke-width="1"/>
<line x1="832.0" y1="732.5" x2="836.5" y2="732.5" stroke="#333" stroke-width="1"/>
<text transform="translate(809,616.0) rotate(-90)" text-anchor="middle" class="al" textLength="124" lengthAdjust="spacingAndGlyphs">Scaled cumulative reward</text>
<text x="1092" y="761" text-anchor="middle" class="al">Epoch</text>
<polygon points="154.0,329.2 157.4,265.2 160.8,237.7 169.4,233.1 179.7,229.6 183.1,226.1 186.5,205.5 189.9,202.1 195.1,199.8 210.5,198.5 213.9,196.2 229.3,195.0 232.7,192.7 254.9,191.4 258.4,189.0 296.0,187.7 299.4,185.3 314.8,182.7 323.4,180.6 328.5,174.9 333.6,172.6 337.0,161.1 340.5,156.6 349.0,155.8 359.3,155.4 450.0,154.8 456.8,152.7 463.6,149.3 494.4,149.2 497.9,146.9 504.7,144.6 535.5,143.3 538.9,142.2 571.4,140.9 576.5,138.6 597.1,137.9 603.9,136.2 607.3,134.0 610.8,132.8 665.5,132.6 665.5,150.9 610.8,150.7 607.3,151.8 603.9,154.1 597.1,155.7 576.5,156.3 571.4,158.6 538.9,159.6 535.5,160.7 504.7,161.8 497.9,164.1 494.4,166.3 463.6,166.2 456.8,169.6 450.0,171.7 359.3,171.6 349.0,172.0 340.5,172.7 337.0,177.2 333.6,188.6 328.5,190.9 323.4,196.6 314.8,198.6 299.4,201.0 296.0,203.3 258.4,204.2 254.9,206.4 232.7,207.4 229.3,209.7 213.9,210.7 210.5,213.0 195.1,214.0 189.9,216.3 186.5,219.7 183.1,240.2 179.7,243.6 169.4,247.0 160.8,251.5 157.4,278.9 154.0,342.9" fill="#937860" fill-opacity="0.2" clip-path="url(#c1)"/>
<polyline points="154.0,336.0 157.4,272.0 160.8,244.6 169.4,240.0 179.7,236.6 183.1,233.2 186.5,212.6 189.9,209.2 195.1,206.9 210.5,205.8 213.9,203.5 229.3,202.3 232.7,200.0 254.9,198.9 258.4,196.6 296.0,195.5 299.4,193.2 314.8,190.7 323.4,188.6 328.5,182.9 333.6,180.6 337.0,169.2 340.5,164.6 349.0,163.9 359.3,163.5 450.0,163.2 456.8,161.2 463.6,157.8 494.4,157.8 497.9,155.5 504.7,153.2 535.5,152.0 538.9,150.9 571.4,149.8 576.5,147.5 597.1,146.8 603.9,145.2 607.3,142.9 610.8,141.8 665.5,141.8" fill="none" stroke="#937860" stroke-width="1.4" stroke-linejoin="round" clip-path="url(#c1)"/>
<polygon points="154.0,333.7 154.6,335.2 156.2,335.3 155.0,336.4 155.4,337.9 154.0,337.1 152.6,337.9 153.0,336.4 151.8,335.3 153.4,335.2" fill="#937860"/>
<polygon points="179.7,234.3 180.3,235.8 181.9,235.9 180.7,236.9 181.0,238.5 179.7,237.7 178.3,238.5 178.7,236.9 177.4,235.9 179.0,235.8" fill="#937860"/>
<polygon points="205.3,203.8 205.9,205.3 207.5,205.4 206.3,206.5 206.7,208.0 205.3,207.2 203.9,208.0 204.3,206.5 203.1,205.4 204.7,205.3" fill="#937860"/>
<polygon points="231.0,198.8 231.6,200.3 233.2,200.5 232.0,201.5 232.4,203.1 231.0,202.2 229.6,203.1 230.0,201.5 228.8,200.5 230.4,200.3" fill="#937860"/>
<polygon points="256.6,195.4 257.3,196.9 258.9,197.0 257.6,198.1 258.0,199.6 256.6,198.8 255.3,199.6 255.6,198.1 254.4,197.0 256.0,196.9" fill="#937860"/>
<polygon points="282.3,193.5 282.9,195.0 284.5,195.2 283.3,196.2 283.7,197.8 282.3,196.9 280.9,197.8 281.3,196.2 280.1,195.2 281.7,195.0" fill="#937860"/>
<polygon points="308.0,189.4 308.6,190.9 310.2,191.1 309.0,192.1 309.3,193.7 308.0,192.8 306.6,193.7 307.0,192.1 305.7,191.1 307.3,190.9" fill="#937860"/>
<polygon points="333.6,178.3 334.2,179.8 335.8,179.9 334.6,180.9 335.0,182.5 333.6,181.7 332.2,182.5 332.6,180.9 331.4,179.9 333.0,179.8" fill="#937860"/>
<polygon points="359.3,161.1 359.9,162.6 361.5,162.7 360.3,163.8 360.7,165.4 359.3,164.5 357.9,165.4 358.3,163.8 357.1,162.7 358.7,162.6" fill="#937860"/>
<polygon points="384.9,161.1 385.6,162.6 387.2,162.7 385.9,163.7 386.3,165.3 384.9,164.5 383.6,165.3 383.9,163.7 382.7,162.7 384.3,162.6" fill="#937860"/>
<polygon points="410.6,161.0 411.2,162.5 412.8,162.6 411.6,163.7 412.0,165.2 410.6,164.4 409.2,165.2 409.6,163.7 408.4,162.6 410.0,162.5" fill="#937860"/>
<polygon points="436.3,160.9 436.9,162.4 438.5,162.6 437.3,163.6 437.6,165.2 436.3,164.3 434.9,165.2 435.3,163.6 434.0,162.6 435.6,162.4" fill="#937860"/>
<polygon points="461.9,156.3 462.5,157.8 464.2,157.9 462.9,158.9 463.3,160.5 461.9,159.7 460.6,160.5 460.9,158.9 459.7,157.9 461.3,157.8" fill="#937860"/>
<polygon points="487.6,155.4 488.2,156.9 489.8,157.0 488.6,158.1 489.0,159.6 487.6,158.8 486.2,159.6 486.6,158.1 485.4,157.0 487.0,156.9" fill="#937860"/>
<polygon points="513.2,150.5 513.9,152.0 515.5,152.1 514.2,153.2 514.6,154.8 513.2,153.9 511.9,154.8 512.2,153.2 511.0,152.1 512.6,152.0" fill="#937860"/>
<polygon points="538.9,148.6 539.5,150.0 541.1,150.2 539.9,151.2 540.3,152.8 538.9,152.0 537.5,152.8 537.9,151.2 536.7,150.2 538.3,150.0" fill="#937860"/>
<polygon points="564.6,147.7 565.2,149.1 566.8,149.3 565.6,150.3 565.9,151.9 564.6,151.0 563.2,151.9 563.6,150.3 562.3,149.3 563.9,149.1" fill="#937860"/>
<polygon points="590.2,144.7 590.8,146.2 592.5,146.3 591.2,147.3 591.6,148.9 590.2,148.1 588.9,148.9 589.2,147.3 588.0,146.3 589.6,146.2" fill="#937860"/>
<polygon points="615.9,139.4 616.5,140.9 618.1,141.0 616.9,142.1 617.3,143.6 615.9,142.8 614.5,143.6 614.9,142.1 613.7,141.0 615.3,140.9" fill="#937860"/>
<polygon points="641.6,139.4 642.2,140.9 643.8,141.0 642.6,142.1 642.9,143.6 641.6,142.8 640.2,143.6 640.5,142.1 639.3,141.0 640.9,140.9" fill="#937860"/>
<polygon points="154.0,310.9 155.7,310.9 157.4,253.8 159.1,253.8 160.8,237.8 177.9,237.9 179.7,235.6 193.3,235.7 195.1,228.9 203.6,228.9 205.3,226.7 231.0,226.8 234.4,226.9 236.1,217.7 244.7,217.8 246.4,215.5 282.3,215.8 301.1,215.9 302.8,211.3 306.3,211.4 308.0,210.0 323.4,210.1 665.5,213.1 665.5,218.6 323.4,221.5 308.0,221.6 306.3,223.0 302.8,223.0 301.1,227.6 282.3,227.7 246.4,228.0 244.7,230.3 236.1,230.3 234.4,239.5 231.0,239.5 205.3,239.7 203.6,242.0 195.1,242.0 193.3,248.9 179.7,249.0 177.9,251.3 160.8,251.4 159.1,267.4 157.4,267.4 155.7,324.6 154.0,324.6" fill="#8172B3" fill-opacity="0.2" clip-path="url(#c1)"/>
<polyline points="154.0,317.7 155.7,317.7 157.4,260.6 159.1,260.6 160.8,244.6 177.9,244.6 179.7,242.3 193.3,242.3 195.1,235.5 203.6,235.5 205.3,233.2 231.0,233.2 234.4,233.2 236.1,224.0 244.7,224.0 246.4,221.8 282.3,221.8 301.1,221.8 302.8,217.2 306.3,217.2 308.0,215.8 665.5,215.8" fill="none" stroke="#8172B3" stroke-width="1.4" stroke-linejoin="round" clip-path="url(#c1)"/>
<polygon points="154.0,320.7 157.0,315.5 151.0,315.5" fill="#8172B3"/>
<polygon points="179.7,245.3 182.6,240.1 176.7,240.1" fill="#8172B3"/>
<polygon points="205.3,236.1 208.3,231.0 202.4,231.0" fill="#8172B3"/>
<polygon points="231.0,236.1 233.9,231.0 228.0,231.0" fill="#8172B3"/>
<polygon points="256.6,224.7 259.6,219.5 253.7,219.5" fill="#8172B3"/>
<polygon points="282.3,224.7 285.3,219.5 279.3,219.5" fill="#8172B3"/>
<polygon points="308.0,218.8 310.9,213.6 305.0,213.6" fill="#8172B3"/>
<polygon points="333.6,218.8 336.6,213.6 330.7,213.6" fill="#8172B3"/>
<polygon points="359.3,218.8 362.2,213.6 356.3,213.6" fill="#8172B3"/>
<polygon points="384.9,218.8 387.9,213.6 382.0,213.6" fill="#8172B3"/>
<polygon points="410.6,218.8 413.6,213.6 407.6,213.6" fill="#8172B3"/>
<polygon points="436.3,218.8 439.2,213.6 433.3,213.6" fill="#8172B3"/>
<polygon points="461.9,218.8 464.9,213.6 459.0,213.6" fill="#8172B3"/>
<polygon points="487.6,218.8 490.6,213.6 484.6,213.6" fill="#8172B3"/>
<polygon points="513.2,218.8 516.2,213.6 510.3,213.6" fill="#8172B3"/>
<polygon points="538.9,218.8 541.9,213.6 535.9,213.6" fill="#8172B3"/>
<polygon points="564.6,218.8 567.5,213.6 561.6,213.6" fill="#8172B3"/>
<polygon points="590.2,218.8 593.2,213.6 587.3,213.6" fill="#8172B3"/>
<polygon points="615.9,218.8 618.9,213.6 612.9,213.6" fill="#8172B3"/>
<polygon points="641.6,218.8 644.5,213.6 638.6,213.6" fill="#8172B3"/>
<polygon points="154.0,331.5 155.7,331.5 157.4,324.6 159.1,324.6 160.8,244.6 167.7,244.6 169.4,237.8 177.9,237.8 179.7,233.2 193.3,233.2 195.1,230.9 203.6,230.9 205.3,226.3 210.5,226.3 212.2,217.2 219.0,217.2 220.7,210.3 229.3,210.3 231.0,206.9 280.6,206.9 282.3,204.6 297.7,204.6 299.4,203.5 302.8,203.5 304.5,198.9 460.2,198.9 463.6,198.9 465.3,197.8 627.9,197.8 631.3,197.8 633.0,194.3 665.5,194.3 665.5,203.5 633.0,203.5 631.3,206.9 627.9,206.9 465.3,206.9 463.6,208.0 460.2,208.0 304.5,208.0 302.8,212.6 299.4,212.6 297.7,213.8 282.3,213.8 280.6,216.0 231.0,216.0 229.3,219.5 220.7,219.5 219.0,226.3 212.2,226.3 210.5,235.5 205.3,235.5 203.6,240.0 195.1,240.0 193.3,242.3 179.7,242.3 177.9,246.9 169.4,246.9 167.7,253.7 160.8,253.7 159.1,333.7 157.4,333.7 155.7,340.6 154.0,340.6" fill="#C44E52" fill-opacity="0.2" clip-path="url(#c1)"/>
<polyline points="154.0,336.0 155.7,336.0 157.4,329.2 159.1,329.2 160.8,249.2 167.7,249.2 169.4,242.3 177.9,242.3 179.7,237.8 193.3,237.8 195.1,235.5 203.6,235.5 205.3,230.9 210.5,230.9 212.2,221.8 219.0,221.8 220.7,214.9 229.3,214.9 231.0,211.5 280.6,211.5 282.3,209.2 297.7,209.2 299.4,208.0 302.8,208.0 304.5,203.5 460.2,203.5 463.6,203.5 465.3,202.3 627.9,202.3 631.3,202.3 633.0,198.9 665.5,198.9" fill="none" stroke="#C44E52" stroke-width="1.4" stroke-linejoin="round" clip-path="url(#c1)"/>
<polygon points="154.0,333.1 157.0,338.3 151.0,338.3" fill="#C44E52"/>
<polygon points="179.7,234.8 182.6,240.0 176.7,240.0" fill="#C44E52"/>
<polygon points="205.3,227.9 208.3,233.1 202.4,233.1" fill="#C44E52"/>
<polygon points="231.0,208.5 233.9,213.7 228.0,213.7" fill="#C44E52"/>
<polygon points="256.6,208.5 259.6,213.7 253.7,213.7" fill="#C44E52"/>
<polygon points="282.3,206.2 285.3,211.4 279.3,211.4" fill="#C44E52"/>
<polygon points="308.0,200.5 310.9,205.7 305.0,205.7" fill="#C44E52"/>
<polygon points="333.6,200.5 336.6,205.7 330.7,205.7" fill="#C44E52"/>
<polygon points="359.3,200.5 362.2,205.7 356.3,205.7" fill="#C44E52"/>
<polygon points="384.9,200.5 387.9,205.7 382.0,205.7" fill="#C44E52"/>
<polygon points="410.6,200.5 413.6,205.7 407.6,205.7" fill="#C44E52"/>
<polygon points="436.3,200.5 439.2,205.7 433.3,205.7" fill="#C44E52"/>
<polygon points="461.9,200.5 464.9,205.7 459.0,205.7" fill="#C44E52"/>
<polygon points="487.6,199.4 490.6,204.5 484.6,204.5" fill="#C44E52"/>
<polygon points="513.2,199.4 516.2,204.5 510.3,204.5" fill="#C44E52"/>
<polygon points="538.9,199.4 541.9,204.5 535.9,204.5" fill="#C44E52"/>
<polygon points="564.6,199.4 567.5,204.5 561.6,204.5" fill="#C44E52"/>
<polygon points="590.2,199.4 593.2,204.5 587.3,204.5" fill="#C44E52"/>
<polygon points="615.9,199.4 618.9,204.5 612.9,204.5" fill="#C44E52"/>
<polygon points="641.6,195.9 644.5,201.1 638.6,201.1" fill="#C44E52"/>
<polygon points="154.0,331.5 157.4,329.2 162.6,324.6 167.7,315.5 172.8,312.0 179.7,310.2 186.5,308.6 193.3,306.3 200.2,304.0 205.3,299.5 210.5,297.2 217.3,290.3 222.4,281.2 227.6,278.9 231.0,272.0 237.8,269.7 256.6,267.5 272.0,266.3 282.3,265.2 308.0,262.9 323.4,261.7 330.2,259.5 333.6,259.0 636.4,259.0 641.6,253.3 656.9,251.5 665.5,250.3 665.5,259.5 656.9,260.6 641.6,262.4 636.4,268.1 333.6,268.1 330.2,268.6 323.4,270.9 308.0,272.0 282.3,274.3 272.0,275.5 256.6,276.6 237.8,278.9 231.0,281.2 227.6,288.0 222.4,290.3 217.3,299.5 210.5,306.3 205.3,308.6 200.2,313.2 193.3,315.5 186.5,317.7 179.7,319.3 172.8,321.2 167.7,324.6 162.6,333.7 157.4,338.3 154.0,340.6" fill="#55A868" fill-opacity="0.2" clip-path="url(#c1)"/>
<polyline points="154.0,336.0 157.4,333.7 162.6,329.2 167.7,320.0 172.8,316.6 179.7,314.8 186.5,313.2 193.3,310.9 200.2,308.6 205.3,304.0 210.5,301.7 217.3,294.9 222.4,285.7 227.6,283.5 231.0,276.6 237.8,274.3 256.6,272.0 272.0,270.9 282.3,269.7 308.0,267.5 323.4,266.3 330.2,264.0 333.6,263.6 636.4,263.6 641.6,257.9 656.9,256.0 665.5,254.9" fill="none" stroke="#55A868" stroke-width="1.4" stroke-linejoin="round" clip-path="url(#c1)"/>
<polygon points="154.0,332.4 157.6,336.0 154.0,339.6 150.4,336.0" fill="#55A868"/>
<polygon points="179.7,311.2 183.2,314.8 179.7,318.4 176.1,314.8" fill="#55A868"/>
<polygon points="205.3,300.4 208.9,304.0 205.3,307.6 201.7,304.0" fill="#55A868"/>
<polygon points="231.0,273.0 234.6,276.6 231.0,280.2 227.4,276.6" fill="#55A868"/>
<polygon points="256.6,268.4 260.2,272.0 256.6,275.6 253.1,272.0" fill="#55A868"/>
<polygon points="282.3,266.2 285.9,269.7 282.3,273.3 278.7,269.7" fill="#55A868"/>
<polygon points="308.0,263.9 311.6,267.5 308.0,271.1 304.4,267.5" fill="#55A868"/>
<polygon points="333.6,260.0 337.2,263.6 333.6,267.2 330.0,263.6" fill="#55A868"/>
<polygon points="359.3,260.0 362.9,263.6 359.3,267.2 355.7,263.6" fill="#55A868"/>
<polygon points="384.9,260.0 388.5,263.6 384.9,267.2 381.4,263.6" fill="#55A868"/>
<polygon points="410.6,260.0 414.2,263.6 410.6,267.2 407.0,263.6" fill="#55A868"/>
<polygon points="436.3,260.0 439.9,263.6 436.3,267.2 432.7,263.6" fill="#55A868"/>
<polygon points="461.9,260.0 465.5,263.6 461.9,267.2 458.3,263.6" fill="#55A868"/>
<polygon points="487.6,260.0 491.2,263.6 487.6,267.2 484.0,263.6" fill="#55A868"/>
<polygon points="513.2,260.0 516.8,263.6 513.2,267.2 509.7,263.6" fill="#55A868"/>
<polygon points="538.9,260.0 542.5,263.6 538.9,267.2 535.3,263.6" fill="#55A868"/>
<polygon points="564.6,260.0 568.2,263.6 564.6,267.2 561.0,263.6" fill="#55A868"/>
<polygon points="590.2,260.0 593.8,263.6 590.2,267.2 586.6,263.6" fill="#55A868"/>
<polygon points="615.9,260.0 619.5,263.6 615.9,267.2 612.3,263.6" fill="#55A868"/>
<polygon points="641.6,254.3 645.1,257.9 641.6,261.5 638.0,257.9" fill="#55A868"/>
<polygon points="154.0,310.9 155.7,310.8 157.4,304.0 159.1,260.5 177.9,260.1 179.7,252.0 193.3,251.7 195.1,250.5 198.5,250.5 200.2,245.8 205.3,245.7 210.5,245.6 212.2,234.1 220.7,234.0 222.4,229.3 254.9,228.6 256.6,227.5 263.5,227.8 265.2,222.2 280.6,222.9 282.3,220.7 297.7,221.4 299.4,216.9 302.8,217.0 304.5,205.7 306.3,205.8 308.0,205.3 314.8,212.6 359.3,212.6 364.4,212.6 366.1,206.9 485.9,206.9 501.3,206.9 503.0,203.5 515.0,203.5 518.4,203.5 520.1,194.3 665.5,194.3 665.5,203.5 520.1,203.5 518.4,212.6 515.0,212.6 503.0,212.6 501.3,216.0 485.9,216.0 366.1,216.0 364.4,221.8 359.3,221.8 314.8,221.8 308.0,229.1 306.3,233.2 304.5,233.3 302.8,244.8 299.4,244.9 297.7,249.6 282.3,250.2 280.6,252.6 265.2,253.3 263.5,259.1 256.6,259.4 254.9,260.6 222.4,259.9 220.7,264.4 212.2,264.2 210.5,275.6 205.3,275.5 200.2,275.4 198.5,279.9 195.1,279.8 193.3,280.9 179.7,280.6 177.9,288.6 159.1,288.1 157.4,331.5 155.7,338.4 154.0,338.3" fill="#DD8452" fill-opacity="0.2" clip-path="url(#c1)"/>
<polyline points="154.0,324.6 155.7,324.6 157.4,317.7 159.1,274.3 177.9,274.3 179.7,266.3 193.3,266.3 195.1,265.2 198.5,265.2 200.2,260.6 205.3,260.6 210.5,260.6 212.2,249.2 220.7,249.2 222.4,244.6 254.9,244.6 256.6,243.5 263.5,243.5 265.2,237.8 280.6,237.8 282.3,235.5 297.7,235.5 299.4,230.9 302.8,230.9 304.5,219.5 306.3,219.5 308.0,217.2 359.3,217.2 364.4,217.2 366.1,211.5 485.9,211.5 501.3,211.5 503.0,208.0 515.0,208.0 518.4,208.0 520.1,198.9 665.5,198.9" fill="none" stroke="#DD8452" stroke-width="1.4" stroke-linejoin="round" clip-path="url(#c1)"/>
<rect x="151.4" y="322.0" width="5.1" height="5.1" fill="#DD8452"/>
<rect x="177.1" y="263.7" width="5.1" height="5.1" fill="#DD8452"/>
<rect x="202.7" y="258.0" width="5.1" height="5.1" fill="#DD8452"/>
<rect x="228.4" y="242.0" width="5.1" height="5.1" fill="#DD8452"/>
<rect x="254.1" y="240.9" width="5.1" height="5.1" fill="#DD8452"/>
<rect x="279.7" y="232.9" width="5.1" height="5.1" fill="#DD8452"/>
<rect x="305.4" y="214.6" width="5.1" height="5.1" fill="#DD8452"/>
<rect x="331.0" y="214.6" width="5.1" height="5.1" fill="#DD8452"/>
<rect x="356.7" y="214.6" width="5.1" height="5.1" fill="#DD8452"/>
<rect x="382.4" y="208.9" width="5.1" height="5.1" fill="#DD8452"/>
<rect x="408.0" y="208.9" width="5.1" height="5.1" fill="#DD8452"/>
<rect x="433.7" y="208.9" width="5.1" height="5.1" fill="#DD8452"/>
<rect x="459.4" y="208.9" width="5.1" height="5.1" fill="#DD8452"/>
<rect x="485.0" y="208.9" width="5.1" height="5.1" fill="#DD8452"/>
<rect x="510.7" y="205.5" width="5.1" height="5.1" fill="#DD8452"/>
<rect x="536.3" y="196.3" width="5.1" height="5.1" fill="#DD8452"/>
<rect x="562.0" y="196.3" width="5.1" height="5.1" fill="#DD8452"/>
<rect x="587.7" y="196.3" width="5.1" height="5.1" fill="#DD8452"/>
<rect x="613.3" y="196.3" width="5.1" height="5.1" fill="#DD8452"/>
<rect x="639.0" y="196.3" width="5.1" height="5.1" fill="#DD8452"/>
<polygon points="154.0,276.6 155.7,276.6 157.4,233.2 159.1,233.2 160.8,226.3 167.7,226.3 169.4,221.8 177.9,221.8 179.7,219.5 184.8,219.5 186.5,219.5 188.2,208.0 193.3,208.0 195.1,196.6 210.5,196.6 212.2,194.3 215.6,194.3 217.3,188.6 220.7,188.6 225.8,189.1 227.6,183.5 236.1,184.3 237.8,182.1 244.7,182.7 246.4,176.0 254.9,176.8 256.6,175.8 263.5,176.4 265.2,174.3 272.0,174.9 287.4,174.9 289.1,173.8 296.0,173.8 297.7,171.5 588.5,171.8 598.8,171.8 600.5,169.6 612.5,169.6 614.2,167.3 665.5,167.4 665.5,171.0 614.2,171.1 612.5,173.4 600.5,173.4 598.8,175.7 588.5,175.7 297.7,176.0 296.0,178.3 289.1,178.3 287.4,179.5 272.0,179.5 265.2,180.1 263.5,182.5 256.6,183.1 254.9,184.4 246.4,185.2 244.7,192.2 237.8,192.8 236.1,195.2 227.6,196.0 225.8,201.9 220.7,202.3 217.3,202.3 215.6,208.0 212.2,208.0 210.5,210.3 195.1,210.3 193.3,221.8 188.2,221.8 186.5,233.2 184.8,233.2 179.7,233.2 177.9,235.5 169.4,235.5 167.7,240.0 160.8,240.0 159.1,246.9 157.4,246.9 155.7,290.3 154.0,290.3" fill="#4C72B0" fill-opacity="0.2" clip-path="url(#c1)"/>
<polyline points="154.0,283.5 155.7,283.5 157.4,240.0 159.1,240.0 160.8,233.2 167.7,233.2 169.4,228.6 177.9,228.6 179.7,226.3 184.8,226.3 186.5,226.3 188.2,214.9 193.3,214.9 195.1,203.5 210.5,203.5 212.2,201.2 215.6,201.2 217.3,195.5 225.8,195.5 227.6,189.8 236.1,189.8 237.8,187.5 244.7,187.5 246.4,180.6 254.9,180.6 256.6,179.5 263.5,179.5 265.2,177.2 287.4,177.2 289.1,176.0 296.0,176.0 297.7,173.8 588.5,173.8 598.8,173.8 600.5,171.5 612.5,171.5 614.2,169.2 665.5,169.2" fill="none" stroke="#4C72B0" stroke-width="1.4" stroke-linejoin="round" clip-path="url(#c1)"/>
<circle cx="154.0" cy="283.5" r="2.8" fill="#4C72B0"/>
<circle cx="179.7" cy="226.3" r="2.8" fill="#4C72B0"/>
<circle cx="205.3" cy="203.5" r="2.8" fill="#4C72B0"/>
<circle cx="231.0" cy="189.8" r="2.8" fill="#4C72B0"/>
<circle cx="256.6" cy="179.5" r="2.8" fill="#4C72B0"/>
<circle cx="282.3" cy="177.2" r="2.8" fill="#4C72B0"/>
<circle cx="308.0" cy="173.8" r="2.8" fill="#4C72B0"/>
<circle cx="333.6" cy="173.8" r="2.8" fill="#4C72B0"/>
<circle cx="359.3" cy="173.8" r="2.8" fill="#4C72B0"/>
<circle cx="384.9" cy="173.8" r="2.8" fill="#4C72B0"/>
<circle cx="410.6" cy="173.8" r="2.8" fill="#4C72B0"/>
<circle cx="436.3" cy="173.8" r="2.8" fill="#4C72B0"/>
<circle cx="461.9" cy="173.8" r="2.8" fill="#4C72B0"/>
<circle cx="487.6" cy="173.8" r="2.8" fill="#4C72B0"/>
<circle cx="513.2" cy="173.8" r="2.8" fill="#4C72B0"/>
<circle cx="538.9" cy="173.8" r="2.8" fill="#4C72B0"/>
<circle cx="564.6" cy="173.8" r="2.8" fill="#4C72B0"/>
<circle cx="590.2" cy="173.8" r="2.8" fill="#4C72B0"/>
<circle cx="615.9" cy="169.2" r="2.8" fill="#4C72B0"/>
<circle cx="641.6" cy="169.2" r="2.8" fill="#4C72B0"/>
<polygon points="836.5,310.5 839.9,310.2 843.4,298.0 857.1,296.7 860.5,291.7 877.7,290.0 881.1,279.9 905.1,277.5 908.5,272.5 915.4,271.9 918.8,268.2 929.1,267.2 932.5,256.4 936.0,256.0 939.4,254.8 942.8,254.9 946.2,235.9 977.1,236.7 980.5,232.1 987.4,232.3 990.8,224.5 1056.0,226.1 1059.4,224.8 1062.8,218.4 1066.3,218.4 1069.7,183.1 1073.1,183.1 1076.6,182.6 1080.0,182.6 1083.4,168.9 1104.0,169.4 1107.4,166.9 1110.9,167.0 1114.3,147.4 1172.6,148.7 1176.0,148.8 1179.5,145.6 1182.9,145.7 1186.3,143.8 1210.3,144.4 1217.2,144.6 1220.6,143.3 1224.0,143.4 1227.5,135.6 1248.0,136.1 1251.5,134.2 1254.9,134.3 1258.3,131.8 1292.6,132.6 1296.1,132.7 1299.5,124.2 1347.5,125.4 1347.5,151.6 1299.5,152.8 1296.1,161.4 1292.6,161.5 1258.3,162.3 1254.9,165.0 1251.5,165.1 1248.0,167.1 1227.5,167.6 1224.0,175.6 1220.6,175.7 1217.2,177.1 1210.3,177.2 1186.3,177.8 1182.9,179.9 1179.5,179.9 1176.0,183.3 1172.6,183.4 1114.3,184.8 1110.9,204.6 1107.4,204.6 1104.0,207.4 1083.4,207.8 1080.0,221.7 1076.6,221.8 1073.1,222.5 1069.7,222.6 1066.3,258.2 1062.8,258.2 1059.4,264.9 1056.0,266.3 990.8,267.9 987.4,275.8 980.5,276.0 977.1,280.7 946.2,281.4 942.8,300.5 939.4,300.6 936.0,302.0 932.5,301.7 929.1,311.8 918.8,310.8 915.4,313.7 908.5,313.1 905.1,317.3 881.1,314.9 877.7,324.5 860.5,322.8 857.1,327.0 843.4,325.7 839.9,337.1 836.5,336.8" fill="#937860" fill-opacity="0.2" clip-path="url(#c2)"/>
<polyline points="836.5,323.7 839.9,323.7 843.4,311.8 857.1,311.8 860.5,307.2 877.7,307.2 881.1,297.4 905.1,297.4 908.5,292.8 915.4,292.8 918.8,289.5 929.1,289.5 932.5,279.0 936.0,279.0 939.4,277.7 942.8,277.7 946.2,258.7 977.1,258.7 980.5,254.1 987.4,254.1 990.8,246.2 1056.0,246.2 1059.4,244.9 1062.8,238.3 1066.3,238.3 1069.7,202.8 1073.1,202.8 1076.6,202.2 1080.0,202.2 1083.4,188.4 1104.0,188.4 1107.4,185.8 1110.9,185.8 1114.3,166.1 1172.6,166.1 1176.0,166.1 1179.5,162.8 1182.9,162.8 1186.3,160.8 1217.2,160.8 1220.6,159.5 1224.0,159.5 1227.5,151.6 1248.0,151.6 1251.5,149.7 1254.9,149.7 1258.3,147.0 1292.6,147.0 1296.1,147.0 1299.5,138.5 1347.5,138.5" fill="none" stroke="#937860" stroke-width="1.4" stroke-linejoin="round" clip-path="url(#c2)"/>
<polygon points="836.5,321.3 837.1,322.8 838.7,322.9 837.5,324.0 837.9,325.6 836.5,324.7 835.1,325.6 835.5,324.0 834.3,322.9 835.9,322.8" fill="#937860"/>
<polygon points="860.5,304.9 861.1,306.4 862.7,306.5 861.5,307.6 861.9,309.1 860.5,308.3 859.1,309.1 859.5,307.6 858.3,306.5 859.9,306.4" fill="#937860"/>
<polygon points="884.5,295.1 885.1,296.5 886.7,296.7 885.5,297.7 885.9,299.3 884.5,298.5 883.1,299.3 883.5,297.7 882.3,296.7 883.9,296.5" fill="#937860"/>
<polygon points="908.5,290.5 909.1,292.0 910.7,292.1 909.5,293.1 909.9,294.7 908.5,293.9 907.1,294.7 907.5,293.1 906.3,292.1 907.9,292.0" fill="#937860"/>
<polygon points="932.5,276.7 933.1,278.2 934.8,278.3 933.5,279.3 933.9,280.9 932.5,280.1 931.2,280.9 931.5,279.3 930.3,278.3 931.9,278.2" fill="#937860"/>
<polygon points="956.5,256.3 957.2,257.8 958.8,257.9 957.5,259.0 957.9,260.5 956.5,259.7 955.2,260.5 955.5,259.0 954.3,257.9 955.9,257.8" fill="#937860"/>
<polygon points="980.5,251.7 981.2,253.2 982.8,253.3 981.5,254.4 981.9,256.0 980.5,255.1 979.2,256.0 979.5,254.4 978.3,253.3 979.9,253.2" fill="#937860"/>
<polygon points="1004.5,243.8 1005.2,245.3 1006.8,245.5 1005.5,246.5 1005.9,248.1 1004.5,247.2 1003.2,248.1 1003.5,246.5 1002.3,245.5 1003.9,245.3" fill="#937860"/>
<polygon points="1028.6,243.8 1029.2,245.3 1030.8,245.5 1029.6,246.5 1029.9,248.1 1028.6,247.2 1027.2,248.1 1027.6,246.5 1026.3,245.5 1027.9,245.3" fill="#937860"/>
<polygon points="1052.6,243.8 1053.2,245.3 1054.8,245.5 1053.6,246.5 1053.9,248.1 1052.6,247.2 1051.2,248.1 1051.6,246.5 1050.3,245.5 1051.9,245.3" fill="#937860"/>
<polygon points="1076.6,199.8 1077.2,201.3 1078.8,201.5 1077.6,202.5 1077.9,204.1 1076.6,203.2 1075.2,204.1 1075.6,202.5 1074.3,201.5 1075.9,201.3" fill="#937860"/>
<polygon points="1100.6,186.1 1101.2,187.5 1102.8,187.7 1101.6,188.7 1101.9,190.3 1100.6,189.4 1099.2,190.3 1099.6,188.7 1098.3,187.7 1100.0,187.5" fill="#937860"/>
<polygon points="1124.6,163.7 1125.2,165.2 1126.8,165.3 1125.6,166.4 1126.0,168.0 1124.6,167.1 1123.2,168.0 1123.6,166.4 1122.4,165.3 1124.0,165.2" fill="#937860"/>
<polygon points="1148.6,163.7 1149.2,165.2 1150.8,165.3 1149.6,166.4 1150.0,168.0 1148.6,167.1 1147.2,168.0 1147.6,166.4 1146.4,165.3 1148.0,165.2" fill="#937860"/>
<polygon points="1172.6,163.7 1173.2,165.2 1174.8,165.3 1173.6,166.4 1174.0,168.0 1172.6,167.1 1171.2,168.0 1171.6,166.4 1170.4,165.3 1172.0,165.2" fill="#937860"/>
<polygon points="1196.6,158.5 1197.2,160.0 1198.8,160.1 1197.6,161.1 1198.0,162.7 1196.6,161.9 1195.2,162.7 1195.6,161.1 1194.4,160.1 1196.0,160.0" fill="#937860"/>
<polygon points="1220.6,157.2 1221.2,158.6 1222.8,158.8 1221.6,159.8 1222.0,161.4 1220.6,160.6 1219.2,161.4 1219.6,159.8 1218.4,158.8 1220.0,158.6" fill="#937860"/>
<polygon points="1244.6,149.3 1245.2,150.8 1246.8,150.9 1245.6,151.9 1246.0,153.5 1244.6,152.7 1243.2,153.5 1243.6,151.9 1242.4,150.9 1244.0,150.8" fill="#937860"/>
<polygon points="1268.6,144.7 1269.2,146.2 1270.8,146.3 1269.6,147.3 1270.0,148.9 1268.6,148.1 1267.2,148.9 1267.6,147.3 1266.4,146.3 1268.0,146.2" fill="#937860"/>
<polygon points="1292.6,144.7 1293.2,146.2 1294.9,146.3 1293.6,147.3 1294.0,148.9 1292.6,148.1 1291.3,148.9 1291.6,147.3 1290.4,146.3 1292.0,146.2" fill="#937860"/>
<polygon points="1316.6,136.1 1317.3,137.6 1318.9,137.8 1317.6,138.8 1318.0,140.4 1316.6,139.5 1315.3,140.4 1315.6,138.8 1314.4,137.8 1316.0,137.6" fill="#937860"/>
<polygon points="1340.6,136.1 1341.3,137.6 1342.9,137.8 1341.6,138.8 1342.0,140.4 1340.6,139.5 1339.3,140.4 1339.6,138.8 1338.4,137.8 1340.0,137.6" fill="#937860"/>
<polygon points="836.5,320.4 853.6,313.1 857.1,311.6 860.5,299.0 863.9,297.5 867.4,284.3 884.5,284.3 905.1,284.3 908.5,282.3 977.1,282.3 980.5,281.0 1001.1,281.0 1004.5,279.0 1148.6,279.0 1152.0,279.0 1155.4,273.1 1347.5,273.1 1347.5,312.5 1155.4,312.5 1152.0,318.4 1148.6,318.4 1004.5,318.4 1001.1,320.4 980.5,320.4 977.1,321.7 908.5,321.7 905.1,323.7 884.5,323.7 867.4,323.7 863.9,334.0 860.5,332.6 857.1,342.3 853.6,340.8 836.5,333.5" fill="#8172B3" fill-opacity="0.2" clip-path="url(#c2)"/>
<polyline points="836.5,326.9 853.6,326.9 857.1,326.9 860.5,315.8 863.9,315.8 867.4,304.0 884.5,304.0 905.1,304.0 908.5,302.0 977.1,302.0 980.5,300.7 1001.1,300.7 1004.5,298.7 1148.6,298.7 1152.0,298.7 1155.4,292.8 1347.5,292.8" fill="none" stroke="#8172B3" stroke-width="1.4" stroke-linejoin="round" clip-path="url(#c2)"/>
<polygon points="836.5,329.9 839.5,324.7 833.5,324.7" fill="#8172B3"/>
<polygon points="860.5,318.8 863.5,313.6 857.5,313.6" fill="#8172B3"/>
<polygon points="884.5,306.9 887.5,301.7 881.5,301.7" fill="#8172B3"/>
<polygon points="908.5,305.0 911.5,299.8 905.6,299.8" fill="#8172B3"/>
<polygon points="932.5,305.0 935.5,299.8 929.6,299.8" fill="#8172B3"/>
<polygon points="956.5,305.0 959.5,299.8 953.6,299.8" fill="#8172B3"/>
<polygon points="980.5,303.6 983.5,298.5 977.6,298.5" fill="#8172B3"/>
<polygon points="1004.5,301.7 1007.5,296.5 1001.6,296.5" fill="#8172B3"/>
<polygon points="1028.6,301.7 1031.5,296.5 1025.6,296.5" fill="#8172B3"/>
<polygon points="1052.6,301.7 1055.5,296.5 1049.6,296.5" fill="#8172B3"/>
<polygon points="1076.6,301.7 1079.5,296.5 1073.6,296.5" fill="#8172B3"/>
<polygon points="1100.6,301.7 1103.5,296.5 1097.6,296.5" fill="#8172B3"/>
<polygon points="1124.6,301.7 1127.5,296.5 1121.6,296.5" fill="#8172B3"/>
<polygon points="1148.6,301.7 1151.6,296.5 1145.6,296.5" fill="#8172B3"/>
<polygon points="1172.6,295.8 1175.6,290.6 1169.6,290.6" fill="#8172B3"/>
<polygon points="1196.6,295.8 1199.6,290.6 1193.6,290.6" fill="#8172B3"/>
<polygon points="1220.6,295.8 1223.6,290.6 1217.6,290.6" fill="#8172B3"/>
<polygon points="1244.6,295.8 1247.6,290.6 1241.7,290.6" fill="#8172B3"/>
<polygon points="1268.6,295.8 1271.6,290.6 1265.7,290.6" fill="#8172B3"/>
<polygon points="1292.6,295.8 1295.6,290.6 1289.7,290.6" fill="#8172B3"/>
<polygon points="1316.6,295.8 1319.6,290.6 1313.7,290.6" fill="#8172B3"/>
<polygon points="1340.6,295.8 1343.6,290.6 1337.7,290.6" fill="#8172B3"/>
<polygon points="836.5,320.4 857.1,318.2 860.5,317.2 867.4,316.4 881.1,316.1 884.5,312.1 905.1,311.6 908.5,310.9 929.1,310.4 932.5,308.3 1001.1,306.7 1004.5,305.3 1008.0,304.9 1011.4,290.0 1025.1,288.5 1028.6,286.8 1049.1,284.4 1052.6,274.2 1059.4,273.4 1062.8,269.0 1086.9,266.3 1090.3,248.8 1203.5,250.3 1206.9,249.6 1210.3,241.1 1224.0,241.3 1227.5,232.2 1289.2,233.0 1292.6,228.4 1296.1,228.4 1299.5,220.0 1344.1,220.5 1347.5,212.0 1347.5,251.4 1344.1,260.0 1299.5,260.6 1296.1,269.2 1292.6,269.2 1289.2,273.8 1227.5,274.6 1224.0,283.9 1210.3,284.0 1206.9,292.6 1203.5,293.3 1090.3,294.8 1086.9,311.5 1062.8,308.7 1059.4,312.2 1052.6,311.5 1049.1,320.9 1028.6,318.5 1025.1,319.5 1011.4,317.9 1008.0,331.9 1004.5,331.5 1001.1,332.8 932.5,331.1 929.1,333.0 908.5,332.5 905.1,333.1 884.5,332.6 881.1,336.5 867.4,336.1 860.5,335.4 857.1,335.7 836.5,333.5" fill="#C44E52" fill-opacity="0.2" clip-path="url(#c2)"/>
<polyline points="836.5,326.9 857.1,326.9 860.5,326.3 881.1,326.3 884.5,322.4 905.1,322.4 908.5,321.7 929.1,321.7 932.5,319.7 1001.1,319.7 1004.5,318.4 1008.0,318.4 1011.4,304.0 1025.1,304.0 1028.6,302.7 1049.1,302.7 1052.6,292.8 1059.4,292.8 1062.8,288.9 1086.9,288.9 1090.3,271.8 1203.5,271.8 1206.9,271.1 1210.3,262.6 1224.0,262.6 1227.5,253.4 1289.2,253.4 1292.6,248.8 1296.1,248.8 1299.5,240.3 1344.1,240.3 1347.5,231.7" fill="none" stroke="#C44E52" stroke-width="1.4" stroke-linejoin="round" clip-path="url(#c2)"/>
<polygon points="836.5,324.0 839.5,329.2 833.5,329.2" fill="#C44E52"/>
<polygon points="860.5,323.3 863.5,328.5 857.5,328.5" fill="#C44E52"/>
<polygon points="884.5,319.4 887.5,324.6 881.5,324.6" fill="#C44E52"/>
<polygon points="908.5,318.7 911.5,323.9 905.6,323.9" fill="#C44E52"/>
<polygon points="932.5,316.8 935.5,321.9 929.6,321.9" fill="#C44E52"/>
<polygon points="956.5,316.8 959.5,321.9 953.6,321.9" fill="#C44E52"/>
<polygon points="980.5,316.8 983.5,321.9 977.6,321.9" fill="#C44E52"/>
<polygon points="1004.5,315.4 1007.5,320.6 1001.6,320.6" fill="#C44E52"/>
<polygon points="1028.6,299.7 1031.5,304.9 1025.6,304.9" fill="#C44E52"/>
<polygon points="1052.6,289.8 1055.5,295.0 1049.6,295.0" fill="#C44E52"/>
<polygon points="1076.6,285.9 1079.5,291.1 1073.6,291.1" fill="#C44E52"/>
<polygon points="1100.6,268.8 1103.5,274.0 1097.6,274.0" fill="#C44E52"/>
<polygon points="1124.6,268.8 1127.5,274.0 1121.6,274.0" fill="#C44E52"/>
<polygon points="1148.6,268.8 1151.6,274.0 1145.6,274.0" fill="#C44E52"/>
<polygon points="1172.6,268.8 1175.6,274.0 1169.6,274.0" fill="#C44E52"/>
<polygon points="1196.6,268.8 1199.6,274.0 1193.6,274.0" fill="#C44E52"/>
<polygon points="1220.6,259.6 1223.6,264.8 1217.6,264.8" fill="#C44E52"/>
<polygon points="1244.6,250.4 1247.6,255.6 1241.7,255.6" fill="#C44E52"/>
<polygon points="1268.6,250.4 1271.6,255.6 1265.7,255.6" fill="#C44E52"/>
<polygon points="1292.6,245.8 1295.6,251.0 1289.7,251.0" fill="#C44E52"/>
<polygon points="1316.6,237.3 1319.6,242.5 1313.7,242.5" fill="#C44E52"/>
<polygon points="1340.6,237.3 1343.6,242.5 1337.7,242.5" fill="#C44E52"/>
<polygon points="836.5,334.8 1347.5,334.8 1347.5,338.8 836.5,338.8" fill="#55A868" fill-opacity="0.2" clip-path="url(#c2)"/>
<polyline points="836.5,336.8 1347.5,336.8" fill="none" stroke="#55A868" stroke-width="1.4" stroke-linejoin="round" clip-path="url(#c2)"/>
<polygon points="836.5,333.2 840.1,336.8 836.5,340.4 832.9,336.8" fill="#55A868"/>
<polygon points="860.5,333.2 864.1,336.8 860.5,340.4 856.9,336.8" fill="#55A868"/>
<polygon points="884.5,333.2 888.1,336.8 884.5,340.4 880.9,336.8" fill="#55A868"/>
<polygon points="908.5,333.2 912.1,336.8 908.5,340.4 904.9,336.8" fill="#55A868"/>
<polygon points="932.5,333.2 936.1,336.8 932.5,340.4 928.9,336.8" fill="#55A868"/>
<polygon points="956.5,333.2 960.1,336.8 956.5,340.4 952.9,336.8" fill="#55A868"/>
<polygon points="980.5,333.2 984.1,336.8 980.5,340.4 977.0,336.8" fill="#55A868"/>
<polygon points="1004.5,333.2 1008.1,336.8 1004.5,340.4 1001.0,336.8" fill="#55A868"/>
<polygon points="1028.6,333.2 1032.1,336.8 1028.6,340.4 1025.0,336.8" fill="#55A868"/>
<polygon points="1052.6,333.2 1056.1,336.8 1052.6,340.4 1049.0,336.8" fill="#55A868"/>
<polygon points="1076.6,333.2 1080.2,336.8 1076.6,340.4 1073.0,336.8" fill="#55A868"/>
<polygon points="1100.6,333.2 1104.2,336.8 1100.6,340.4 1097.0,336.8" fill="#55A868"/>
<polygon points="1124.6,333.2 1128.2,336.8 1124.6,340.4 1121.0,336.8" fill="#55A868"/>
<polygon points="1148.6,333.2 1152.2,336.8 1148.6,340.4 1145.0,336.8" fill="#55A868"/>
<polygon points="1172.6,333.2 1176.2,336.8 1172.6,340.4 1169.0,336.8" fill="#55A868"/>
<polygon points="1196.6,333.2 1200.2,336.8 1196.6,340.4 1193.0,336.8" fill="#55A868"/>
<polygon points="1220.6,333.2 1224.2,336.8 1220.6,340.4 1217.0,336.8" fill="#55A868"/>
<polygon points="1244.6,333.2 1248.2,336.8 1244.6,340.4 1241.0,336.8" fill="#55A868"/>
<polygon points="1268.6,333.2 1272.2,336.8 1268.6,340.4 1265.0,336.8" fill="#55A868"/>
<polygon points="1292.6,333.2 1296.2,336.8 1292.6,340.4 1289.0,336.8" fill="#55A868"/>
<polygon points="1316.6,333.2 1320.2,336.8 1316.6,340.4 1313.0,336.8" fill="#55A868"/>
<polygon points="1340.6,333.2 1344.2,336.8 1340.6,340.4 1337.1,336.8" fill="#55A868"/>
<polygon points="836.5,310.5 839.9,310.5 843.4,297.4 860.5,297.4 881.1,297.4 884.5,294.8 901.7,294.8 1004.5,284.9 1049.1,284.9 1052.6,284.3 1069.7,284.3 1073.1,277.7 1097.1,277.7 1100.6,273.1 1148.6,273.1 1152.0,273.1 1155.4,271.1 1292.6,271.1 1296.1,271.1 1299.5,266.5 1309.8,266.5 1313.2,259.3 1337.2,259.3 1340.6,258.0 1347.5,258.0 1347.5,304.0 1340.6,304.0 1337.2,305.3 1313.2,305.3 1309.8,312.5 1299.5,312.5 1296.1,317.1 1292.6,317.1 1155.4,317.1 1152.0,319.1 1148.6,319.1 1100.6,319.1 1097.1,323.7 1073.1,323.7 1069.7,330.2 1052.6,330.2 1049.1,330.9 1004.5,330.9 901.7,321.0 884.5,321.0 881.1,323.7 860.5,323.7 843.4,323.7 839.9,336.8 836.5,336.8" fill="#DD8452" fill-opacity="0.2" clip-path="url(#c2)"/>
<polyline points="836.5,323.7 839.9,323.7 843.4,310.5 860.5,310.5 881.1,310.5 884.5,307.9 1049.1,307.9 1052.6,307.2 1069.7,307.2 1073.1,300.7 1097.1,300.7 1100.6,296.1 1148.6,296.1 1152.0,296.1 1155.4,294.1 1292.6,294.1 1296.1,294.1 1299.5,289.5 1309.8,289.5 1313.2,282.3 1337.2,282.3 1340.6,281.0 1347.5,281.0" fill="none" stroke="#DD8452" stroke-width="1.4" stroke-linejoin="round" clip-path="url(#c2)"/>
<rect x="833.9" y="321.1" width="5.1" height="5.1" fill="#DD8452"/>
<rect x="857.9" y="308.0" width="5.1" height="5.1" fill="#DD8452"/>
<rect x="881.9" y="305.3" width="5.1" height="5.1" fill="#DD8452"/>
<rect x="905.9" y="305.3" width="5.1" height="5.1" fill="#DD8452"/>
<rect x="930.0" y="305.3" width="5.1" height="5.1" fill="#DD8452"/>
<rect x="954.0" y="305.3" width="5.1" height="5.1" fill="#DD8452"/>
<rect x="978.0" y="305.3" width="5.1" height="5.1" fill="#DD8452"/>
<rect x="1002.0" y="305.3" width="5.1" height="5.1" fill="#DD8452"/>
<rect x="1026.0" y="305.3" width="5.1" height="5.1" fill="#DD8452"/>
<rect x="1050.0" y="304.7" width="5.1" height="5.1" fill="#DD8452"/>
<rect x="1074.0" y="298.1" width="5.1" height="5.1" fill="#DD8452"/>
<rect x="1098.0" y="293.5" width="5.1" height="5.1" fill="#DD8452"/>
<rect x="1122.0" y="293.5" width="5.1" height="5.1" fill="#DD8452"/>
<rect x="1146.0" y="293.5" width="5.1" height="5.1" fill="#DD8452"/>
<rect x="1170.0" y="291.5" width="5.1" height="5.1" fill="#DD8452"/>
<rect x="1194.0" y="291.5" width="5.1" height="5.1" fill="#DD8452"/>
<rect x="1218.0" y="291.5" width="5.1" height="5.1" fill="#DD8452"/>
<rect x="1242.0" y="291.5" width="5.1" height="5.1" fill="#DD8452"/>
<rect x="1266.0" y="291.5" width="5.1" height="5.1" fill="#DD8452"/>
<rect x="1290.1" y="291.5" width="5.1" height="5.1" fill="#DD8452"/>
<rect x="1314.1" y="279.7" width="5.1" height="5.1" fill="#DD8452"/>
<rect x="1338.1" y="278.4" width="5.1" height="5.1" fill="#DD8452"/>
<polygon points="836.5,322.4 853.6,313.2 857.1,287.1 867.4,281.6 881.1,281.1 884.5,279.0 970.3,275.7 973.7,254.6 977.1,254.5 980.5,253.7 984.0,253.5 987.4,242.2 1038.8,240.3 1045.7,240.4 1049.1,240.5 1052.6,234.6 1056.0,234.7 1059.4,228.8 1066.3,229.0 1069.7,215.9 1073.1,216.0 1076.6,208.2 1080.0,208.2 1083.4,194.5 1104.0,194.9 1107.4,175.9 1124.6,176.2 1128.0,176.3 1131.4,167.8 1145.2,168.1 1148.6,164.9 1155.4,165.0 1158.9,158.5 1172.6,158.8 1176.0,151.0 1186.3,151.2 1189.7,143.3 1206.9,143.7 1210.3,143.1 1213.7,146.4 1217.2,140.5 1220.6,146.4 1224.0,139.1 1330.4,139.1 1333.8,139.1 1337.2,130.6 1347.5,130.6 1347.5,146.4 1337.2,146.4 1333.8,154.9 1330.4,154.9 1224.0,154.9 1220.6,173.9 1217.2,179.9 1213.7,192.3 1210.3,195.6 1206.9,196.3 1189.7,196.7 1186.3,204.6 1176.0,204.8 1172.6,212.8 1158.9,213.0 1155.4,219.7 1148.6,219.8 1145.2,223.1 1131.4,223.4 1128.0,232.0 1124.6,232.1 1107.4,232.4 1104.0,251.5 1083.4,251.9 1080.0,265.7 1076.6,265.8 1073.1,273.8 1069.7,273.8 1066.3,287.0 1059.4,287.2 1056.0,293.1 1052.6,293.2 1049.1,299.2 1045.7,299.2 1038.8,299.4 987.4,297.4 984.0,308.4 980.5,308.3 977.1,308.8 973.7,308.7 970.3,329.6 884.5,326.3 881.1,328.1 867.4,327.6 857.1,322.1 853.6,344.6 836.5,335.5" fill="#4C72B0" fill-opacity="0.2" clip-path="url(#c2)"/>
<polyline points="836.5,328.9 853.6,328.9 857.1,304.6 881.1,304.6 884.5,302.7 970.3,302.7 973.7,281.6 977.1,281.6 980.5,281.0 984.0,281.0 987.4,269.8 1045.7,269.8 1049.1,269.8 1052.6,263.9 1056.0,263.9 1059.4,258.0 1066.3,258.0 1069.7,244.9 1073.1,244.9 1076.6,237.0 1080.0,237.0 1083.4,223.2 1104.0,223.2 1107.4,204.2 1124.6,204.2 1128.0,204.2 1131.4,195.6 1145.2,195.6 1148.6,192.3 1155.4,192.3 1158.9,185.8 1172.6,185.8 1176.0,177.9 1186.3,177.9 1189.7,170.0 1206.9,170.0 1210.3,169.4 1213.7,169.4 1217.2,160.2 1220.6,160.2 1224.0,147.0 1330.4,147.0 1333.8,147.0 1337.2,138.5 1347.5,138.5" fill="none" stroke="#4C72B0" stroke-width="1.4" stroke-linejoin="round" clip-path="url(#c2)"/>
<circle cx="836.5" cy="328.9" r="2.8" fill="#4C72B0"/>
<circle cx="860.5" cy="304.6" r="2.8" fill="#4C72B0"/>
<circle cx="884.5" cy="302.7" r="2.8" fill="#4C72B0"/>
<circle cx="908.5" cy="302.7" r="2.8" fill="#4C72B0"/>
<circle cx="932.5" cy="302.7" r="2.8" fill="#4C72B0"/>
<circle cx="956.5" cy="302.7" r="2.8" fill="#4C72B0"/>
<circle cx="980.5" cy="281.0" r="2.8" fill="#4C72B0"/>
<circle cx="1004.5" cy="269.8" r="2.8" fill="#4C72B0"/>
<circle cx="1028.6" cy="269.8" r="2.8" fill="#4C72B0"/>
<circle cx="1052.6" cy="263.9" r="2.8" fill="#4C72B0"/>
<circle cx="1076.6" cy="237.0" r="2.8" fill="#4C72B0"/>
<circle cx="1100.6" cy="223.2" r="2.8" fill="#4C72B0"/>
<circle cx="1124.6" cy="204.2" r="2.8" fill="#4C72B0"/>
<circle cx="1148.6" cy="192.3" r="2.8" fill="#4C72B0"/>
<circle cx="1172.6" cy="185.8" r="2.8" fill="#4C72B0"/>
<circle cx="1196.6" cy="170.0" r="2.8" fill="#4C72B0"/>
<circle cx="1220.6" cy="160.2" r="2.8" fill="#4C72B0"/>
<circle cx="1244.6" cy="147.0" r="2.8" fill="#4C72B0"/>
<circle cx="1268.6" cy="147.0" r="2.8" fill="#4C72B0"/>
<circle cx="1292.6" cy="147.0" r="2.8" fill="#4C72B0"/>
<circle cx="1316.6" cy="147.0" r="2.8" fill="#4C72B0"/>
<circle cx="1340.6" cy="138.5" r="2.8" fill="#4C72B0"/>
<polygon points="153.5,707.4 158.6,691.8 165.0,682.8 179.1,681.7 190.7,677.9 204.8,673.9 222.7,670.7 230.4,664.5 242.0,654.8 248.4,645.8 256.1,636.3 267.6,627.7 280.4,623.2 281.7,622.8 293.2,612.0 307.3,599.1 325.3,592.4 333.0,581.8 344.5,577.0 358.6,567.4 384.3,553.2 399.6,548.0 409.9,542.3 435.5,539.7 461.2,534.7 486.8,530.0 512.4,527.9 538.1,523.7 563.7,521.9 589.4,520.9 615.0,517.6 640.6,517.0 665.0,516.3 665.0,521.7 640.6,522.8 615.0,524.0 589.4,527.8 563.7,529.4 538.1,531.7 512.4,536.4 486.8,539.1 461.2,544.2 435.5,549.8 409.9,553.0 399.6,558.9 384.3,564.4 358.6,579.1 344.5,589.0 333.0,594.0 325.3,604.8 307.3,611.8 293.2,625.1 281.7,636.1 280.4,636.5 267.6,640.6 256.1,648.8 248.4,658.0 242.0,666.8 230.4,676.1 222.7,682.0 204.8,684.6 190.7,688.1 179.1,691.4 165.0,692.1 158.6,700.9 153.5,716.3" fill="#937860" fill-opacity="0.2" clip-path="url(#c3)"/>
<polyline points="153.5,711.9 158.6,696.3 165.0,687.4 179.1,686.6 190.7,683.0 204.8,679.2 222.7,676.3 230.4,670.3 242.0,660.8 248.4,651.9 256.1,642.6 267.6,634.1 281.7,629.4 293.2,618.6 307.3,605.4 325.3,598.6 333.0,587.9 344.5,583.0 358.6,573.2 384.3,558.8 399.6,553.4 409.9,547.7 435.5,544.8 461.2,539.4 486.8,534.6 512.4,532.1 538.1,527.7 563.7,525.7 589.4,524.3 615.0,520.8 640.6,519.9 665.0,519.0" fill="none" stroke="#937860" stroke-width="1.4" stroke-linejoin="round" clip-path="url(#c3)"/>
<polygon points="153.5,709.5 154.1,711.0 155.7,711.2 154.5,712.2 154.9,713.8 153.5,712.9 152.1,713.8 152.5,712.2 151.3,711.2 152.9,711.0" fill="#937860"/>
<polygon points="179.1,684.2 179.8,685.7 181.4,685.8 180.1,686.9 180.5,688.4 179.1,687.6 177.8,688.4 178.1,686.9 176.9,685.8 178.5,685.7" fill="#937860"/>
<polygon points="204.8,676.9 205.4,678.4 207.0,678.5 205.8,679.5 206.2,681.1 204.8,680.3 203.4,681.1 203.8,679.5 202.6,678.5 204.2,678.4" fill="#937860"/>
<polygon points="230.4,668.0 231.0,669.5 232.6,669.6 231.4,670.7 231.8,672.2 230.4,671.4 229.0,672.2 229.4,670.7 228.2,669.6 229.8,669.5" fill="#937860"/>
<polygon points="256.1,640.2 256.7,641.7 258.3,641.8 257.1,642.9 257.4,644.4 256.1,643.6 254.7,644.4 255.1,642.9 253.8,641.8 255.4,641.7" fill="#937860"/>
<polygon points="281.7,627.1 282.3,628.6 283.9,628.7 282.7,629.8 283.1,631.3 281.7,630.5 280.3,631.3 280.7,629.8 279.5,628.7 281.1,628.6" fill="#937860"/>
<polygon points="307.3,603.1 308.0,604.6 309.6,604.7 308.3,605.8 308.7,607.3 307.3,606.5 306.0,607.3 306.3,605.8 305.1,604.7 306.7,604.6" fill="#937860"/>
<polygon points="333.0,585.5 333.6,587.0 335.2,587.2 334.0,588.2 334.3,589.8 333.0,588.9 331.6,589.8 332.0,588.2 330.7,587.2 332.4,587.0" fill="#937860"/>
<polygon points="358.6,570.9 359.2,572.4 360.8,572.5 359.6,573.5 360.0,575.1 358.6,574.3 357.2,575.1 357.6,573.5 356.4,572.5 358.0,572.4" fill="#937860"/>
<polygon points="384.3,556.4 384.9,557.9 386.5,558.1 385.3,559.1 385.6,560.7 384.3,559.8 382.9,560.7 383.3,559.1 382.0,558.1 383.6,557.9" fill="#937860"/>
<polygon points="409.9,545.3 410.5,546.8 412.1,546.9 410.9,548.0 411.3,549.6 409.9,548.7 408.5,549.6 408.9,548.0 407.7,546.9 409.3,546.8" fill="#937860"/>
<polygon points="435.5,542.4 436.1,543.9 437.8,544.1 436.5,545.1 436.9,546.7 435.5,545.8 434.2,546.7 434.5,545.1 433.3,544.1 434.9,543.9" fill="#937860"/>
<polygon points="461.2,537.1 461.8,538.6 463.4,538.7 462.2,539.8 462.5,541.3 461.2,540.5 459.8,541.3 460.2,539.8 458.9,538.7 460.6,538.6" fill="#937860"/>
<polygon points="486.8,532.2 487.4,533.7 489.0,533.8 487.8,534.9 488.2,536.4 486.8,535.6 485.4,536.4 485.8,534.9 484.6,533.8 486.2,533.7" fill="#937860"/>
<polygon points="512.4,529.8 513.1,531.3 514.7,531.4 513.4,532.4 513.8,534.0 512.4,533.2 511.1,534.0 511.4,532.4 510.2,531.4 511.8,531.3" fill="#937860"/>
<polygon points="538.1,525.3 538.7,526.8 540.3,526.9 539.1,528.0 539.5,529.6 538.1,528.7 536.7,529.6 537.1,528.0 535.9,526.9 537.5,526.8" fill="#937860"/>
<polygon points="563.7,523.3 564.3,524.8 566.0,524.9 564.7,526.0 565.1,527.6 563.7,526.7 562.4,527.6 562.7,526.0 561.5,524.9 563.1,524.8" fill="#937860"/>
<polygon points="589.4,522.0 590.0,523.5 591.6,523.6 590.4,524.7 590.7,526.2 589.4,525.4 588.0,526.2 588.4,524.7 587.1,523.6 588.7,523.5" fill="#937860"/>
<polygon points="615.0,518.4 615.6,519.9 617.2,520.1 616.0,521.1 616.4,522.7 615.0,521.8 613.6,522.7 614.0,521.1 612.8,520.1 614.4,519.9" fill="#937860"/>
<polygon points="640.6,517.5 641.3,519.0 642.9,519.2 641.6,520.2 642.0,521.8 640.6,520.9 639.3,521.8 639.6,520.2 638.4,519.2 640.0,519.0" fill="#937860"/>
<polygon points="153.5,696.3 158.6,685.2 165.0,680.7 179.1,674.9 190.7,671.5 204.8,668.9 216.3,666.8 230.4,665.1 248.4,663.1 256.1,663.0 511.2,663.4 512.4,662.5 665.0,662.8 665.0,672.6 512.4,672.8 511.2,673.7 256.1,674.1 248.4,674.0 230.4,675.6 216.3,677.0 204.8,678.9 190.7,681.2 179.1,684.4 165.0,689.8 158.6,694.2 153.5,705.2" fill="#8172B3" fill-opacity="0.2" clip-path="url(#c3)"/>
<polyline points="153.5,700.8 158.6,689.7 165.0,685.2 179.1,679.7 190.7,676.3 204.8,673.9 216.3,671.9 230.4,670.3 248.4,668.6 256.1,668.6 511.2,668.6 512.4,667.7 665.0,667.7" fill="none" stroke="#8172B3" stroke-width="1.4" stroke-linejoin="round" clip-path="url(#c3)"/>
<polygon points="153.5,703.7 156.5,698.6 150.5,698.6" fill="#8172B3"/>
<polygon points="179.1,682.6 182.1,677.4 176.2,677.4" fill="#8172B3"/>
<polygon points="204.8,676.9 207.7,671.7 201.8,671.7" fill="#8172B3"/>
<polygon points="230.4,673.3 233.4,668.1 227.5,668.1" fill="#8172B3"/>
<polygon points="256.1,671.5 259.0,666.3 253.1,666.3" fill="#8172B3"/>
<polygon points="281.7,671.5 284.7,666.3 278.7,666.3" fill="#8172B3"/>
<polygon points="307.3,671.5 310.3,666.3 304.4,666.3" fill="#8172B3"/>
<polygon points="333.0,671.5 335.9,666.3 330.0,666.3" fill="#8172B3"/>
<polygon points="358.6,671.5 361.6,666.3 355.6,666.3" fill="#8172B3"/>
<polygon points="384.3,671.5 387.2,666.3 381.3,666.3" fill="#8172B3"/>
<polygon points="409.9,671.5 412.9,666.3 406.9,666.3" fill="#8172B3"/>
<polygon points="435.5,671.5 438.5,666.3 432.6,666.3" fill="#8172B3"/>
<polygon points="461.2,671.5 464.1,666.3 458.2,666.3" fill="#8172B3"/>
<polygon points="486.8,671.5 489.8,666.3 483.8,666.3" fill="#8172B3"/>
<polygon points="512.4,670.6 515.4,665.4 509.5,665.4" fill="#8172B3"/>
<polygon points="538.1,670.6 541.1,665.4 535.1,665.4" fill="#8172B3"/>
<polygon points="563.7,670.6 566.7,665.4 560.8,665.4" fill="#8172B3"/>
<polygon points="589.4,670.6 592.3,665.4 586.4,665.4" fill="#8172B3"/>
<polygon points="615.0,670.6 618.0,665.4 612.0,665.4" fill="#8172B3"/>
<polygon points="640.6,670.6 643.6,665.4 637.7,665.4" fill="#8172B3"/>
<polygon points="153.5,713.0 156.1,693.0 158.6,675.2 165.0,666.3 179.1,665.2 190.7,659.6 204.8,659.1 230.4,655.3 248.4,652.8 256.1,651.7 281.7,648.9 307.3,644.9 325.3,641.5 333.0,636.6 357.3,633.7 376.6,630.3 384.3,628.7 409.9,627.1 412.5,620.7 461.2,619.7 563.7,618.6 615.0,618.0 626.5,614.2 640.6,610.4 665.0,609.7 665.0,618.6 640.6,619.2 626.5,622.9 615.0,626.7 563.7,627.0 461.2,627.7 412.5,628.5 409.9,634.9 384.3,636.4 376.6,637.9 357.3,641.2 333.0,644.1 325.3,648.9 307.3,652.2 281.7,656.2 256.1,658.8 248.4,659.9 230.4,662.3 204.8,666.0 190.7,666.4 179.1,671.9 165.0,673.0 158.6,681.9 156.1,699.7 153.5,719.7" fill="#C44E52" fill-opacity="0.2" clip-path="url(#c3)"/>
<polyline points="153.5,716.3 156.1,696.3 158.6,678.6 165.0,669.7 179.1,668.6 190.7,663.0 204.8,662.6 230.4,658.8 248.4,656.3 256.1,655.2 281.7,652.6 307.3,648.6 325.3,645.2 333.0,640.3 357.3,637.4 376.6,634.1 384.3,632.6 409.9,631.0 412.5,624.6 461.2,623.7 563.7,622.8 615.0,622.3 626.5,618.6 640.6,614.8 665.0,614.1" fill="none" stroke="#C44E52" stroke-width="1.4" stroke-linejoin="round" clip-path="url(#c3)"/>
<polygon points="153.5,713.4 156.5,718.6 150.5,718.6" fill="#C44E52"/>
<polygon points="179.1,665.6 182.1,670.8 176.2,670.8" fill="#C44E52"/>
<polygon points="204.8,659.6 207.7,664.8 201.8,664.8" fill="#C44E52"/>
<polygon points="230.4,655.8 233.4,661.0 227.5,661.0" fill="#C44E52"/>
<polygon points="256.1,652.3 259.0,657.4 253.1,657.4" fill="#C44E52"/>
<polygon points="281.7,649.6 284.7,654.8 278.7,654.8" fill="#C44E52"/>
<polygon points="307.3,645.6 310.3,650.8 304.4,650.8" fill="#C44E52"/>
<polygon points="333.0,637.4 335.9,642.6 330.0,642.6" fill="#C44E52"/>
<polygon points="358.6,634.3 361.6,639.4 355.6,639.4" fill="#C44E52"/>
<polygon points="384.3,629.6 387.2,634.8 381.3,634.8" fill="#C44E52"/>
<polygon points="409.9,628.0 412.9,633.2 406.9,633.2" fill="#C44E52"/>
<polygon points="435.5,621.2 438.5,626.4 432.6,626.4" fill="#C44E52"/>
<polygon points="461.2,620.7 464.1,625.9 458.2,625.9" fill="#C44E52"/>
<polygon points="486.8,620.5 489.8,625.7 483.8,625.7" fill="#C44E52"/>
<polygon points="512.4,620.3 515.4,625.4 509.5,625.4" fill="#C44E52"/>
<polygon points="538.1,620.0 541.1,625.2 535.1,625.2" fill="#C44E52"/>
<polygon points="563.7,619.8 566.7,625.0 560.8,625.0" fill="#C44E52"/>
<polygon points="589.4,619.6 592.3,624.8 586.4,624.8" fill="#C44E52"/>
<polygon points="615.0,619.4 618.0,624.6 612.0,624.6" fill="#C44E52"/>
<polygon points="640.6,611.8 643.6,617.0 637.7,617.0" fill="#C44E52"/>
<polygon points="153.5,721.2 158.6,719.0 165.0,717.9 179.1,717.2 204.8,715.7 230.4,714.8 256.1,712.6 333.0,711.7 384.3,711.2 409.9,711.0 427.8,709.4 615.0,708.6 640.6,707.0 665.0,707.0 665.0,710.6 640.6,710.6 615.0,712.1 427.8,713.0 409.9,714.6 384.3,714.8 333.0,715.2 256.1,716.1 230.4,718.3 204.8,719.2 179.1,720.8 165.0,721.4 158.6,722.6 153.5,724.8" fill="#55A868" fill-opacity="0.2" clip-path="url(#c3)"/>
<polyline points="153.5,723.0 158.6,720.8 165.0,719.7 179.1,719.0 204.8,717.4 230.4,716.6 256.1,714.3 333.0,713.4 384.3,713.0 409.9,712.8 427.8,711.2 615.0,710.3 640.6,708.8 665.0,708.8" fill="none" stroke="#55A868" stroke-width="1.4" stroke-linejoin="round" clip-path="url(#c3)"/>
<polygon points="153.5,719.4 157.1,723.0 153.5,726.6 149.9,723.0" fill="#55A868"/>
<polygon points="179.1,715.4 182.7,719.0 179.1,722.6 175.6,719.0" fill="#55A868"/>
<polygon points="204.8,713.9 208.4,717.4 204.8,721.0 201.2,717.4" fill="#55A868"/>
<polygon points="230.4,713.0 234.0,716.6 230.4,720.1 226.8,716.6" fill="#55A868"/>
<polygon points="256.1,710.7 259.6,714.3 256.1,717.9 252.5,714.3" fill="#55A868"/>
<polygon points="281.7,710.4 285.3,714.0 281.7,717.6 278.1,714.0" fill="#55A868"/>
<polygon points="307.3,710.2 310.9,713.7 307.3,717.3 303.7,713.7" fill="#55A868"/>
<polygon points="333.0,709.9 336.6,713.4 333.0,717.0 329.4,713.4" fill="#55A868"/>
<polygon points="358.6,709.6 362.2,713.2 358.6,716.8 355.0,713.2" fill="#55A868"/>
<polygon points="384.3,709.4 387.8,713.0 384.3,716.6 380.7,713.0" fill="#55A868"/>
<polygon points="409.9,709.2 413.5,712.8 409.9,716.4 406.3,712.8" fill="#55A868"/>
<polygon points="435.5,707.6 439.1,711.2 435.5,714.8 431.9,711.2" fill="#55A868"/>
<polygon points="461.2,707.5 464.8,711.1 461.2,714.7 457.6,711.1" fill="#55A868"/>
<polygon points="486.8,707.4 490.4,710.9 486.8,714.5 483.2,710.9" fill="#55A868"/>
<polygon points="512.4,707.2 516.0,710.8 512.4,714.4 508.9,710.8" fill="#55A868"/>
<polygon points="538.1,707.1 541.7,710.7 538.1,714.3 534.5,710.7" fill="#55A868"/>
<polygon points="563.7,707.0 567.3,710.6 563.7,714.2 560.1,710.6" fill="#55A868"/>
<polygon points="589.4,706.9 593.0,710.5 589.4,714.0 585.8,710.5" fill="#55A868"/>
<polygon points="615.0,706.7 618.6,710.3 615.0,713.9 611.4,710.3" fill="#55A868"/>
<polygon points="640.6,705.2 644.2,708.8 640.6,712.4 637.1,708.8" fill="#55A868"/>
<polygon points="153.5,711.9 156.1,682.9 158.6,667.3 165.0,660.4 179.1,651.8 190.7,637.5 204.8,631.5 216.3,627.8 229.1,626.0 230.4,625.9 248.4,620.8 256.1,617.7 274.0,616.3 281.7,608.1 307.3,605.9 325.3,600.8 333.0,598.6 344.5,595.2 358.6,591.2 384.3,590.3 402.2,587.0 403.5,582.1 404.8,566.1 435.5,564.5 461.2,563.2 615.0,561.2 620.1,557.8 644.5,557.6 645.8,553.8 665.0,553.0 665.0,597.4 645.8,597.9 644.5,601.7 620.1,601.5 615.0,604.8 461.2,604.1 435.5,605.0 404.8,606.1 403.5,599.9 402.2,604.8 384.3,608.1 358.6,609.0 344.5,613.0 333.0,616.3 325.3,618.6 307.3,623.7 281.7,625.9 274.0,634.1 256.1,635.4 248.4,638.6 230.4,643.7 229.1,643.8 216.3,644.8 204.8,647.8 190.7,653.0 179.1,666.6 165.0,674.5 158.6,680.9 156.1,696.4 153.5,725.2" fill="#DD8452" fill-opacity="0.2" clip-path="url(#c3)"/>
<polyline points="153.5,718.6 156.1,689.7 158.6,674.1 165.0,667.4 179.1,659.2 190.7,645.2 204.8,639.7 216.3,636.3 230.4,634.8 248.4,629.7 256.1,626.6 274.0,625.2 281.7,617.0 307.3,614.8 325.3,609.7 333.0,607.4 344.5,604.1 358.6,600.1 384.3,599.2 402.2,595.9 404.8,586.1 435.5,584.8 461.2,583.7 615.0,583.0 620.1,579.7 644.5,579.7 645.8,575.9 665.0,575.2" fill="none" stroke="#DD8452" stroke-width="1.4" stroke-linejoin="round" clip-path="url(#c3)"/>
<rect x="150.9" y="716.0" width="5.1" height="5.1" fill="#DD8452"/>
<rect x="176.6" y="656.6" width="5.1" height="5.1" fill="#DD8452"/>
<rect x="202.2" y="637.1" width="5.1" height="5.1" fill="#DD8452"/>
<rect x="227.8" y="632.2" width="5.1" height="5.1" fill="#DD8452"/>
<rect x="253.5" y="624.0" width="5.1" height="5.1" fill="#DD8452"/>
<rect x="279.1" y="614.4" width="5.1" height="5.1" fill="#DD8452"/>
<rect x="304.8" y="612.2" width="5.1" height="5.1" fill="#DD8452"/>
<rect x="330.4" y="604.9" width="5.1" height="5.1" fill="#DD8452"/>
<rect x="356.0" y="597.5" width="5.1" height="5.1" fill="#DD8452"/>
<rect x="381.7" y="596.6" width="5.1" height="5.1" fill="#DD8452"/>
<rect x="407.3" y="583.3" width="5.1" height="5.1" fill="#DD8452"/>
<rect x="433.0" y="582.2" width="5.1" height="5.1" fill="#DD8452"/>
<rect x="458.6" y="581.1" width="5.1" height="5.1" fill="#DD8452"/>
<rect x="484.2" y="581.0" width="5.1" height="5.1" fill="#DD8452"/>
<rect x="509.9" y="580.9" width="5.1" height="5.1" fill="#DD8452"/>
<rect x="535.5" y="580.8" width="5.1" height="5.1" fill="#DD8452"/>
<rect x="561.2" y="580.6" width="5.1" height="5.1" fill="#DD8452"/>
<rect x="586.8" y="580.5" width="5.1" height="5.1" fill="#DD8452"/>
<rect x="612.4" y="580.4" width="5.1" height="5.1" fill="#DD8452"/>
<rect x="638.1" y="577.1" width="5.1" height="5.1" fill="#DD8452"/>
<polygon points="153.5,698.6 156.1,678.6 158.6,665.2 162.5,661.9 179.1,660.8 190.7,651.9 204.8,648.8 222.7,645.2 230.4,643.9 242.0,638.6 256.1,632.8 274.0,629.7 281.7,625.9 293.2,623.0 307.3,618.3 325.3,616.8 333.0,616.3 350.9,614.1 358.6,611.9 370.2,605.4 384.3,600.8 402.2,595.2 408.6,593.7 409.9,593.5 435.5,590.1 441.9,589.9 443.2,579.9 479.1,579.7 486.8,578.0 506.0,577.0 509.9,569.7 538.1,568.8 563.7,567.6 589.4,567.1 640.6,566.6 648.3,561.8 665.0,561.9 665.0,567.2 648.3,567.3 640.6,572.3 589.4,573.5 563.7,574.4 538.1,575.9 509.9,577.2 506.0,584.5 486.8,585.8 479.1,587.6 443.2,588.3 441.9,598.3 435.5,598.6 409.9,602.3 408.6,602.6 402.2,604.1 384.3,609.7 370.2,614.3 358.6,620.8 350.9,623.0 333.0,625.2 325.3,625.7 307.3,627.2 293.2,631.9 281.7,634.8 274.0,638.6 256.1,641.7 242.0,647.4 230.4,652.8 222.7,654.1 204.8,657.7 190.7,660.8 179.1,669.7 162.5,670.8 158.6,674.1 156.1,687.4 153.5,707.4" fill="#4C72B0" fill-opacity="0.2" clip-path="url(#c3)"/>
<polyline points="153.5,703.0 156.1,683.0 158.6,669.7 162.5,666.3 179.1,665.2 190.7,656.3 204.8,653.2 222.7,649.7 230.4,648.3 242.0,643.0 256.1,637.2 274.0,634.1 281.7,630.3 293.2,627.4 307.3,622.8 325.3,621.2 333.0,620.8 350.9,618.6 358.6,616.3 370.2,609.9 384.3,605.2 402.2,599.7 409.9,597.9 435.5,594.3 441.9,594.1 443.2,584.1 479.1,583.7 486.8,581.9 506.0,580.8 509.9,573.4 538.1,572.3 563.7,571.0 589.4,570.3 640.6,569.4 648.3,564.6 665.0,564.6" fill="none" stroke="#4C72B0" stroke-width="1.4" stroke-linejoin="round" clip-path="url(#c3)"/>
<circle cx="153.5" cy="703.0" r="2.8" fill="#4C72B0"/>
<circle cx="179.1" cy="665.2" r="2.8" fill="#4C72B0"/>
<circle cx="204.8" cy="653.2" r="2.8" fill="#4C72B0"/>
<circle cx="230.4" cy="648.3" r="2.8" fill="#4C72B0"/>
<circle cx="256.1" cy="637.2" r="2.8" fill="#4C72B0"/>
<circle cx="281.7" cy="630.3" r="2.8" fill="#4C72B0"/>
<circle cx="307.3" cy="622.8" r="2.8" fill="#4C72B0"/>
<circle cx="333.0" cy="620.8" r="2.8" fill="#4C72B0"/>
<circle cx="358.6" cy="616.3" r="2.8" fill="#4C72B0"/>
<circle cx="384.3" cy="605.2" r="2.8" fill="#4C72B0"/>
<circle cx="409.9" cy="597.9" r="2.8" fill="#4C72B0"/>
<circle cx="435.5" cy="594.3" r="2.8" fill="#4C72B0"/>
<circle cx="461.2" cy="583.9" r="2.8" fill="#4C72B0"/>
<circle cx="486.8" cy="581.9" r="2.8" fill="#4C72B0"/>
<circle cx="512.4" cy="573.3" r="2.8" fill="#4C72B0"/>
<circle cx="538.1" cy="572.3" r="2.8" fill="#4C72B0"/>
<circle cx="563.7" cy="571.0" r="2.8" fill="#4C72B0"/>
<circle cx="589.4" cy="570.3" r="2.8" fill="#4C72B0"/>
<circle cx="615.0" cy="569.9" r="2.8" fill="#4C72B0"/>
<circle cx="640.6" cy="569.4" r="2.8" fill="#4C72B0"/>
<polygon points="836.5,713.4 850.3,708.6 857.1,706.2 860.6,698.7 867.5,696.3 884.7,695.9 888.1,695.8 891.5,680.4 905.3,680.0 908.7,678.2 915.6,678.1 919.1,669.5 929.4,669.2 932.8,655.1 936.2,655.0 939.7,649.8 953.4,649.5 956.9,641.7 977.5,641.2 981.0,640.2 984.4,640.2 987.8,623.0 1001.6,622.7 1005.0,618.4 1032.6,617.7 1036.0,605.7 1039.4,605.6 1101.3,608.4 1104.8,608.6 1108.2,600.2 1135.7,601.5 1139.2,583.4 1142.6,583.5 1146.1,579.9 1149.5,563.4 1170.1,564.4 1173.6,562.0 1177.0,562.1 1276.8,563.4 1280.2,554.9 1290.5,555.0 1294.0,554.2 1297.4,554.2 1300.8,550.0 1349.0,550.6 1349.0,567.7 1300.8,568.3 1297.4,572.6 1294.0,572.6 1290.5,573.5 1280.2,573.6 1276.8,582.2 1177.0,583.4 1173.6,583.6 1170.1,586.3 1149.5,587.3 1146.1,604.0 1142.6,608.0 1139.2,608.2 1135.7,626.7 1108.2,627.9 1104.8,636.6 1101.3,636.8 1039.4,639.7 1036.0,639.6 1032.6,651.4 1005.0,650.7 1001.6,654.9 987.8,654.6 984.4,671.5 981.0,671.4 977.5,672.2 956.9,671.7 953.4,679.3 939.7,678.9 936.2,684.0 932.8,683.9 929.4,697.8 919.1,697.6 915.6,706.0 908.7,705.9 905.3,707.5 891.5,707.1 888.1,722.4 884.7,722.3 867.5,721.9 860.6,719.5 857.1,724.7 850.3,722.3 836.5,717.6" fill="#937860" fill-opacity="0.2" clip-path="url(#c4)"/>
<polyline points="836.5,715.5 850.3,715.5 857.1,715.5 860.6,709.1 884.7,709.1 888.1,709.1 891.5,693.8 905.3,693.8 908.7,692.0 915.6,692.0 919.1,683.5 929.4,683.5 932.8,669.5 936.2,669.5 939.7,664.4 953.4,664.4 956.9,656.7 977.5,656.7 981.0,655.8 984.4,655.8 987.8,638.8 1001.6,638.8 1005.0,634.5 1032.6,634.5 1036.0,622.6 1101.3,622.6 1104.8,622.6 1108.2,614.1 1135.7,614.1 1139.2,595.8 1142.6,595.8 1146.1,591.9 1149.5,575.3 1170.1,575.3 1173.6,572.8 1276.8,572.8 1280.2,564.2 1290.5,564.2 1294.0,563.4 1297.4,563.4 1300.8,559.1 1349.0,559.1" fill="none" stroke="#937860" stroke-width="1.4" stroke-linejoin="round" clip-path="url(#c4)"/>
<polygon points="836.5,713.1 837.1,714.6 838.7,714.8 837.5,715.8 837.9,717.4 836.5,716.5 835.1,717.4 835.5,715.8 834.3,714.8 835.9,714.6" fill="#937860"/>
<polygon points="860.6,706.8 861.2,708.2 862.8,708.4 861.6,709.4 862.0,711.0 860.6,710.1 859.2,711.0 859.6,709.4 858.4,708.4 860.0,708.2" fill="#937860"/>
<polygon points="884.7,706.8 885.3,708.2 886.9,708.4 885.7,709.4 886.0,711.0 884.7,710.1 883.3,711.0 883.7,709.4 882.4,708.4 884.0,708.2" fill="#937860"/>
<polygon points="908.7,689.7 909.4,691.2 911.0,691.3 909.7,692.4 910.1,693.9 908.7,693.1 907.4,693.9 907.7,692.4 906.5,691.3 908.1,691.2" fill="#937860"/>
<polygon points="932.8,667.1 933.4,668.6 935.0,668.7 933.8,669.8 934.2,671.4 932.8,670.5 931.4,671.4 931.8,669.8 930.6,668.7 932.2,668.6" fill="#937860"/>
<polygon points="956.9,654.4 957.5,655.8 959.1,656.0 957.9,657.0 958.3,658.6 956.9,657.7 955.5,658.6 955.9,657.0 954.7,656.0 956.3,655.8" fill="#937860"/>
<polygon points="981.0,653.5 981.6,655.0 983.2,655.1 982.0,656.2 982.3,657.7 981.0,656.9 979.6,657.7 980.0,656.2 978.7,655.1 980.3,655.0" fill="#937860"/>
<polygon points="1005.0,632.2 1005.7,633.7 1007.3,633.8 1006.0,634.9 1006.4,636.4 1005.0,635.6 1003.7,636.4 1004.0,634.9 1002.8,633.8 1004.4,633.7" fill="#937860"/>
<polygon points="1029.1,632.2 1029.7,633.7 1031.3,633.8 1030.1,634.9 1030.5,636.4 1029.1,635.6 1027.7,636.4 1028.1,634.9 1026.9,633.8 1028.5,633.7" fill="#937860"/>
<polygon points="1053.2,620.3 1053.8,621.8 1055.4,621.9 1054.2,622.9 1054.6,624.5 1053.2,623.7 1051.8,624.5 1052.2,622.9 1051.0,621.9 1052.6,621.8" fill="#937860"/>
<polygon points="1077.3,620.3 1077.9,621.8 1079.5,621.9 1078.3,622.9 1078.6,624.5 1077.3,623.7 1075.9,624.5 1076.3,622.9 1075.0,621.9 1076.7,621.8" fill="#937860"/>
<polygon points="1101.3,620.3 1102.0,621.8 1103.6,621.9 1102.4,622.9 1102.7,624.5 1101.3,623.7 1100.0,624.5 1100.3,622.9 1099.1,621.9 1100.7,621.8" fill="#937860"/>
<polygon points="1125.4,611.8 1126.0,613.2 1127.7,613.4 1126.4,614.4 1126.8,616.0 1125.4,615.1 1124.1,616.0 1124.4,614.4 1123.2,613.4 1124.8,613.2" fill="#937860"/>
<polygon points="1149.5,573.0 1150.1,574.5 1151.7,574.6 1150.5,575.7 1150.9,577.2 1149.5,576.4 1148.1,577.2 1148.5,575.7 1147.3,574.6 1148.9,574.5" fill="#937860"/>
<polygon points="1173.6,570.4 1174.2,571.9 1175.8,572.0 1174.6,573.1 1175.0,574.7 1173.6,573.8 1172.2,574.7 1172.6,573.1 1171.4,572.0 1173.0,571.9" fill="#937860"/>
<polygon points="1197.7,570.4 1198.3,571.9 1199.9,572.0 1198.7,573.1 1199.0,574.7 1197.7,573.8 1196.3,574.7 1196.7,573.1 1195.4,572.0 1197.0,571.9" fill="#937860"/>
<polygon points="1221.7,570.4 1222.4,571.9 1224.0,572.0 1222.7,573.1 1223.1,574.7 1221.7,573.8 1220.4,574.7 1220.7,573.1 1219.5,572.0 1221.1,571.9" fill="#937860"/>
<polygon points="1245.8,570.4 1246.4,571.9 1248.0,572.0 1246.8,573.1 1247.2,574.7 1245.8,573.8 1244.4,574.7 1244.8,573.1 1243.6,572.0 1245.2,571.9" fill="#937860"/>
<polygon points="1269.9,570.4 1270.5,571.9 1272.1,572.0 1270.9,573.1 1271.3,574.7 1269.9,573.8 1268.5,574.7 1268.9,573.1 1267.7,572.0 1269.3,571.9" fill="#937860"/>
<polygon points="1294.0,561.1 1294.6,562.5 1296.2,562.7 1295.0,563.7 1295.3,565.3 1294.0,564.5 1292.6,565.3 1293.0,563.7 1291.7,562.7 1293.3,562.5" fill="#937860"/>
<polygon points="1318.0,556.8 1318.7,558.3 1320.3,558.4 1319.0,559.5 1319.4,561.0 1318.0,560.2 1316.7,561.0 1317.0,559.5 1315.8,558.4 1317.4,558.3" fill="#937860"/>
<polygon points="1342.1,556.8 1342.7,558.3 1344.3,558.4 1343.1,559.5 1343.5,561.0 1342.1,560.2 1340.7,561.0 1341.1,559.5 1339.9,558.4 1341.5,558.3" fill="#937860"/>
<polygon points="836.5,717.6 981.0,715.6 984.4,715.5 987.8,710.4 1005.0,710.4 1008.5,710.4 1011.9,689.1 1073.8,689.2 1077.3,688.4 1122.0,688.5 1125.4,688.1 1139.2,688.1 1142.6,686.4 1345.6,686.9 1349.0,685.7 1349.0,709.5 1345.6,710.8 1142.6,711.3 1139.2,713.0 1125.4,713.1 1122.0,713.5 1077.3,713.6 1073.8,714.5 1011.9,714.6 1008.5,718.9 1005.0,718.9 987.8,718.9 984.4,724.0 981.0,723.9 836.5,721.9" fill="#8172B3" fill-opacity="0.2" clip-path="url(#c4)"/>
<polyline points="836.5,719.7 981.0,719.7 984.4,719.7 987.8,714.6 1005.0,714.6 1008.5,714.6 1011.9,701.8 1073.8,701.8 1077.3,701.0 1122.0,701.0 1125.4,700.6 1139.2,700.6 1142.6,698.9 1345.6,698.9 1349.0,697.6" fill="none" stroke="#8172B3" stroke-width="1.4" stroke-linejoin="round" clip-path="url(#c4)"/>
<polygon points="836.5,722.7 839.5,717.5 833.5,717.5" fill="#8172B3"/>
<polygon points="860.6,722.7 863.5,717.5 857.6,717.5" fill="#8172B3"/>
<polygon points="884.7,722.7 887.6,717.5 881.7,717.5" fill="#8172B3"/>
<polygon points="908.7,722.7 911.7,717.5 905.8,717.5" fill="#8172B3"/>
<polygon points="932.8,722.7 935.8,717.5 929.8,717.5" fill="#8172B3"/>
<polygon points="956.9,722.7 959.8,717.5 953.9,717.5" fill="#8172B3"/>
<polygon points="981.0,722.7 983.9,717.5 978.0,717.5" fill="#8172B3"/>
<polygon points="1005.0,717.6 1008.0,712.4 1002.1,712.4" fill="#8172B3"/>
<polygon points="1029.1,704.8 1032.1,699.6 1026.2,699.6" fill="#8172B3"/>
<polygon points="1053.2,704.8 1056.2,699.6 1050.2,699.6" fill="#8172B3"/>
<polygon points="1077.3,704.0 1080.2,698.8 1074.3,698.8" fill="#8172B3"/>
<polygon points="1101.3,704.0 1104.3,698.8 1098.4,698.8" fill="#8172B3"/>
<polygon points="1125.4,703.5 1128.4,698.3 1122.5,698.3" fill="#8172B3"/>
<polygon points="1149.5,701.8 1152.5,696.6 1146.5,696.6" fill="#8172B3"/>
<polygon points="1173.6,701.8 1176.5,696.6 1170.6,696.6" fill="#8172B3"/>
<polygon points="1197.7,701.8 1200.6,696.6 1194.7,696.6" fill="#8172B3"/>
<polygon points="1221.7,701.8 1224.7,696.6 1218.8,696.6" fill="#8172B3"/>
<polygon points="1245.8,701.8 1248.8,696.6 1242.8,696.6" fill="#8172B3"/>
<polygon points="1269.9,701.8 1272.9,696.6 1266.9,696.6" fill="#8172B3"/>
<polygon points="1294.0,701.8 1296.9,696.6 1291.0,696.6" fill="#8172B3"/>
<polygon points="1318.0,701.8 1321.0,696.6 1315.1,696.6" fill="#8172B3"/>
<polygon points="1342.1,701.8 1345.1,696.6 1339.2,696.6" fill="#8172B3"/>
<polygon points="836.5,712.1 850.3,712.1 852.3,669.9 853.7,658.8 857.1,658.8 860.6,658.0 908.7,658.0 915.6,658.0 919.1,654.1 929.4,654.1 932.8,652.9 977.5,652.9 981.0,652.0 1349.0,652.0 1349.0,707.4 981.0,707.4 977.5,708.2 932.8,708.2 929.4,709.5 919.1,709.5 915.6,713.4 908.7,713.4 860.6,713.4 857.1,714.2 853.7,714.2 852.3,725.3 850.3,716.3 836.5,716.3" fill="#C44E52" fill-opacity="0.2" clip-path="url(#c4)"/>
<polyline points="836.5,714.2 850.3,714.2 853.7,686.5 857.1,686.5 860.6,685.7 908.7,685.7 915.6,685.7 919.1,681.8 929.4,681.8 932.8,680.5 977.5,680.5 981.0,679.7 1349.0,679.7" fill="none" stroke="#C44E52" stroke-width="1.4" stroke-linejoin="round" clip-path="url(#c4)"/>
<polygon points="836.5,711.2 839.5,716.4 833.5,716.4" fill="#C44E52"/>
<polygon points="860.6,682.7 863.5,687.9 857.6,687.9" fill="#C44E52"/>
<polygon points="884.7,682.7 887.6,687.9 881.7,687.9" fill="#C44E52"/>
<polygon points="908.7,682.7 911.7,687.9 905.8,687.9" fill="#C44E52"/>
<polygon points="932.8,677.6 935.8,682.8 929.8,682.8" fill="#C44E52"/>
<polygon points="956.9,677.6 959.8,682.8 953.9,682.8" fill="#C44E52"/>
<polygon points="981.0,676.7 983.9,681.9 978.0,681.9" fill="#C44E52"/>
<polygon points="1005.0,676.7 1008.0,681.9 1002.1,681.9" fill="#C44E52"/>
<polygon points="1029.1,676.7 1032.1,681.9 1026.2,681.9" fill="#C44E52"/>
<polygon points="1053.2,676.7 1056.2,681.9 1050.2,681.9" fill="#C44E52"/>
<polygon points="1077.3,676.7 1080.2,681.9 1074.3,681.9" fill="#C44E52"/>
<polygon points="1101.3,676.7 1104.3,681.9 1098.4,681.9" fill="#C44E52"/>
<polygon points="1125.4,676.7 1128.4,681.9 1122.5,681.9" fill="#C44E52"/>
<polygon points="1149.5,676.7 1152.5,681.9 1146.5,681.9" fill="#C44E52"/>
<polygon points="1173.6,676.7 1176.5,681.9 1170.6,681.9" fill="#C44E52"/>
<polygon points="1197.7,676.7 1200.6,681.9 1194.7,681.9" fill="#C44E52"/>
<polygon points="1221.7,676.7 1224.7,681.9 1218.8,681.9" fill="#C44E52"/>
<polygon points="1245.8,676.7 1248.8,681.9 1242.8,681.9" fill="#C44E52"/>
<polygon points="1269.9,676.7 1272.9,681.9 1266.9,681.9" fill="#C44E52"/>
<polygon points="1294.0,676.7 1296.9,681.9 1291.0,681.9" fill="#C44E52"/>
<polygon points="1318.0,676.7 1321.0,681.9 1315.1,681.9" fill="#C44E52"/>
<polygon points="1342.1,676.7 1345.1,681.9 1339.2,681.9" fill="#C44E52"/>
<polygon points="836.5,723.1 1349.0,723.1 1349.0,724.9 836.5,724.9" fill="#55A868" fill-opacity="0.2" clip-path="url(#c4)"/>
<polyline points="836.5,724.0 1349.0,724.0" fill="none" stroke="#55A868" stroke-width="1.4" stroke-linejoin="round" clip-path="url(#c4)"/>
<polygon points="836.5,720.4 840.1,724.0 836.5,727.6 832.9,724.0" fill="#55A868"/>
<polygon points="860.6,720.4 864.2,724.0 860.6,727.6 857.0,724.0" fill="#55A868"/>
<polygon points="884.7,720.4 888.2,724.0 884.7,727.6 881.1,724.0" fill="#55A868"/>
<polygon points="908.7,720.4 912.3,724.0 908.7,727.6 905.1,724.0" fill="#55A868"/>
<polygon points="932.8,720.4 936.4,724.0 932.8,727.6 929.2,724.0" fill="#55A868"/>
<polygon points="956.9,720.4 960.5,724.0 956.9,727.6 953.3,724.0" fill="#55A868"/>
<polygon points="981.0,720.4 984.6,724.0 981.0,727.6 977.4,724.0" fill="#55A868"/>
<polygon points="1005.0,720.4 1008.6,724.0 1005.0,727.6 1001.5,724.0" fill="#55A868"/>
<polygon points="1029.1,720.4 1032.7,724.0 1029.1,727.6 1025.5,724.0" fill="#55A868"/>
<polygon points="1053.2,720.4 1056.8,724.0 1053.2,727.6 1049.6,724.0" fill="#55A868"/>
<polygon points="1077.3,720.4 1080.9,724.0 1077.3,727.6 1073.7,724.0" fill="#55A868"/>
<polygon points="1101.3,720.4 1104.9,724.0 1101.3,727.6 1097.8,724.0" fill="#55A868"/>
<polygon points="1125.4,720.4 1129.0,724.0 1125.4,727.6 1121.8,724.0" fill="#55A868"/>
<polygon points="1149.5,720.4 1153.1,724.0 1149.5,727.6 1145.9,724.0" fill="#55A868"/>
<polygon points="1173.6,720.4 1177.2,724.0 1173.6,727.6 1170.0,724.0" fill="#55A868"/>
<polygon points="1197.7,720.4 1201.2,724.0 1197.7,727.6 1194.1,724.0" fill="#55A868"/>
<polygon points="1221.7,720.4 1225.3,724.0 1221.7,727.6 1218.1,724.0" fill="#55A868"/>
<polygon points="1245.8,720.4 1249.4,724.0 1245.8,727.6 1242.2,724.0" fill="#55A868"/>
<polygon points="1269.9,720.4 1273.5,724.0 1269.9,727.6 1266.3,724.0" fill="#55A868"/>
<polygon points="1294.0,720.4 1297.6,724.0 1294.0,727.6 1290.4,724.0" fill="#55A868"/>
<polygon points="1318.0,720.4 1321.6,724.0 1318.0,727.6 1314.5,724.0" fill="#55A868"/>
<polygon points="1342.1,720.4 1345.7,724.0 1342.1,727.6 1338.5,724.0" fill="#55A868"/>
<polygon points="836.5,712.9 1005.0,710.8 1008.5,710.8 1011.9,702.6 1073.8,701.9 1077.3,700.5 1170.1,699.4 1173.6,698.5 1177.0,694.2 1180.5,694.2 1183.9,649.5 1194.2,649.5 1197.7,647.3 1201.1,647.3 1204.5,634.5 1242.4,634.5 1245.8,633.7 1259.6,633.7 1263.0,628.6 1294.0,628.6 1297.4,628.6 1300.8,613.2 1314.6,613.2 1318.0,606.0 1321.5,606.0 1324.9,587.7 1349.0,587.7 1349.0,643.1 1324.9,643.1 1321.5,661.4 1318.0,661.4 1314.6,668.6 1300.8,668.6 1297.4,684.0 1294.0,684.0 1263.0,684.0 1259.6,689.1 1245.8,689.1 1242.4,689.9 1204.5,689.9 1201.1,702.7 1197.7,702.7 1194.2,704.8 1183.9,704.8 1180.5,711.2 1177.0,711.2 1173.6,715.4 1170.1,716.2 1077.3,715.1 1073.8,716.3 1011.9,715.6 1008.5,723.6 1005.0,723.6 836.5,721.4" fill="#DD8452" fill-opacity="0.2" clip-path="url(#c4)"/>
<polyline points="836.5,717.2 1005.0,717.2 1008.5,717.2 1011.9,709.1 1073.8,709.1 1077.3,707.8 1170.1,707.8 1173.6,707.0 1177.0,702.7 1180.5,702.7 1183.9,677.1 1194.2,677.1 1197.7,675.0 1201.1,675.0 1204.5,662.2 1242.4,662.2 1245.8,661.4 1259.6,661.4 1263.0,656.3 1294.0,656.3 1297.4,656.3 1300.8,640.9 1314.6,640.9 1318.0,633.7 1321.5,633.7 1324.9,615.4 1349.0,615.4" fill="none" stroke="#DD8452" stroke-width="1.4" stroke-linejoin="round" clip-path="url(#c4)"/>
<rect x="833.9" y="714.6" width="5.1" height="5.1" fill="#DD8452"/>
<rect x="858.0" y="714.6" width="5.1" height="5.1" fill="#DD8452"/>
<rect x="882.1" y="714.6" width="5.1" height="5.1" fill="#DD8452"/>
<rect x="906.2" y="714.6" width="5.1" height="5.1" fill="#DD8452"/>
<rect x="930.2" y="714.6" width="5.1" height="5.1" fill="#DD8452"/>
<rect x="954.3" y="714.6" width="5.1" height="5.1" fill="#DD8452"/>
<rect x="978.4" y="714.6" width="5.1" height="5.1" fill="#DD8452"/>
<rect x="1002.5" y="714.6" width="5.1" height="5.1" fill="#DD8452"/>
<rect x="1026.5" y="706.5" width="5.1" height="5.1" fill="#DD8452"/>
<rect x="1050.6" y="706.5" width="5.1" height="5.1" fill="#DD8452"/>
<rect x="1074.7" y="705.2" width="5.1" height="5.1" fill="#DD8452"/>
<rect x="1098.8" y="705.2" width="5.1" height="5.1" fill="#DD8452"/>
<rect x="1122.9" y="705.2" width="5.1" height="5.1" fill="#DD8452"/>
<rect x="1146.9" y="705.2" width="5.1" height="5.1" fill="#DD8452"/>
<rect x="1171.0" y="704.4" width="5.1" height="5.1" fill="#DD8452"/>
<rect x="1195.1" y="672.4" width="5.1" height="5.1" fill="#DD8452"/>
<rect x="1219.2" y="659.7" width="5.1" height="5.1" fill="#DD8452"/>
<rect x="1243.2" y="658.8" width="5.1" height="5.1" fill="#DD8452"/>
<rect x="1267.3" y="653.7" width="5.1" height="5.1" fill="#DD8452"/>
<rect x="1291.4" y="653.7" width="5.1" height="5.1" fill="#DD8452"/>
<rect x="1315.5" y="631.1" width="5.1" height="5.1" fill="#DD8452"/>
<rect x="1339.5" y="612.8" width="5.1" height="5.1" fill="#DD8452"/>
<polygon points="836.5,717.6 850.3,709.1 853.7,690.3 857.1,690.3 860.6,689.8 864.0,689.7 867.5,684.9 939.7,683.3 943.1,683.2 946.6,663.9 977.5,663.2 981.0,662.7 984.4,651.6 1001.6,651.2 1005.0,646.0 1018.8,645.7 1022.2,644.7 1025.7,619.9 1039.4,619.6 1049.8,619.4 1053.2,618.5 1056.6,618.4 1060.1,601.7 1073.8,601.5 1077.3,593.3 1080.7,593.2 1084.2,591.0 1087.6,590.9 1091.0,581.9 1101.3,581.7 1104.8,579.5 1108.2,577.7 1111.7,577.7 1115.1,566.9 1122.0,566.8 1125.4,559.5 1128.9,559.4 1132.3,547.4 1139.2,547.3 1142.6,535.7 1170.1,536.8 1173.6,534.4 1177.0,523.1 1218.3,524.8 1221.7,524.5 1225.2,524.6 1228.6,515.8 1269.9,517.5 1273.3,517.7 1276.8,515.7 1328.4,517.8 1331.8,512.4 1349.0,513.1 1349.0,534.4 1331.8,535.1 1328.4,540.8 1276.8,543.0 1273.3,545.2 1269.9,545.4 1228.6,547.1 1225.2,556.2 1221.7,556.3 1218.3,556.9 1177.0,558.6 1173.6,570.2 1170.1,572.9 1142.6,574.0 1139.2,585.5 1132.3,585.3 1128.9,597.2 1125.4,597.1 1122.0,604.3 1115.1,604.2 1111.7,614.7 1108.2,614.7 1104.8,616.3 1101.3,618.4 1091.0,618.1 1087.6,627.0 1084.2,626.9 1080.7,629.0 1077.3,628.9 1073.8,637.0 1060.1,636.7 1056.6,653.2 1053.2,653.1 1049.8,653.9 1039.4,653.7 1025.7,653.4 1022.2,678.0 1018.8,678.8 1005.0,678.5 1001.6,683.5 984.4,683.1 981.0,694.1 977.5,694.5 946.6,693.8 943.1,712.8 939.7,712.8 867.5,711.1 864.0,715.7 860.6,715.6 857.1,716.0 853.7,715.9 850.3,730.4 836.5,721.9" fill="#4C72B0" fill-opacity="0.2" clip-path="url(#c4)"/>
<polyline points="836.5,719.7 850.3,719.7 853.7,703.1 857.1,703.1 860.6,702.7 864.0,702.7 867.5,698.0 939.7,698.0 943.1,698.0 946.6,678.8 977.5,678.8 981.0,678.4 984.4,667.3 1001.6,667.3 1005.0,662.2 1018.8,662.2 1022.2,661.4 1025.7,636.7 1049.8,636.7 1053.2,635.8 1056.6,635.8 1060.1,619.2 1073.8,619.2 1077.3,611.1 1080.7,611.1 1084.2,609.0 1087.6,609.0 1091.0,600.0 1101.3,600.0 1104.8,597.9 1108.2,596.2 1111.7,596.2 1115.1,585.5 1122.0,585.5 1125.4,578.3 1128.9,578.3 1132.3,566.4 1139.2,566.4 1142.6,554.9 1170.1,554.9 1173.6,552.3 1177.0,540.8 1218.3,540.8 1221.7,540.4 1225.2,540.4 1228.6,531.4 1269.9,531.4 1273.3,531.4 1276.8,529.3 1328.4,529.3 1331.8,523.8 1349.0,523.8" fill="none" stroke="#4C72B0" stroke-width="1.4" stroke-linejoin="round" clip-path="url(#c4)"/>
<circle cx="836.5" cy="719.7" r="2.8" fill="#4C72B0"/>
<circle cx="860.6" cy="702.7" r="2.8" fill="#4C72B0"/>
<circle cx="884.7" cy="698.0" r="2.8" fill="#4C72B0"/>
<circle cx="908.7" cy="698.0" r="2.8" fill="#4C72B0"/>
<circle cx="932.8" cy="698.0" r="2.8" fill="#4C72B0"/>
<circle cx="956.9" cy="678.8" r="2.8" fill="#4C72B0"/>
<circle cx="981.0" cy="678.4" r="2.8" fill="#4C72B0"/>
<circle cx="1005.0" cy="662.2" r="2.8" fill="#4C72B0"/>
<circle cx="1029.1" cy="636.7" r="2.8" fill="#4C72B0"/>
<circle cx="1053.2" cy="635.8" r="2.8" fill="#4C72B0"/>
<circle cx="1077.3" cy="611.1" r="2.8" fill="#4C72B0"/>
<circle cx="1101.3" cy="600.0" r="2.8" fill="#4C72B0"/>
<circle cx="1125.4" cy="578.3" r="2.8" fill="#4C72B0"/>
<circle cx="1149.5" cy="554.9" r="2.8" fill="#4C72B0"/>
<circle cx="1173.6" cy="552.3" r="2.8" fill="#4C72B0"/>
<circle cx="1197.7" cy="540.8" r="2.8" fill="#4C72B0"/>
<circle cx="1221.7" cy="540.4" r="2.8" fill="#4C72B0"/>
<circle cx="1245.8" cy="531.4" r="2.8" fill="#4C72B0"/>
<circle cx="1269.9" cy="531.4" r="2.8" fill="#4C72B0"/>
<circle cx="1294.0" cy="529.3" r="2.8" fill="#4C72B0"/>
<circle cx="1318.0" cy="529.3" r="2.8" fill="#4C72B0"/>
<circle cx="1342.1" cy="523.8" r="2.8" fill="#4C72B0"/>
<rect x="11.5" y="5.5" width="142.0" height="107.0" rx="1.5" fill="none" stroke="#474747" stroke-width="1.2" stroke-dasharray="2.9 2.5"/>
<line x1="11.5" y1="5.5" x2="153.5" y2="112.5" stroke="#474747" stroke-width="1.15" stroke-dasharray="3.1 2.5"/>
<text x="85" y="22" class="it">Target</text>
<text x="85" y="37" class="it">environment</text>
<text x="24.5" y="90" class="it">Source</text>
<text x="24.5" y="105" class="it">environment</text>
<rect x="694.5" y="6" width="142.0" height="108" rx="1.5" fill="none" stroke="#474747" stroke-width="1.2" stroke-dasharray="2.9 2.5"/>
<line x1="694.5" y1="6" x2="836.5" y2="114" stroke="#474747" stroke-width="1.15" stroke-dasharray="3.1 2.5"/>
<text x="767.5" y="24" class="it">Target</text>
<text x="767.5" y="39" class="it">environment</text>
<text x="707.5" y="91.5" class="it">Source</text>
<text x="707.5" y="106.5" class="it">environment</text>
<rect x="11" y="392.5" width="142.5" height="107.5" rx="1.5" fill="none" stroke="#474747" stroke-width="1.2" stroke-dasharray="2.9 2.5"/>
<line x1="11" y1="392.5" x2="153.5" y2="500" stroke="#474747" stroke-width="1.15" stroke-dasharray="3.1 2.5"/>
<text x="84" y="409" class="it">Target</text>
<text x="84" y="424" class="it">environment</text>
<text x="24" y="476" class="it">Source</text>
<text x="24" y="491" class="it">environment</text>
<rect x="694.5" y="393" width="142.0" height="108" rx="1.5" fill="none" stroke="#474747" stroke-width="1.2" stroke-dasharray="2.9 2.5"/>
<line x1="694.5" y1="393" x2="836.5" y2="501" stroke="#474747" stroke-width="1.15" stroke-dasharray="3.1 2.5"/>
<text x="767.5" y="410" class="it">Target</text>
<text x="767.5" y="425" class="it">environment</text>
<text x="707.5" y="477.5" class="it">Source</text>
<text x="707.5" y="492.5" class="it">environment</text>
<rect x="332" y="11" width="98" height="98" fill="#000" fill-opacity="0.42" filter="url(#shd)"/>
<use href="#hop1" x="328" y="6" width="96" height="96"/>
<rect x="19" y="177" width="98" height="98" fill="#000" fill-opacity="0.42" filter="url(#shd)"/>
<use href="#hop2" x="15" y="172" width="96" height="96"/>
<rect x="332" y="399" width="98" height="97" fill="#000" fill-opacity="0.42" filter="url(#shd)"/>
<use href="#ch1" x="328" y="394" width="96" height="95"/>
<rect x="19" y="566" width="98" height="96" fill="#000" fill-opacity="0.42" filter="url(#shd)"/>
<use href="#ch2" x="15" y="561" width="96" height="94"/>
<rect x="1015.5" y="12" width="98" height="98" fill="#000" fill-opacity="0.42" filter="url(#shd)"/>
<use href="#push1" x="1011.5" y="7" width="96" height="96"/>
<rect x="702" y="179" width="98" height="97.5" fill="#000" fill-opacity="0.42" filter="url(#shd)"/>
<use href="#push2" x="698" y="174" width="96" height="95.5"/>
<rect x="1015.5" y="398.5" width="98" height="98" fill="#000" fill-opacity="0.42" filter="url(#shd)"/>
<use href="#strk1" x="1011.5" y="393.5" width="96" height="96"/>
<rect x="702" y="565" width="98" height="98" fill="#000" fill-opacity="0.42" filter="url(#shd)"/>
<use href="#strk2" x="698" y="560" width="96" height="96"/>
<text x="442.5" y="20.5" class="it">Flexible</text>
<text x="442.5" y="36" class="it">Hopper</text>
<text x="17" y="298.5" class="it">Hopper</text>
<text x="442.5" y="407.5" class="it">Immobilized feet</text>
<text x="442.5" y="423.3" class="it">Half-Cheetah</text>
<text x="17.5" y="685" class="it">Half-Cheetah</text>
<text x="1126" y="22.6" class="it">7DOF-Pusher</text>
<text x="700.5" y="299.8" class="it">Demonstrator</text>
<text x="700.5" y="315" class="it">7DOF-Pusher</text>
<text x="1126" y="408.5" class="it">7DOF-Striker</text>
<text x="700.5" y="684.8" class="it">Demonstrator</text>
<text x="700.5" y="700" class="it">7DOF-Striker</text>
<rect x="4.5" y="781.5" width="1365.5" height="48" rx="3" fill="#EAEAF2" stroke="#cfcfd6" stroke-width="1"/>
<line x1="9" y1="792.5" x2="40.3" y2="792.5" stroke="#4C72B0" stroke-width="2"/>
<circle cx="24.6" cy="792.5" r="4.9" fill="#4C72B0"/>
<text x="52.9" y="799.0" class="lg" textLength="100" lengthAdjust="spacingAndGlyphs">DisentanGAIL</text>
<line x1="9" y1="815.2" x2="40.3" y2="815.2" stroke="#DD8452" stroke-width="2"/>
<rect x="20.2" y="810.7" width="8.9" height="8.9" fill="#DD8452"/>
<text x="52.9" y="821.7" class="lg" textLength="242" lengthAdjust="spacingAndGlyphs">DisentanGAIL without prior data</text>
<line x1="395" y1="792.5" x2="426" y2="792.5" stroke="#55A868" stroke-width="2"/>
<polygon points="410.5,786.3 416.7,792.5 410.5,798.7 404.3,792.5" fill="#55A868"/>
<text x="437.5" y="799.0" class="lg" textLength="31" lengthAdjust="spacingAndGlyphs">TPIL</text>
<line x1="395" y1="815.2" x2="426" y2="815.2" stroke="#C44E52" stroke-width="2"/>
<polygon points="410.5,810.1 415.6,819.0 405.4,819.0" fill="#C44E52"/>
<text x="437.5" y="821.7" class="lg" textLength="311" lengthAdjust="spacingAndGlyphs">DisentanGAIL with domain confusion loss</text>
<line x1="849" y1="792.5" x2="881.5" y2="792.5" stroke="#8172B3" stroke-width="2"/>
<polygon points="865.2,797.6 870.4,788.7 860.1,788.7" fill="#8172B3"/>
<text x="892.5" y="799.0" class="lg" textLength="295" lengthAdjust="spacingAndGlyphs">No latent representation regularization</text>
<line x1="849" y1="815.2" x2="881.5" y2="815.2" stroke="#937860" stroke-width="2"/>
<polygon points="865.2,811.2 866.3,813.7 869.1,813.9 867.0,815.8 867.6,818.5 865.2,817.0 862.9,818.5 863.5,815.8 861.4,813.9 864.2,813.7" fill="#937860"/>
<text x="892.5" y="821.7" class="lg" textLength="471" lengthAdjust="spacingAndGlyphs">No latent representation regularization in source environment</text>
</svg>
</body></html>
